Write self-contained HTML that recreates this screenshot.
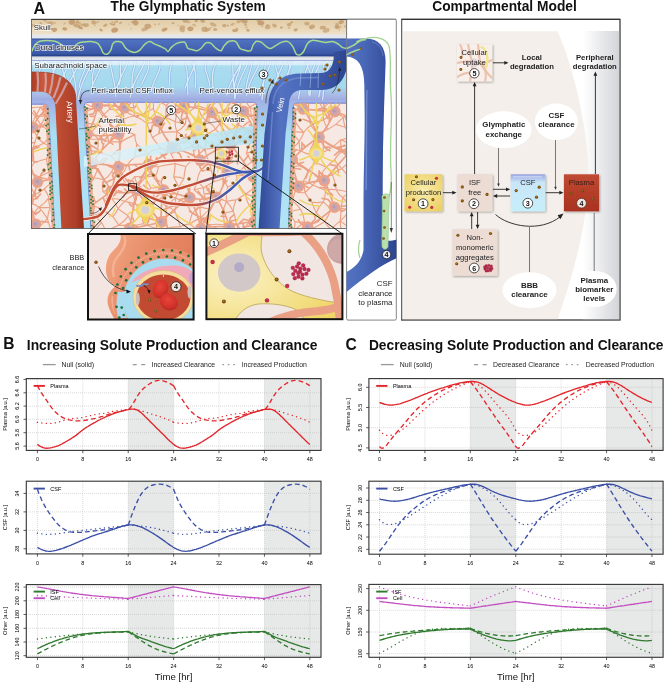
<!DOCTYPE html>
<html><head><meta charset="utf-8"><title>Glymphatic System</title>
<style>html,body{margin:0;padding:0;background:#fff;width:666px;height:685px;overflow:hidden}svg{display:block}text{font-family:"Liberation Sans",Arial,sans-serif}</style>
</head><body>
<svg width="666" height="685" viewBox="0 0 666 685" font-family="Liberation Sans, Arial, sans-serif">
<rect width="666" height="685" fill="#fff"/>
<defs>
<clipPath id="ill"><rect x="31.5" y="19.5" width="315" height="209"/></clipPath>
<linearGradient id="gsk" x1="0" y1="0" x2="0" y2="1"><stop offset="0" stop-color="#e2cda8"/><stop offset="0.6" stop-color="#e8d6b6"/><stop offset="1" stop-color="#efe3cd"/></linearGradient>
<linearGradient id="gdur" x1="0" y1="0" x2="0" y2="1"><stop offset="0" stop-color="#2c4894"/><stop offset="0.1" stop-color="#5070c0"/><stop offset="0.45" stop-color="#4767b6"/><stop offset="0.85" stop-color="#3a58a6"/><stop offset="1" stop-color="#233f88"/></linearGradient>
<linearGradient id="gsas" x1="0" y1="0" x2="0" y2="1"><stop offset="0" stop-color="#d5eef8"/><stop offset="0.15" stop-color="#aadcf0"/><stop offset="0.62" stop-color="#a4d9ee"/><stop offset="0.85" stop-color="#a9b8e6"/><stop offset="1" stop-color="#98a2de"/></linearGradient>
<linearGradient id="gart" x1="0" y1="0" x2="1" y2="0"><stop offset="0" stop-color="#a83c26"/><stop offset="0.2" stop-color="#c8583c"/><stop offset="0.45" stop-color="#c25034"/><stop offset="0.85" stop-color="#ad3e28"/><stop offset="1" stop-color="#8e2e1c"/></linearGradient>
<linearGradient id="gvein" x1="0" y1="0" x2="1" y2="0"><stop offset="0" stop-color="#2f4896"/><stop offset="0.25" stop-color="#5472c2"/><stop offset="0.5" stop-color="#4a68b8"/><stop offset="1" stop-color="#2c4490"/></linearGradient>
<linearGradient id="gpv" x1="0" y1="0" x2="0" y2="1"><stop offset="0" stop-color="#9fb0e6"/><stop offset="0.25" stop-color="#aadcf2"/><stop offset="1" stop-color="#b0e4f5"/></linearGradient>
</defs>
<g clip-path="url(#ill)">
<rect x="31.5" y="19.5" width="315" height="209" fill="#f5e8e2"/>
<rect x="31.5" y="19.5" width="315" height="15.2" fill="url(#gsk)"/>
<ellipse cx="133.7" cy="22.0" rx="2.6" ry="1.3" transform="rotate(2 133.7 22.0)" fill="#c49c70" opacity="0.73"/>
<ellipse cx="50.2" cy="25.6" rx="0.9" ry="0.6" transform="rotate(-26 50.2 25.6)" fill="#c49c70" opacity="0.63"/>
<ellipse cx="165.3" cy="28.8" rx="1.1" ry="0.6" transform="rotate(8 165.3 28.8)" fill="#c49c70" opacity="0.93"/>
<ellipse cx="213.2" cy="24.5" rx="3.5" ry="1.7" transform="rotate(22 213.2 24.5)" fill="#c49c70" opacity="0.70"/>
<ellipse cx="77.3" cy="21.7" rx="1.7" ry="1.3" transform="rotate(-19 77.3 21.7)" fill="#c49c70" opacity="0.80"/>
<ellipse cx="232.6" cy="24.2" rx="2.3" ry="1.1" transform="rotate(-26 232.6 24.2)" fill="#c49c70" opacity="0.67"/>
<ellipse cx="245.6" cy="24.8" rx="1.7" ry="1.1" transform="rotate(-3 245.6 24.8)" fill="#c49c70" opacity="0.70"/>
<ellipse cx="281.4" cy="27.5" rx="1.5" ry="1.0" transform="rotate(2 281.4 27.5)" fill="#c49c70" opacity="0.91"/>
<ellipse cx="261.0" cy="23.4" rx="3.5" ry="1.8" transform="rotate(-5 261.0 23.4)" fill="#c49c70" opacity="0.86"/>
<ellipse cx="79.7" cy="25.4" rx="0.9" ry="0.7" transform="rotate(16 79.7 25.4)" fill="#c49c70" opacity="0.80"/>
<ellipse cx="306.9" cy="23.6" rx="2.7" ry="1.9" transform="rotate(5 306.9 23.6)" fill="#c49c70" opacity="0.76"/>
<ellipse cx="295.7" cy="29.9" rx="2.1" ry="1.5" transform="rotate(-26 295.7 29.9)" fill="#c49c70" opacity="0.85"/>
<ellipse cx="235.2" cy="30.4" rx="3.1" ry="1.7" transform="rotate(-7 235.2 30.4)" fill="#c49c70" opacity="0.83"/>
<ellipse cx="39.1" cy="25.1" rx="1.3" ry="0.6" transform="rotate(-26 39.1 25.1)" fill="#c49c70" opacity="0.87"/>
<ellipse cx="72.6" cy="23.0" rx="1.9" ry="1.5" transform="rotate(-25 72.6 23.0)" fill="#c49c70" opacity="0.76"/>
<ellipse cx="204.5" cy="29.3" rx="3.1" ry="2.5" transform="rotate(-13 204.5 29.3)" fill="#c49c70" opacity="0.75"/>
<ellipse cx="144.7" cy="29.3" rx="3.5" ry="1.8" transform="rotate(-19 144.7 29.3)" fill="#c49c70" opacity="0.68"/>
<ellipse cx="105.3" cy="25.3" rx="2.4" ry="1.4" transform="rotate(-30 105.3 25.3)" fill="#c49c70" opacity="0.75"/>
<ellipse cx="147.9" cy="26.2" rx="3.5" ry="2.5" transform="rotate(1 147.9 26.2)" fill="#c49c70" opacity="0.82"/>
<ellipse cx="244.3" cy="21.0" rx="3.3" ry="2.5" transform="rotate(22 244.3 21.0)" fill="#c49c70" opacity="0.88"/>
<ellipse cx="155.2" cy="24.5" rx="1.1" ry="0.8" transform="rotate(-26 155.2 24.5)" fill="#c49c70" opacity="0.62"/>
<ellipse cx="97.6" cy="22.1" rx="1.8" ry="0.8" transform="rotate(-30 97.6 22.1)" fill="#c49c70" opacity="0.65"/>
<ellipse cx="63.9" cy="24.1" rx="0.9" ry="0.7" transform="rotate(7 63.9 24.1)" fill="#c49c70" opacity="0.65"/>
<ellipse cx="111.2" cy="24.0" rx="1.8" ry="0.9" transform="rotate(21 111.2 24.0)" fill="#c49c70" opacity="0.95"/>
<ellipse cx="178.3" cy="25.3" rx="1.0" ry="0.5" transform="rotate(-9 178.3 25.3)" fill="#c49c70" opacity="0.69"/>
<ellipse cx="292.3" cy="22.1" rx="0.9" ry="0.7" transform="rotate(2 292.3 22.1)" fill="#c49c70" opacity="0.65"/>
<ellipse cx="202.6" cy="20.8" rx="2.3" ry="1.9" transform="rotate(22 202.6 20.8)" fill="#c49c70" opacity="0.84"/>
<ellipse cx="114.0" cy="24.2" rx="1.3" ry="1.0" transform="rotate(2 114.0 24.2)" fill="#c49c70" opacity="0.87"/>
<ellipse cx="135.5" cy="22.7" rx="3.1" ry="2.6" transform="rotate(21 135.5 22.7)" fill="#c49c70" opacity="0.88"/>
<ellipse cx="289.0" cy="27.9" rx="1.4" ry="0.9" transform="rotate(-9 289.0 27.9)" fill="#c49c70" opacity="0.61"/>
<ellipse cx="40.8" cy="23.3" rx="1.5" ry="1.1" transform="rotate(27 40.8 23.3)" fill="#c49c70" opacity="0.76"/>
<ellipse cx="326.2" cy="30.4" rx="3.5" ry="2.1" transform="rotate(-17 326.2 30.4)" fill="#c49c70" opacity="0.68"/>
<ellipse cx="93.8" cy="22.5" rx="2.5" ry="2.1" transform="rotate(20 93.8 22.5)" fill="#c49c70" opacity="0.77"/>
<ellipse cx="237.0" cy="28.5" rx="1.0" ry="0.7" transform="rotate(25 237.0 28.5)" fill="#c49c70" opacity="0.87"/>
<ellipse cx="267.5" cy="25.3" rx="1.3" ry="1.0" transform="rotate(-10 267.5 25.3)" fill="#c49c70" opacity="0.88"/>
<ellipse cx="337.1" cy="24.5" rx="1.9" ry="1.6" transform="rotate(13 337.1 24.5)" fill="#c49c70" opacity="0.66"/>
<ellipse cx="71.9" cy="22.0" rx="3.3" ry="2.6" transform="rotate(-21 71.9 22.0)" fill="#c49c70" opacity="0.89"/>
<ellipse cx="339.8" cy="27.1" rx="1.8" ry="1.2" transform="rotate(-22 339.8 27.1)" fill="#c49c70" opacity="0.60"/>
<ellipse cx="336.9" cy="27.0" rx="2.3" ry="1.9" transform="rotate(-4 336.9 27.0)" fill="#c49c70" opacity="0.91"/>
<ellipse cx="291.4" cy="22.6" rx="1.5" ry="0.9" transform="rotate(-16 291.4 22.6)" fill="#c49c70" opacity="0.81"/>
<ellipse cx="113.4" cy="24.7" rx="1.2" ry="0.9" transform="rotate(-9 113.4 24.7)" fill="#c49c70" opacity="0.76"/>
<ellipse cx="215.2" cy="29.5" rx="2.0" ry="1.6" transform="rotate(0 215.2 29.5)" fill="#c49c70" opacity="0.79"/>
<ellipse cx="196.4" cy="20.7" rx="2.0" ry="1.1" transform="rotate(-30 196.4 20.7)" fill="#c49c70" opacity="0.88"/>
<ellipse cx="86.1" cy="25.2" rx="2.8" ry="1.9" transform="rotate(-10 86.1 25.2)" fill="#c49c70" opacity="0.78"/>
<ellipse cx="206.4" cy="28.3" rx="1.1" ry="0.7" transform="rotate(-15 206.4 28.3)" fill="#c49c70" opacity="0.70"/>
<ellipse cx="274.5" cy="25.6" rx="2.4" ry="1.8" transform="rotate(25 274.5 25.6)" fill="#c49c70" opacity="0.76"/>
<ellipse cx="224.3" cy="25.6" rx="2.2" ry="1.6" transform="rotate(-3 224.3 25.6)" fill="#c49c70" opacity="0.79"/>
<ellipse cx="182.1" cy="29.9" rx="2.8" ry="2.2" transform="rotate(27 182.1 29.9)" fill="#c49c70" opacity="0.69"/>
<ellipse cx="207.7" cy="29.9" rx="3.2" ry="1.6" transform="rotate(-23 207.7 29.9)" fill="#c49c70" opacity="0.75"/>
<ellipse cx="54.8" cy="22.9" rx="1.0" ry="0.7" transform="rotate(17 54.8 22.9)" fill="#c49c70" opacity="0.91"/>
<ellipse cx="80.5" cy="27.7" rx="2.6" ry="1.3" transform="rotate(23 80.5 27.7)" fill="#c49c70" opacity="0.94"/>
<ellipse cx="101.0" cy="30.0" rx="1.9" ry="1.2" transform="rotate(29 101.0 30.0)" fill="#c49c70" opacity="0.89"/>
<ellipse cx="82.7" cy="24.8" rx="2.2" ry="1.3" transform="rotate(-18 82.7 24.8)" fill="#c49c70" opacity="0.71"/>
<ellipse cx="258.8" cy="20.7" rx="2.4" ry="1.5" transform="rotate(-29 258.8 20.7)" fill="#c49c70" opacity="0.72"/>
<ellipse cx="227.9" cy="25.6" rx="1.0" ry="0.8" transform="rotate(17 227.9 25.6)" fill="#c49c70" opacity="0.94"/>
<ellipse cx="64.9" cy="23.2" rx="0.9" ry="0.7" transform="rotate(-14 64.9 23.2)" fill="#c49c70" opacity="0.65"/>
<ellipse cx="164.6" cy="29.6" rx="3.1" ry="1.7" transform="rotate(-21 164.6 29.6)" fill="#c49c70" opacity="0.92"/>
<ellipse cx="211.2" cy="27.5" rx="1.1" ry="0.5" transform="rotate(11 211.2 27.5)" fill="#c49c70" opacity="0.75"/>
<ellipse cx="54.7" cy="29.9" rx="2.6" ry="2.0" transform="rotate(-25 54.7 29.9)" fill="#c49c70" opacity="0.90"/>
<ellipse cx="52.9" cy="29.1" rx="2.1" ry="1.2" transform="rotate(3 52.9 29.1)" fill="#c49c70" opacity="0.92"/>
<ellipse cx="116.1" cy="21.8" rx="2.3" ry="1.2" transform="rotate(-23 116.1 21.8)" fill="#c49c70" opacity="0.66"/>
<ellipse cx="47.8" cy="22.5" rx="1.7" ry="1.0" transform="rotate(16 47.8 22.5)" fill="#c49c70" opacity="0.70"/>
<ellipse cx="189.0" cy="22.3" rx="1.8" ry="0.8" transform="rotate(-15 189.0 22.3)" fill="#c49c70" opacity="0.61"/>
<ellipse cx="262.2" cy="26.0" rx="1.3" ry="0.9" transform="rotate(26 262.2 26.0)" fill="#c49c70" opacity="0.64"/>
<ellipse cx="289.1" cy="24.8" rx="2.2" ry="1.7" transform="rotate(-6 289.1 24.8)" fill="#c49c70" opacity="0.78"/>
<ellipse cx="248.0" cy="30.3" rx="1.8" ry="1.4" transform="rotate(12 248.0 30.3)" fill="#c49c70" opacity="0.82"/>
<ellipse cx="159.1" cy="24.0" rx="1.0" ry="0.5" transform="rotate(-26 159.1 24.0)" fill="#c49c70" opacity="0.86"/>
<ellipse cx="112.3" cy="22.1" rx="1.0" ry="0.8" transform="rotate(22 112.3 22.1)" fill="#c49c70" opacity="0.83"/>
<ellipse cx="120.5" cy="22.9" rx="1.6" ry="1.0" transform="rotate(-21 120.5 22.9)" fill="#c49c70" opacity="0.76"/>
<ellipse cx="114.7" cy="30.1" rx="3.5" ry="2.4" transform="rotate(-15 114.7 30.1)" fill="#c49c70" opacity="0.94"/>
<ellipse cx="129.2" cy="24.1" rx="0.8" ry="0.5" transform="rotate(-2 129.2 24.1)" fill="#c49c70" opacity="0.78"/>
<ellipse cx="95.1" cy="25.5" rx="0.8" ry="0.5" transform="rotate(-25 95.1 25.5)" fill="#c49c70" opacity="0.74"/>
<ellipse cx="45.1" cy="20.7" rx="1.7" ry="0.9" transform="rotate(5 45.1 20.7)" fill="#c49c70" opacity="0.79"/>
<ellipse cx="267.7" cy="27.1" rx="2.8" ry="2.2" transform="rotate(-7 267.7 27.1)" fill="#c49c70" opacity="0.71"/>
<ellipse cx="341.2" cy="22.0" rx="2.8" ry="2.0" transform="rotate(-27 341.2 22.0)" fill="#c49c70" opacity="0.89"/>
<ellipse cx="312.1" cy="26.8" rx="2.9" ry="2.2" transform="rotate(-22 312.1 26.8)" fill="#c49c70" opacity="0.78"/>
<ellipse cx="190.4" cy="28.8" rx="3.1" ry="2.4" transform="rotate(5 190.4 28.8)" fill="#c49c70" opacity="0.91"/>
<ellipse cx="246.4" cy="27.4" rx="1.4" ry="0.7" transform="rotate(-22 246.4 27.4)" fill="#c49c70" opacity="0.73"/>
<ellipse cx="64.9" cy="28.9" rx="2.4" ry="1.7" transform="rotate(8 64.9 28.9)" fill="#c49c70" opacity="0.84"/>
<ellipse cx="185.6" cy="20.5" rx="3.0" ry="2.3" transform="rotate(0 185.6 20.5)" fill="#c49c70" opacity="0.79"/>
<ellipse cx="239.0" cy="21.2" rx="2.9" ry="1.6" transform="rotate(-26 239.0 21.2)" fill="#c49c70" opacity="0.69"/>
<ellipse cx="261.0" cy="22.6" rx="2.9" ry="2.4" transform="rotate(-0 261.0 22.6)" fill="#c49c70" opacity="0.73"/>
<ellipse cx="182.4" cy="27.3" rx="2.9" ry="2.1" transform="rotate(9 182.4 27.3)" fill="#c49c70" opacity="0.63"/>
<ellipse cx="78.3" cy="23.0" rx="2.9" ry="1.6" transform="rotate(4 78.3 23.0)" fill="#c49c70" opacity="0.60"/>
<ellipse cx="51.0" cy="23.2" rx="2.7" ry="1.9" transform="rotate(11 51.0 23.2)" fill="#c49c70" opacity="0.70"/>
<ellipse cx="194.2" cy="25.1" rx="2.1" ry="1.0" transform="rotate(24 194.2 25.1)" fill="#c49c70" opacity="0.67"/>
<ellipse cx="339.1" cy="29.9" rx="0.8" ry="0.5" transform="rotate(19 339.1 29.9)" fill="#c49c70" opacity="0.94"/>
<ellipse cx="173.1" cy="23.2" rx="1.4" ry="1.1" transform="rotate(-17 173.1 23.2)" fill="#c49c70" opacity="0.80"/>
<ellipse cx="76.5" cy="25.7" rx="3.5" ry="1.7" transform="rotate(19 76.5 25.7)" fill="#c49c70" opacity="0.78"/>
<ellipse cx="310.5" cy="27.5" rx="1.4" ry="1.2" transform="rotate(-1 310.5 27.5)" fill="#c49c70" opacity="0.61"/>
<ellipse cx="33.1" cy="25.4" rx="2.1" ry="1.2" transform="rotate(-22 33.1 25.4)" fill="#c49c70" opacity="0.72"/>
<ellipse cx="131.2" cy="28.9" rx="0.8" ry="0.6" transform="rotate(20 131.2 28.9)" fill="#c49c70" opacity="0.64"/>
<ellipse cx="322.9" cy="27.6" rx="3.3" ry="1.9" transform="rotate(-8 322.9 27.6)" fill="#c49c70" opacity="0.74"/>
<ellipse cx="345.6" cy="26.4" rx="1.8" ry="1.1" transform="rotate(-13 345.6 26.4)" fill="#c49c70" opacity="0.62"/>
<ellipse cx="63.9" cy="28.8" rx="1.6" ry="1.3" transform="rotate(-15 63.9 28.8)" fill="#c49c70" opacity="0.69"/>
<rect x="31.5" y="34.6" width="315" height="4" fill="#e4e8ee"/>
<rect x="31.5" y="38.5" width="320" height="17.6" fill="url(#gdur)"/>
<rect x="31.5" y="56" width="298" height="5" rx="2" fill="#e3e6eb"/>
<rect x="31.5" y="56.3" width="315" height="0.8" fill="#2a3f86" opacity="0.6"/>
<path d="M31.5,60.6H346.5" stroke="#8896d6" stroke-width="0.8"/>
<rect x="31.5" y="61" width="315" height="41" fill="url(#gsas)"/>
<path d="M31.70,51.50C32.25,50.40 33.63,46.60 35.00,44.90C36.37,43.20 37.98,42.03 39.90,41.30C41.82,40.57 44.02,40.50 46.50,40.50C48.98,40.50 52.45,40.70 54.80,41.30C57.15,41.90 58.95,42.95 60.60,44.10C62.25,45.25 63.20,47.10 64.70,48.20C66.20,49.30 68.23,50.70 69.60,50.70C70.97,50.70 71.52,49.43 72.90,48.20C74.28,46.97 75.97,44.35 77.90,43.30C79.83,42.25 82.30,42.18 84.50,41.90C86.70,41.62 88.90,41.37 91.10,41.60C93.30,41.83 96.05,42.20 97.70,43.30C99.35,44.40 100.03,46.55 101.00,48.20C101.97,49.85 102.40,52.23 103.50,53.20C104.60,54.17 106.37,54.55 107.60,54.00C108.83,53.45 110.07,51.55 110.90,49.90C111.73,48.25 111.77,45.48 112.60,44.10C113.43,42.72 114.38,41.88 115.90,41.60C117.42,41.32 120.05,41.30 121.70,42.40C123.35,43.50 124.30,46.68 125.80,48.20C127.30,49.72 129.08,50.82 130.70,51.50C132.32,52.18 133.95,52.57 135.50,52.30C137.05,52.03 138.43,51.27 140.00,49.90C141.57,48.53 143.25,45.48 144.90,44.10C146.55,42.72 148.25,41.60 149.90,41.60C151.55,41.60 152.88,43.22 154.80,44.10C156.72,44.98 159.60,46.08 161.40,46.90C163.20,47.72 164.50,48.23 165.60,49.00C166.70,49.77 167.05,51.77 168.00,51.50C168.95,51.23 169.92,48.72 171.30,47.40C172.68,46.08 174.37,44.48 176.30,43.60C178.23,42.72 181.38,42.22 182.90,42.10C184.42,41.98 184.58,41.88 185.40,42.90C186.22,43.92 186.70,47.10 187.80,48.20C188.90,49.30 190.48,49.08 192.00,49.50C193.52,49.92 195.38,50.92 196.90,50.70C198.42,50.48 199.58,49.50 201.10,48.20C202.62,46.90 204.35,43.72 206.00,42.90C207.65,42.08 209.35,42.42 211.00,43.30C212.65,44.18 214.25,46.97 215.90,48.20C217.55,49.43 219.52,51.12 220.90,50.70C222.28,50.28 222.83,47.27 224.20,45.70C225.57,44.13 227.18,41.98 229.10,41.30C231.02,40.62 233.90,40.45 235.70,41.60C237.50,42.75 238.35,46.77 239.90,48.20C241.45,49.63 243.20,49.78 245.00,50.20C246.80,50.62 249.33,51.58 250.70,50.70C252.07,49.82 252.23,46.47 253.20,44.90C254.17,43.33 255.12,41.72 256.50,41.30C257.88,40.88 259.85,41.52 261.50,42.40C263.15,43.28 264.88,45.58 266.40,46.60C267.92,47.62 269.08,48.65 270.60,48.50C272.12,48.35 273.72,46.72 275.50,45.70C277.28,44.68 279.23,43.08 281.30,42.40C283.37,41.72 285.98,40.90 287.90,41.60C289.82,42.30 291.42,44.53 292.80,46.60C294.18,48.67 294.95,52.63 296.20,54.00C297.45,55.37 299.07,55.22 300.30,54.80C301.53,54.38 302.37,53.42 303.60,51.50C304.83,49.58 306.18,45.17 307.70,43.30C309.22,41.43 310.77,40.63 312.70,40.30C314.63,39.97 317.10,40.95 319.30,41.30C321.50,41.65 323.70,42.35 325.90,42.40C328.10,42.45 330.43,41.32 332.50,41.60C334.57,41.88 336.65,43.13 338.30,44.10C339.95,45.07 340.90,46.72 342.40,47.40C343.90,48.08 345.37,48.60 347.30,48.20C349.23,47.80 351.88,46.20 354.00,45.00C356.12,43.80 358.00,41.92 360.00,41.00C362.00,40.08 365.00,39.75 366.00,39.50" stroke="#a6d890" stroke-width="1.5" fill="none" stroke-linejoin="round"/><path d="M322.00,66.00C323.33,65.50 327.33,64.00 330.00,63.00C332.67,62.00 335.67,61.17 338.00,60.00C340.33,58.83 342.00,57.17 344.00,56.00C346.00,54.83 348.00,53.92 350.00,53.00C352.00,52.08 354.00,51.25 356.00,50.50C358.00,49.75 361.00,48.83 362.00,48.50" stroke="#a6d890" stroke-width="1.4" fill="none"/>
<path d="M38.1,61C43.5,70 36.8,76 33.7,90.3M50.8,61C51.4,70 58.3,76 56.6,100.0M58.4,61C56.4,70 47.8,78 44.8,91.2M63.5,61C58.1,70 69.0,76 65.5,88.9M69.9,61C67.9,70 60.5,78 57.5,89.5M72.8,61C69.9,70 77.4,76 76.1,100.6M79.6,61C77.6,70 69.8,78 66.8,90.3M84.0,61C88.9,70 79.2,76 79.3,87.5M92.5,61C90.5,70 81.0,78 78.0,99.9M97.7,61C92.8,70 91.4,76 92.7,87.3M102.9,61C100.9,70 94.7,78 91.7,88.1M110.4,61C109.4,70 115.2,76 115.8,96.7M121.3,61C118.6,70 122.7,76 119.0,85.1M127.8,61C125.8,70 118.3,78 115.3,94.1M136.2,61C133.2,70 131.4,76 132.2,88.6M144.9,61C142.9,70 133.2,78 130.2,97.6M148.2,61C150.8,70 144.7,76 141.5,84.5M158.5,61C163.6,70 154.1,76 151.5,90.7M172.8,61C168.7,70 169.5,76 169.3,85.9M184.6,61C187.8,70 187.4,76 187.8,95.0M191.2,61C196.3,70 196.4,76 195.2,88.0M195.9,61C193.9,70 188.2,78 185.2,88.0M206.8,61C201.7,70 209.8,76 209.6,85.9M217.3,61C211.5,70 211.9,76 213.5,94.2M232.8,61C232.5,70 232.7,76 234.8,99.0M241.6,61C239.6,70 229.8,78 226.8,95.3M240.8,61C242.9,70 233.5,76 234.1,92.5M248.2,61C246.2,70 237.8,78 234.8,98.8M252.4,61C251.4,70 247.3,76 245.8,89.7M260.3,61C258.3,70 249.4,78 246.4,95.8M266.0,61C263.8,70 264.5,76 261.9,100.5M271.1,61C269.1,70 263.0,78 260.0,96.2M276.8,61C273.0,70 280.9,76 283.1,92.4M284.1,61C282.1,70 273.8,78 270.8,99.2M287.9,61C293.6,70 283.5,76 286.4,87.6M292.2,61C290.2,70 284.9,78 281.9,90.3M304.4,61C310.4,70 313.2,76 309.8,96.5M309.3,61C307.3,70 301.4,78 298.4,99.0M315.5,61C314.0,70 307.9,76 308.9,95.3M320.3,61C318.3,70 312.5,78 309.5,84.0M324.7,61C320.2,70 326.3,76 322.6,100.2M330.5,61C328.5,70 321.7,78 318.7,97.1M339.9,61C339.6,70 338.0,76 339.0,84.8" stroke="#7c92da" stroke-width="2.5" fill="none" opacity="0.5"/>
<path d="M38.1,61C43.5,70 36.8,76 33.7,90.3M50.8,61C51.4,70 58.3,76 56.6,100.0M58.4,61C56.4,70 47.8,78 44.8,91.2M63.5,61C58.1,70 69.0,76 65.5,88.9M69.9,61C67.9,70 60.5,78 57.5,89.5M72.8,61C69.9,70 77.4,76 76.1,100.6M79.6,61C77.6,70 69.8,78 66.8,90.3M84.0,61C88.9,70 79.2,76 79.3,87.5M92.5,61C90.5,70 81.0,78 78.0,99.9M97.7,61C92.8,70 91.4,76 92.7,87.3M102.9,61C100.9,70 94.7,78 91.7,88.1M110.4,61C109.4,70 115.2,76 115.8,96.7M121.3,61C118.6,70 122.7,76 119.0,85.1M127.8,61C125.8,70 118.3,78 115.3,94.1M136.2,61C133.2,70 131.4,76 132.2,88.6M144.9,61C142.9,70 133.2,78 130.2,97.6M148.2,61C150.8,70 144.7,76 141.5,84.5M158.5,61C163.6,70 154.1,76 151.5,90.7M172.8,61C168.7,70 169.5,76 169.3,85.9M184.6,61C187.8,70 187.4,76 187.8,95.0M191.2,61C196.3,70 196.4,76 195.2,88.0M195.9,61C193.9,70 188.2,78 185.2,88.0M206.8,61C201.7,70 209.8,76 209.6,85.9M217.3,61C211.5,70 211.9,76 213.5,94.2M232.8,61C232.5,70 232.7,76 234.8,99.0M241.6,61C239.6,70 229.8,78 226.8,95.3M240.8,61C242.9,70 233.5,76 234.1,92.5M248.2,61C246.2,70 237.8,78 234.8,98.8M252.4,61C251.4,70 247.3,76 245.8,89.7M260.3,61C258.3,70 249.4,78 246.4,95.8M266.0,61C263.8,70 264.5,76 261.9,100.5M271.1,61C269.1,70 263.0,78 260.0,96.2M276.8,61C273.0,70 280.9,76 283.1,92.4M284.1,61C282.1,70 273.8,78 270.8,99.2M287.9,61C293.6,70 283.5,76 286.4,87.6M292.2,61C290.2,70 284.9,78 281.9,90.3M304.4,61C310.4,70 313.2,76 309.8,96.5M309.3,61C307.3,70 301.4,78 298.4,99.0M315.5,61C314.0,70 307.9,76 308.9,95.3M320.3,61C318.3,70 312.5,78 309.5,84.0M324.7,61C320.2,70 326.3,76 322.6,100.2M330.5,61C328.5,70 321.7,78 318.7,97.1M339.9,61C339.6,70 338.0,76 339.0,84.8" stroke="#e4f6fc" stroke-width="1.3" fill="none" opacity="0.85"/>
<rect x="31.5" y="61" width="315" height="4" fill="#eaf6fb" opacity="0.6"/>
<rect x="31.5" y="100" width="315" height="130" fill="url(#gpv)"/>
<path d="M20,104.2H44.3Q48.3,104.2 48.4,108.2L55.3,240H20Z" fill="#f6e9e3" stroke="#6a78cc" stroke-width="0.9"/>
<path d="M84,106.3Q84,102.3 88,102.3H253Q257,102.3 257,106.3L255,240H91.5Z" fill="#f6e9e3" stroke="#6a78cc" stroke-width="0.9"/>
<path d="M293,107.2Q293,103.2 297,103.2H360V240H288Z" fill="#f6e9e3" stroke="#6a78cc" stroke-width="0.9"/>
<clipPath id="blk"><path d="M20,104.2H44.3Q48.3,104.2 48.4,108.2L55.3,240H20Z"/><path d="M84,106.3Q84,102.3 88,102.3H253Q257,102.3 257,106.3L255,240H91.5Z"/><path d="M293,107.2Q293,103.2 297,103.2H360V240H288Z"/></clipPath>
<g clip-path="url(#blk)">
<path d="M33.0,148.1Q38.6,146.0 43.8,143.3M33.0,148.1Q35.1,142.3 36.8,135.9M33.0,148.1Q33.2,154.6 34.1,162.7M51.3,104.0Q46.4,106.6 40.6,107.0M51.3,104.0Q48.8,110.5 45.3,116.0M38.7,207.2Q35.5,204.2 29.5,202.8M38.7,207.2Q44.6,208.2 50.0,207.2M38.7,207.2Q35.8,210.4 32.0,216.7M28.9,108.3Q32.1,113.1 35.3,116.1M28.9,108.3Q33.8,107.3 40.6,107.0M28.9,108.3Q31.5,116.5 31.1,125.0M51.9,133.9Q52.2,129.3 52.1,124.1M51.9,133.9Q48.9,138.5 43.8,143.3M51.9,133.9Q47.5,130.0 40.8,124.9M47.4,218.6Q48.4,213.2 50.0,207.2M47.4,218.6Q48.6,223.2 51.0,230.4M47.4,218.6Q43.0,211.5 38.7,207.2M36.8,135.9Q39.7,140.6 43.8,143.3M36.8,135.9Q40.2,129.5 40.8,124.9M36.8,135.9Q33.0,130.0 31.1,125.0M52.9,181.4Q50.6,175.8 48.7,172.3M52.9,181.4Q49.4,184.2 44.1,189.0M52.9,181.4Q46.0,178.5 38.9,176.9M34.8,194.6Q32.6,197.6 29.5,202.8M34.8,194.6Q39.5,192.8 44.1,189.0M34.8,194.6Q31.2,188.5 30.5,184.2M34.1,162.7Q30.2,168.8 28.9,172.9M34.1,162.7Q40.8,160.1 46.5,159.0M52.1,124.1Q49.9,119.1 45.3,116.0M52.1,124.1Q46.4,125.2 40.8,124.9M48.9,197.5Q46.8,191.9 44.1,189.0M48.9,197.5Q48.1,201.4 50.0,207.2M48.9,197.5Q45.1,203.5 38.7,207.2M43.8,143.3Q47.4,144.8 52.2,149.1M28.9,172.9Q34.3,174.0 38.9,176.9M28.9,172.9Q30.9,179.8 30.5,184.2M36.5,229.4Q35.1,223.9 32.0,216.7M36.5,229.4Q44.6,230.9 51.0,230.4M36.5,229.4Q41.6,224.7 47.4,218.6M46.5,159.0Q47.9,154.7 52.2,149.1M46.5,159.0Q47.4,167.1 48.7,172.3M45.3,116.0Q43.9,120.3 40.8,124.9M45.3,116.0Q40.9,116.3 35.3,116.1M45.3,116.0Q43.3,110.0 40.6,107.0M32.0,216.7Q29.9,209.0 29.5,202.8M31.1,125.0Q36.6,126.2 40.8,124.9M31.1,125.0Q33.6,121.3 35.3,116.1M52.2,149.1Q52.5,140.5 51.9,133.9M48.7,172.3Q43.1,174.9 38.9,176.9M40.6,107.0Q38.7,111.3 35.3,116.1M38.9,176.9Q35.3,180.1 30.5,184.2M40.8,124.9Q37.5,119.5 35.3,116.1" stroke="#eca385" stroke-width="1.15" fill="none" stroke-linecap="round"/>
<path d="M155.7,175.7Q157.8,171.9 158.5,166.5M155.7,175.7Q149.1,176.5 145.2,177.4M155.7,175.7Q158.1,181.7 160.5,186.6M101.5,222.6Q97.3,227.5 95.1,229.8M101.5,222.6Q104.2,226.2 105.6,232.0M101.5,222.6Q98.9,219.3 93.3,215.9M83.5,196.0Q86.4,191.8 87.8,186.4M83.5,196.0Q88.9,200.9 94.7,206.0M143.7,223.7Q141.7,219.8 142.4,213.9M143.7,223.7Q139.0,223.8 133.1,226.4M143.7,223.7Q150.4,226.8 156.4,228.6M133.0,101.4Q126.9,106.5 122.7,109.5M133.0,101.4Q126.8,99.9 119.4,99.5M133.0,101.4Q133.9,109.5 134.6,116.0M204.9,148.7Q210.9,149.3 214.8,147.8M204.9,148.7Q198.2,147.7 192.8,146.4M204.9,148.7Q206.4,142.8 205.3,135.4M227.6,187.3Q224.6,181.6 223.5,178.0M227.6,187.3Q234.2,184.1 238.3,183.8M227.6,187.3Q225.9,193.0 226.5,201.5M160.5,186.6Q163.2,189.5 165.2,195.2M160.5,186.6Q155.0,188.5 150.8,187.8M116.7,185.6Q121.0,185.2 126.7,185.2M116.7,185.6Q118.7,180.7 121.7,174.3M116.7,185.6Q112.8,191.8 111.7,198.5M183.3,104.4Q178.1,108.8 175.6,110.4M183.3,104.4Q180.8,102.3 175.8,98.1M183.3,104.4Q184.9,110.5 186.7,114.0M110.8,155.7Q114.5,158.5 116.6,163.3M110.8,155.7Q115.3,154.1 120.2,152.5M110.8,155.7Q103.3,154.0 97.9,151.6M98.0,168.3Q96.7,171.9 93.9,178.0M98.0,168.3Q101.1,174.8 103.6,179.8M98.0,168.3Q92.3,168.9 84.3,167.6M152.4,137.6Q158.3,133.6 162.9,132.0M152.4,137.6Q156.8,143.3 160.3,148.2M152.4,137.6Q149.1,129.6 146.7,123.4M215.6,196.9Q210.2,196.5 205.6,198.5M215.6,196.9Q221.5,199.3 226.5,201.5M215.6,196.9Q214.2,202.3 210.0,209.1M93.9,178.0Q98.2,177.9 103.6,179.8M93.9,178.0Q92.1,182.0 87.8,186.4M258.7,179.3Q254.9,176.5 249.4,176.5M258.7,179.3Q257.4,184.7 253.9,188.2M258.7,179.3Q259.2,172.4 259.7,167.2M257.3,129.2Q252.7,131.1 247.6,130.1M257.3,129.2Q253.4,135.0 251.3,140.7M257.3,129.2Q255.5,123.7 250.9,116.7M121.3,141.8Q119.3,146.0 120.2,152.5M121.3,141.8Q123.1,135.4 125.2,130.2M121.3,141.8Q114.3,141.9 108.7,141.6M123.7,119.4Q123.9,114.8 122.7,109.5M123.7,119.4Q125.4,123.9 125.2,130.2M123.7,119.4Q128.3,116.5 134.6,116.0M127.3,165.1Q124.9,171.1 121.7,174.3M127.3,165.1Q130.1,160.6 134.7,157.1M127.3,165.1Q122.0,163.2 116.6,163.3M226.5,201.5Q232.3,199.9 235.9,199.9M226.5,201.5Q230.5,205.3 233.2,211.3M195.6,133.6Q201.9,134.2 205.3,135.4M195.6,133.6Q190.0,135.6 184.6,138.1M195.6,133.6Q194.4,139.4 192.8,146.4M83.2,213.2Q88.3,214.7 93.3,215.9M83.2,213.2Q83.2,219.5 85.5,226.4M83.2,213.2Q90.0,209.3 94.7,206.0M106.0,132.0Q107.6,135.3 108.7,141.6M106.0,132.0Q111.0,128.4 115.3,127.3M106.0,132.0Q101.7,136.9 98.2,139.2M136.1,204.7Q134.5,199.2 133.1,195.0M136.1,204.7Q140.1,209.1 142.4,213.9M136.1,204.7Q130.1,202.3 124.6,201.4M250.3,220.7Q254.4,222.7 260.0,226.9M250.3,220.7Q255.0,216.5 259.7,212.8M250.3,220.7Q246.1,226.0 241.9,232.0M233.2,211.3Q228.2,212.0 222.6,213.9M233.2,211.3Q233.6,205.7 235.9,199.9M166.1,105.5Q170.3,106.6 175.6,110.4M166.1,105.5Q166.1,111.4 165.7,117.6M166.1,105.5Q170.6,100.8 175.8,98.1M102.6,116.0Q101.5,121.8 98.2,124.8M102.6,116.0Q105.1,113.5 109.7,109.2M102.6,116.0Q99.8,110.8 94.5,107.5M233.5,100.1Q239.2,100.2 242.9,99.1M233.5,100.1Q235.5,107.3 237.6,113.9M233.5,100.1Q228.1,105.4 223.6,111.6M211.4,170.8Q210.6,167.3 208.7,161.6M211.4,170.8Q205.3,169.8 200.4,170.8M211.4,170.8Q213.0,176.7 214.5,181.5M223.6,111.6Q222.1,115.4 222.3,121.8M223.6,111.6Q219.5,104.8 218.1,99.2M223.6,111.6Q231.1,113.2 237.6,113.9M209.0,122.3Q213.5,124.9 215.4,129.4M209.0,122.3Q204.2,119.8 201.5,116.2M209.0,122.3Q209.4,115.3 209.1,109.5M136.8,144.2Q134.5,139.5 135.0,134.6M136.8,144.2Q135.8,150.6 134.7,157.1M136.8,144.2Q141.6,149.0 147.6,153.4M236.5,173.8Q240.4,170.9 243.8,167.1M236.5,173.8Q236.3,178.7 238.3,183.8M236.5,173.8Q243.9,174.1 249.4,176.5M103.0,191.7Q107.9,196.5 111.7,198.5M103.0,191.7Q102.0,184.9 103.6,179.8M103.0,191.7Q110.6,188.7 116.7,185.6M251.7,161.8Q247.9,165.4 243.8,167.1M251.7,161.8Q255.2,164.6 259.7,167.2M251.7,161.8Q250.3,158.9 246.3,153.3M197.7,105.5Q199.2,110.8 201.5,116.2M197.7,105.5Q202.2,107.6 209.1,109.5M197.7,105.5Q192.8,108.6 186.7,114.0M158.5,166.5Q152.2,167.2 144.8,167.2M158.5,166.5Q167.2,164.8 175.2,163.6M91.7,131.8Q93.9,129.2 98.2,124.8M91.7,131.8Q95.8,136.1 98.2,139.2M91.7,131.8Q88.2,134.2 83.6,138.7M111.7,198.5Q116.1,204.2 118.1,208.7M111.7,198.5Q119.6,198.7 124.6,201.4M224.2,225.0Q224.6,219.2 222.6,213.9M224.2,225.0Q228.7,225.0 236.0,223.5M224.2,225.0Q217.4,223.6 209.8,224.9M203.7,187.8Q199.9,184.2 197.2,180.5M203.7,187.8Q200.2,188.2 194.0,189.8M203.7,187.8Q203.2,194.6 205.6,198.5M135.0,134.6Q129.1,133.3 125.2,130.2M135.0,134.6Q126.8,138.2 121.3,141.8M148.5,206.6Q145.8,210.5 142.4,213.9M148.5,206.6Q153.9,202.6 156.5,200.0M148.5,206.6Q146.2,201.3 145.2,195.6M175.1,121.7Q175.0,127.3 176.8,131.6M175.1,121.7Q171.0,119.3 165.7,117.6M175.1,121.7Q179.6,122.3 185.4,124.1M147.6,153.4Q141.1,155.1 134.7,157.1M147.6,153.4Q152.6,149.8 160.3,148.2M147.6,153.4Q147.0,161.6 144.8,167.2M166.3,216.2Q160.5,216.9 156.8,217.9M166.3,216.2Q170.5,213.7 175.0,211.8M166.3,216.2Q166.3,209.7 165.9,206.2M85.5,157.3Q85.4,154.2 82.4,148.1M85.5,157.3Q85.2,162.9 84.3,167.6M85.5,157.3Q91.6,153.6 97.9,151.6M144.8,167.2Q146.1,171.3 145.2,177.4M144.8,167.2Q148.8,172.8 155.7,175.7M152.7,98.7Q153.8,102.3 153.4,108.5M152.7,98.7Q160.2,101.5 166.1,105.5M152.7,98.7Q149.2,105.0 144.5,113.5M237.3,123.7Q235.3,127.3 231.2,131.2M237.3,123.7Q237.6,118.9 237.6,113.9M237.3,123.7Q241.1,126.9 247.6,130.1M108.7,141.6Q103.5,139.2 98.2,139.2M175.9,142.0Q180.6,139.9 184.6,138.1M175.9,142.0Q179.5,145.5 181.3,150.7M175.9,142.0Q176.5,136.3 176.8,131.6M195.0,157.7Q193.1,150.9 192.8,146.4M195.0,157.7Q190.2,161.0 185.8,166.5M195.0,157.7Q199.1,154.0 204.9,148.7M247.6,130.1Q245.0,135.3 240.8,138.1M247.6,130.1Q250.3,135.2 251.3,140.7M233.4,148.1Q231.7,151.7 232.5,157.9M233.4,148.1Q237.6,144.5 240.8,138.1M233.4,148.1Q229.1,151.0 222.8,154.8M125.2,130.2Q121.3,129.6 115.3,127.3M118.1,208.7Q115.8,213.7 112.8,216.6M118.1,208.7Q120.5,205.5 124.6,201.4M251.3,140.7Q254.5,144.9 256.1,148.9M251.3,140.7Q246.9,140.0 240.8,138.1M224.8,138.4Q227.2,135.3 231.2,131.2M224.8,138.4Q220.8,134.3 215.4,129.4M224.8,138.4Q228.4,141.9 233.4,148.1M185.4,124.1Q185.9,119.7 186.7,114.0M185.4,124.1Q181.9,129.1 176.8,131.6M243.8,167.1Q247.6,171.8 249.4,176.5M187.1,204.4Q189.1,209.0 192.3,213.4M187.1,204.4Q182.5,200.5 175.6,197.9M187.1,204.4Q192.7,206.8 200.1,206.9M175.2,163.6Q181.9,165.8 185.8,166.5M175.2,163.6Q174.1,158.9 170.1,152.3M175.2,163.6Q174.8,170.8 173.7,176.9M208.7,161.6Q204.7,167.3 200.4,170.8M208.7,161.6Q206.1,156.0 204.9,148.7M184.6,138.1Q181.3,134.6 176.8,131.6M184.6,138.1Q187.3,140.9 192.8,146.4M85.3,123.1Q84.9,118.9 82.2,113.4M85.3,123.1Q89.5,127.6 91.7,131.8M85.3,123.1Q91.2,123.8 98.2,124.8M185.8,166.5Q184.5,171.9 183.8,178.8M94.7,206.0Q93.5,210.7 93.3,215.9M94.7,206.0Q98.4,207.4 104.1,210.8M257.0,198.0Q256.7,194.2 253.9,188.2M257.0,198.0Q251.8,201.2 249.4,205.9M257.0,198.0Q251.3,195.7 245.6,193.9M194.0,189.8Q196.5,185.1 197.2,180.5M194.0,189.8Q199.2,194.4 205.6,198.5M223.5,178.0Q219.7,180.1 214.5,181.5M223.5,178.0Q222.5,173.4 223.9,165.9M192.3,213.4Q196.4,214.5 201.1,217.6M192.3,213.4Q195.8,209.0 200.1,206.9M138.6,185.4Q135.7,182.3 134.5,176.7M138.6,185.4Q140.9,182.6 145.2,177.4M138.6,185.4Q136.7,189.4 133.1,195.0M87.8,186.4Q86.2,180.3 82.2,176.9M209.8,224.9Q205.2,222.7 201.1,217.6M209.8,224.9Q204.5,229.3 200.3,231.6M122.7,109.5Q121.2,104.9 119.4,99.5M122.7,109.5Q117.5,110.3 109.7,109.2M245.6,193.9Q249.0,191.6 253.9,188.2M245.6,193.9Q240.4,197.3 235.9,199.9M260.0,226.9Q260.7,219.2 259.7,212.8M189.5,223.9Q184.1,224.3 180.2,226.9M189.5,223.9Q189.8,220.1 192.3,213.4M189.5,223.9Q196.3,219.7 201.1,217.6M84.3,167.6Q82.1,171.0 82.2,176.9M126.7,185.2Q131.1,181.7 134.5,176.7M126.7,185.2Q130.0,189.4 133.1,195.0M85.5,226.4Q89.6,227.3 95.1,229.8M85.5,226.4Q89.5,219.8 93.3,215.9M250.9,116.7Q251.4,112.6 249.7,106.9M250.9,116.7Q255.1,115.7 260.0,112.1M250.9,116.7Q245.4,115.5 237.6,113.9M222.3,121.8Q217.5,125.8 215.4,129.4M222.3,121.8Q226.2,127.4 231.2,131.2M165.2,195.2Q161.0,198.5 156.5,200.0M165.2,195.2Q169.6,195.8 175.6,197.9M197.2,180.5Q198.0,175.2 200.4,170.8M118.9,225.1Q116.0,220.8 112.8,216.6M118.9,225.1Q125.1,221.0 128.4,215.9M118.9,225.1Q126.4,225.1 133.1,226.4M240.8,138.1Q236.7,133.3 231.2,131.2M109.7,109.2Q108.7,105.8 107.1,99.6M145.2,195.6Q146.8,192.8 150.8,187.8M145.2,195.6Q150.1,197.3 156.5,200.0M165.7,117.6Q160.5,118.9 155.9,121.0M181.3,150.7Q177.0,151.3 170.1,152.3M181.3,150.7Q186.6,147.3 192.8,146.4M170.1,152.3Q166.5,150.2 160.3,148.2M170.1,152.3Q174.4,146.3 175.9,142.0M128.4,215.9Q130.3,221.3 133.1,226.4M128.4,215.9Q124.4,213.3 118.1,208.7M173.7,176.9Q179.7,176.6 183.8,178.8M173.7,176.9Q176.3,182.1 178.9,187.3M205.6,198.5Q203.5,201.7 200.1,206.9M238.3,183.8Q241.7,189.4 245.6,193.9M111.5,172.1Q112.6,167.6 116.6,163.3M111.5,172.1Q116.5,174.4 121.7,174.3M111.5,172.1Q109.0,176.7 103.6,179.8M146.7,123.4Q151.6,123.3 155.9,121.0M146.7,123.4Q146.2,117.2 144.5,113.5M146.7,123.4Q140.7,118.4 134.6,116.0M178.9,187.3Q180.4,183.8 183.8,178.8M178.9,187.3Q178.6,191.4 175.6,197.9M222.8,154.8Q228.3,157.1 232.5,157.9M222.8,154.8Q220.2,151.8 214.8,147.8M222.8,154.8Q224.0,160.7 223.9,165.9M165.9,206.2Q171.9,207.8 175.0,211.8M165.9,206.2Q165.3,200.3 165.2,195.2M167.4,228.0Q163.4,229.6 156.4,228.6M167.4,228.0Q166.3,221.1 166.3,216.2M167.4,228.0Q174.0,226.7 180.2,226.9M236.0,223.5Q240.4,228.3 241.9,232.0M236.0,223.5Q235.5,216.9 233.2,211.3M218.1,99.2Q213.7,104.6 209.1,109.5M218.1,99.2Q226.5,99.7 233.5,100.1M242.9,99.1Q246.0,102.0 249.7,106.9M242.9,99.1Q239.4,107.3 237.6,113.9M214.8,147.8Q220.3,143.5 224.8,138.4M107.1,99.6Q114.4,98.5 119.4,99.5M107.1,99.6Q101.9,103.1 94.5,107.5M246.3,153.3Q250.8,152.5 256.1,148.9M246.3,153.3Q248.3,146.3 251.3,140.7M209.1,109.5Q206.7,113.6 201.5,116.2M200.3,231.6Q194.8,228.2 189.5,223.9M200.3,231.6Q199.5,224.0 201.1,217.6M97.9,151.6Q98.1,146.2 98.2,139.2M155.9,121.0Q155.9,116.2 153.4,108.5M104.1,210.8Q109.6,214.8 112.8,216.6M104.1,210.8Q99.2,213.7 93.3,215.9M153.4,108.5Q147.8,111.5 144.5,113.5M258.3,102.4Q255.0,104.3 249.7,106.9M258.3,102.4Q258.0,106.4 260.0,112.1M258.3,102.4Q251.8,101.9 242.9,99.1M150.8,187.8Q147.3,181.6 145.2,177.4M82.4,148.1Q83.7,143.1 83.6,138.7M82.4,148.1Q89.5,151.0 97.9,151.6M210.0,209.1Q204.0,208.4 200.1,206.9M210.0,209.1Q209.2,202.6 205.6,198.5M210.0,209.1Q205.8,212.1 201.1,217.6M175.0,211.8Q175.7,203.6 175.6,197.9M156.8,217.9Q156.7,223.5 156.4,228.6M156.8,217.9Q153.4,211.9 148.5,206.6M121.7,174.3Q123.1,180.9 126.7,185.2M134.6,116.0Q140.0,115.3 144.5,113.5M134.6,116.0Q128.7,114.0 122.7,109.5M82.2,113.4Q82.5,106.9 82.5,101.9M82.2,113.4Q88.3,111.1 94.5,107.5M215.4,129.4Q210.2,132.2 205.3,135.4M256.1,148.9Q253.4,154.7 251.7,161.8M134.5,176.7Q139.4,176.6 145.2,177.4M98.2,124.8Q102.7,128.7 106.0,132.0M249.4,205.9Q253.1,208.9 259.7,212.8M249.4,205.9Q246.0,200.5 245.6,193.9M162.9,132.0Q158.7,127.5 155.9,121.0M162.9,132.0Q170.3,132.3 176.8,131.6M180.2,226.9Q178.5,219.6 175.0,211.8M223.9,165.9Q228.9,162.8 232.5,157.9M124.6,201.4Q127.5,198.8 133.1,195.0M186.7,114.0Q182.2,111.5 175.6,110.4M94.5,107.5Q88.2,105.8 82.5,101.9M115.3,127.3Q120.8,122.5 123.7,119.4M105.6,232.0Q100.3,230.9 95.1,229.8M105.6,232.0Q112.5,227.7 118.9,225.1M260.0,112.1Q254.5,110.6 249.7,106.9M201.1,217.6Q199.8,213.3 200.1,206.9M214.5,181.5Q210.5,183.4 203.7,187.8M120.2,152.5Q119.6,157.2 116.6,163.3M222.6,213.9Q223.4,207.6 226.5,201.5M175.6,110.4Q176.9,116.3 175.1,121.7M83.6,138.7Q90.2,139.2 98.2,139.2M156.5,200.0Q161.8,202.1 165.9,206.2M237.6,113.9Q245.0,110.3 249.7,106.9M175.6,197.9Q169.7,202.5 165.9,206.2M119.4,99.5Q114.6,103.7 109.7,109.2M249.4,176.5Q252.8,180.9 253.9,188.2M175.8,98.1Q175.1,104.5 175.6,110.4M259.7,167.2Q253.5,170.4 249.4,176.5M82.2,176.9Q88.8,176.4 93.9,178.0" stroke="#eca385" stroke-width="1.15" fill="none" stroke-linecap="round"/>
<path d="M300.2,150.8Q296.8,149.9 291.1,148.0M300.2,150.8Q299.0,146.4 299.3,141.2M300.2,150.8Q306.0,153.8 309.2,154.4M315.4,162.7Q312.3,159.8 309.2,154.4M315.4,162.7Q311.7,166.5 308.0,171.0M315.4,162.7Q321.2,164.2 326.5,167.4M293.0,201.1Q293.1,196.9 295.1,191.3M293.0,201.1Q297.4,204.8 300.6,209.3M293.0,201.1Q292.0,207.0 288.7,212.2M288.8,183.8Q293.3,186.6 295.1,191.3M288.8,183.8Q295.7,183.1 303.4,181.0M288.8,183.8Q290.6,175.1 289.6,168.2M327.7,129.5Q333.1,126.3 335.8,124.4M327.7,129.5Q324.9,123.8 323.4,119.9M327.7,129.5Q322.0,132.7 317.7,133.1M304.5,221.9Q304.8,226.4 303.1,231.3M304.5,221.9Q299.4,222.6 294.9,221.6M304.5,221.9Q309.8,224.9 312.6,228.5M296.0,122.9Q295.9,128.2 292.8,132.3M296.0,122.9Q295.9,119.1 293.2,112.9M296.0,122.9Q300.0,129.1 303.8,132.5M332.5,174.9Q330.6,169.7 326.5,167.4M332.5,174.9Q336.6,170.3 341.8,168.6M332.5,174.9Q326.9,176.8 320.6,177.3M332.8,111.6Q329.0,110.6 322.6,108.6M332.8,111.6Q330.2,105.3 330.4,100.4M332.8,111.6Q339.2,114.0 343.4,117.4M332.7,146.9Q337.3,148.6 341.5,151.5M332.7,146.9Q335.4,144.7 340.6,139.8M332.7,146.9Q327.6,144.4 323.5,141.1M308.5,111.6Q305.9,107.7 300.9,105.3M308.5,111.6Q308.4,105.4 309.0,99.6M308.5,111.6Q310.1,119.4 310.6,125.5M303.4,181.0Q309.0,182.0 312.9,185.1M303.4,181.0Q306.1,176.6 308.0,171.0M303.4,181.0Q304.2,186.4 304.9,192.5M304.9,192.5Q300.0,193.4 295.1,191.3M304.9,192.5Q309.3,188.6 312.9,185.1M309.0,99.6Q313.5,100.8 318.6,99.5M309.0,99.6Q306.4,101.6 300.9,105.3M290.7,102.9Q290.9,108.3 293.2,112.9M290.7,102.9Q295.6,103.2 300.9,105.3M331.1,209.4Q335.3,210.3 341.1,208.4M331.1,209.4Q328.0,206.2 323.4,201.9M331.1,209.4Q328.3,215.8 324.9,221.4M323.4,201.9Q316.7,203.1 311.7,202.1M323.4,201.9Q325.7,196.1 325.3,190.2M323.4,119.9Q323.7,114.2 322.6,108.6M323.4,119.9Q328.6,116.6 332.8,111.6M341.5,151.5Q336.7,155.9 334.4,159.9M341.5,151.5Q340.8,147.1 340.6,139.8M340.6,139.8Q344.7,139.5 350.6,136.4M325.3,190.2Q330.2,189.0 336.2,189.7M325.3,190.2Q319.5,188.3 312.9,185.1M342.7,197.5Q346.2,194.3 351.3,193.0M342.7,197.5Q338.7,195.0 336.2,189.7M342.7,197.5Q342.1,202.1 341.1,208.4M313.2,144.1Q319.8,143.1 323.5,141.1M313.2,144.1Q310.2,148.1 309.2,154.4M313.2,144.1Q316.1,137.4 317.7,133.1M341.8,168.6Q338.4,165.7 334.4,159.9M341.8,168.6Q347.4,163.6 351.3,160.6M320.6,177.3Q316.2,179.9 312.9,185.1M320.6,177.3Q322.2,171.0 326.5,167.4M310.6,125.5Q306.9,127.7 303.8,132.5M310.6,125.5Q314.1,129.8 317.7,133.1M310.6,125.5Q317.2,121.6 323.4,119.9M316.3,213.0Q313.5,206.9 311.7,202.1M316.3,213.0Q320.4,216.9 324.9,221.4M316.3,213.0Q318.6,206.3 323.4,201.9M294.9,221.6Q295.2,227.5 292.7,231.1M294.9,221.6Q292.3,217.8 288.7,212.2M343.4,117.4Q343.3,121.9 345.2,127.3M343.4,117.4Q338.2,121.9 335.8,124.4M343.4,117.4Q348.6,114.4 351.3,109.1M322.6,108.6Q319.8,103.3 318.6,99.5M351.3,193.0Q350.5,187.6 350.9,180.3M351.3,193.0Q343.6,190.6 336.2,189.7M324.9,221.4Q326.7,225.5 330.9,229.3M336.2,189.7Q335.7,183.7 332.5,174.9M343.1,100.0Q348.5,103.9 351.3,109.1M343.1,100.0Q337.7,100.6 330.4,100.4M343.1,100.0Q337.9,106.7 332.8,111.6M350.9,180.3Q347.6,174.8 341.8,168.6M351.5,228.4Q347.5,229.8 341.5,230.3M351.5,228.4Q346.4,226.0 340.2,220.9M300.6,209.3Q294.3,210.2 288.7,212.2M300.6,209.3Q303.9,215.0 304.5,221.9M334.4,159.9Q330.2,162.7 326.5,167.4M351.3,160.6Q346.1,154.7 341.5,151.5M351.3,160.6Q351.9,154.5 351.8,145.9M292.8,132.3Q295.8,138.1 299.3,141.2M292.8,132.3Q297.7,131.5 303.8,132.5M323.5,141.1Q321.8,137.8 317.7,133.1M289.6,168.2Q293.2,165.7 299.5,165.9M289.6,168.2Q291.4,161.9 292.0,158.0M291.1,148.0Q292.0,151.8 292.0,158.0M291.1,148.0Q296.4,145.9 299.3,141.2M345.2,127.3Q341.8,126.2 335.8,124.4M345.2,127.3Q347.8,132.2 350.6,136.4M340.2,220.9Q340.2,225.5 341.5,230.3M340.2,220.9Q341.0,214.5 341.1,208.4M340.2,220.9Q335.4,224.9 330.9,229.3M341.5,230.3Q335.0,230.2 330.9,229.3M323.1,152.2Q329.4,149.5 332.7,146.9M323.1,152.2Q323.4,145.6 323.5,141.1M323.1,152.2Q319.0,148.7 313.2,144.1M350.7,208.9Q346.8,209.3 341.1,208.4M350.7,208.9Q347.1,202.0 342.7,197.5M350.7,208.9Q345.7,216.3 340.2,220.9M351.8,145.9Q351.7,141.8 350.6,136.4M351.8,145.9Q345.8,148.2 341.5,151.5M351.8,145.9Q347.6,142.5 340.6,139.8M299.5,165.9Q303.3,167.1 308.0,171.0M299.5,165.9Q294.8,162.6 292.0,158.0M292.7,231.1Q296.6,230.6 303.1,231.3M292.7,231.1Q298.6,227.2 304.5,221.9M299.3,141.2Q302.0,137.0 303.8,132.5M311.7,202.1Q307.4,197.1 304.9,192.5M312.6,228.5Q309.1,230.8 303.1,231.3M312.6,228.5Q318.7,225.4 324.9,221.4M293.2,112.9Q298.3,108.0 300.9,105.3M330.4,100.4Q327.7,104.2 322.6,108.6M330.4,100.4Q324.5,98.9 318.6,99.5" stroke="#eca385" stroke-width="1.15" fill="none" stroke-linecap="round"/>
<path d="M35.5,224.2Q33.1,211.5 28.2,200.8M31.7,209.7Q32.0,211.5 36.0,214.5M33.0,213.7Q38.4,213.7 40.2,210.5M28.4,156.2Q29.2,166.9 37.5,182.1M29.7,163.5Q26.7,163.5 22.6,162.1M30.4,165.8Q26.8,168.7 25.6,173.1M28.4,156.2Q29.0,141.4 32.9,127.5M29.4,144.8Q32.6,141.8 34.4,142.7M29.9,141.5Q31.4,138.3 32.1,138.1M37.5,182.1Q35.7,193.8 28.2,200.8M32.5,195.7Q34.6,195.2 37.4,198.4M34.9,191.3Q35.5,194.2 34.8,196.0M32.9,127.5Q37.0,116.5 48.2,107.9M38.8,117.0Q35.7,114.4 33.8,110.9M41.9,113.5Q47.6,116.9 49.8,118.6M35.5,224.2L41.8,221.3M41.8,221.3L47.4,222.3M35.5,224.2L27.5,232.3M27.5,232.3L22.0,232.2M35.5,224.2L32.5,230.3M32.5,230.3L29.0,231.4M28.4,156.2L32.6,148.2M32.6,148.2L36.4,145.9M28.4,156.2L34.3,148.7M34.3,148.7L39.0,146.9M28.4,156.2L34.1,162.1M34.1,162.1L37.6,161.7M37.5,182.1L41.8,173.0M41.8,173.0L44.4,171.4M37.5,182.1L47.5,180.0M47.5,180.0L50.3,175.3M32.9,127.5L22.0,125.6M22.0,125.6L18.4,121.7M32.9,127.5L43.1,126.7M43.1,126.7L44.8,123.6M32.9,127.5L22.1,127.5M22.1,127.5L19.2,124.5M48.2,107.9L56.8,102.6M56.8,102.6L58.8,97.2M48.2,107.9L56.3,112.3M56.3,112.3L57.2,115.3M28.2,200.8L25.0,207.3M25.0,207.3L20.1,208.1M28.2,200.8L31.7,208.7M31.7,208.7L30.2,211.7M28.2,200.8L36.5,198.6M36.5,198.6L40.4,194.2" stroke="#eaa184" stroke-width="1.6" fill="none" stroke-linecap="round"/>
<circle cx="35.5" cy="224.2" r="5.8" fill="#eda285"/>
<circle cx="35.8" cy="224.2" r="3.6" fill="#caa7b0"/>
<circle cx="35.1" cy="223.7" r="1.5" fill="#b096b0" opacity="0.8"/>
<circle cx="28.4" cy="156.2" r="5.8" fill="#eda285"/>
<circle cx="28.7" cy="156.2" r="3.6" fill="#caa7b0"/>
<circle cx="28.0" cy="155.7" r="1.5" fill="#b096b0" opacity="0.8"/>
<circle cx="37.5" cy="182.1" r="5.8" fill="#eda285"/>
<circle cx="37.8" cy="182.1" r="3.6" fill="#caa7b0"/>
<circle cx="37.1" cy="181.6" r="1.5" fill="#b096b0" opacity="0.8"/>
<circle cx="32.9" cy="127.5" r="5.8" fill="#eda285"/>
<circle cx="33.2" cy="127.5" r="3.6" fill="#caa7b0"/>
<circle cx="32.5" cy="127.0" r="1.5" fill="#b096b0" opacity="0.8"/>
<circle cx="48.2" cy="107.9" r="5.8" fill="#eda285"/>
<circle cx="48.5" cy="107.9" r="3.6" fill="#caa7b0"/>
<circle cx="47.8" cy="107.4" r="1.5" fill="#b096b0" opacity="0.8"/>
<circle cx="28.2" cy="200.8" r="5.8" fill="#eda285"/>
<circle cx="28.5" cy="200.8" r="3.6" fill="#caa7b0"/>
<circle cx="27.8" cy="200.3" r="1.5" fill="#b096b0" opacity="0.8"/>
<path d="M111.3,191.4Q114.9,175.6 118.5,167.0M115.6,175.2Q120.1,174.5 121.5,173.5M114.5,178.7Q109.1,180.5 105.7,182.8M111.3,191.4Q123.8,194.6 136.8,190.3M123.0,192.8Q121.8,191.9 118.2,190.6M127.7,192.4Q126.7,190.6 124.5,189.0M111.3,191.4Q99.7,199.6 86.2,209.8M103.1,197.3Q103.8,199.6 106.1,205.2M96.0,202.5Q93.6,199.8 93.7,196.9M111.3,191.4Q101.6,174.0 91.9,163.4M102.6,177.1Q104.7,180.9 106.6,183.4M104.8,180.5Q102.5,182.3 102.6,184.9M196.2,134.3Q197.9,145.4 200.3,160.3M197.8,144.4Q200.2,145.8 205.0,150.7M198.1,146.7Q194.6,150.0 194.9,150.6M196.2,134.3Q204.3,121.4 212.4,112.5M202.1,125.4Q199.9,127.6 198.7,131.4M202.2,125.2Q199.3,124.8 198.1,125.9M196.2,134.3Q187.2,139.6 172.1,147.8M186.7,139.7Q184.8,135.4 186.0,134.3M187.1,139.5Q186.0,142.5 183.6,143.5M196.2,134.3Q187.2,119.8 184.2,106.2M190.6,124.2Q188.8,124.5 187.5,128.1M187.7,117.4Q184.7,118.5 179.5,121.0M157.7,121.3Q162.2,133.5 172.1,147.8M161.5,130.2Q161.0,128.4 164.5,123.2M165.3,137.2Q166.4,138.1 169.2,142.4M157.7,121.3Q174.7,111.9 184.2,106.2M173.1,112.7Q176.4,111.3 177.0,108.9M175.3,111.4Q177.6,113.4 179.4,112.6M157.7,121.3Q138.7,114.2 124.5,107.8M145.9,116.8Q149.0,118.2 151.3,118.2M138.2,113.7Q138.9,117.2 136.2,117.2M160.9,222.2Q141.5,226.7 129.6,228.4M137.6,227.1Q135.7,224.9 132.1,224.9M146.8,225.3Q149.0,219.8 149.9,216.5M160.9,222.2Q160.6,205.9 163.7,190.1M161.7,203.5Q159.7,199.5 155.6,198.5M161.1,210.6Q165.2,209.2 169.5,207.6M160.9,222.2Q173.2,209.3 189.8,197.6M178.3,206.2Q175.1,205.0 169.7,207.1M178.6,206.0Q176.8,205.8 173.3,204.6M160.9,222.2Q148.9,209.3 136.8,190.3M144.9,202.4Q149.4,201.7 153.5,204.3M145.3,203.0Q143.2,203.4 137.7,205.3M97.6,105.6Q110.1,103.9 124.5,107.8M115.9,105.9Q119.5,109.1 122.3,112.5M114.2,105.7Q109.2,105.3 104.6,106.0M97.6,105.6Q95.3,121.0 86.8,134.6M95.4,115.5Q94.0,116.7 90.1,116.3M94.0,119.8Q93.0,123.7 91.5,125.6M97.6,105.6Q107.0,120.1 118.5,134.1M104.2,115.4Q108.0,117.0 110.4,121.0M108.5,121.4Q109.9,126.1 113.3,129.3M200.3,160.3Q212.6,165.6 227.3,171.2M210.1,164.4Q205.7,164.2 203.3,167.9M215.9,166.7Q219.6,166.4 222.3,166.8M200.3,160.3Q189.8,152.1 172.1,147.8M182.2,150.8Q178.9,151.2 177.7,152.8M187.4,152.8Q190.4,154.2 194.3,155.3M200.3,160.3Q215.6,149.0 230.4,144.1M217.3,149.7Q212.8,145.0 211.8,142.3M218.2,149.2Q220.3,155.0 219.6,159.0M253.1,176.7Q236.2,175.2 227.3,171.2M238.2,174.6Q235.0,172.9 230.3,175.3M239.2,174.8Q239.0,174.0 239.3,170.3M253.1,176.7Q243.9,161.5 230.4,144.1M243.4,161.8Q245.4,159.1 248.5,155.2M239.3,155.9Q236.6,159.5 237.5,163.8M118.5,134.1Q118.9,119.0 124.5,107.8M119.3,124.8Q116.9,126.9 114.4,132.2M119.7,122.5Q114.8,120.4 111.2,119.5M118.5,134.1Q100.6,137.1 86.8,134.6M99.9,135.7Q101.6,138.7 105.3,141.4M100.1,135.7Q101.2,138.4 102.4,143.6M118.5,134.1Q121.4,150.4 118.5,167.0M119.8,144.5Q121.2,140.8 119.2,139.9M120.0,149.1Q115.8,151.3 113.4,153.7M172.1,147.8Q161.7,157.7 148.8,164.2M163.2,155.3Q160.9,154.0 160.2,152.4M163.2,155.3Q164.8,159.5 169.4,162.1M200.9,228.5Q212.7,225.6 229.2,227.0M210.9,226.9Q207.7,223.0 203.8,221.5M214.8,226.7Q216.7,229.4 221.3,233.3M200.9,228.5Q198.1,214.0 189.8,197.6M197.7,216.2Q191.7,212.5 189.4,211.1M195.6,210.6Q199.7,205.3 201.9,203.9M200.9,228.5Q207.7,215.4 216.7,197.2M208.8,213.1Q208.8,217.1 208.5,219.4M206.5,217.7Q207.5,219.8 206.5,222.9M118.5,167.0Q105.2,164.0 91.9,163.4M102.7,164.3Q102.8,162.5 106.8,158.6M100.9,164.1Q97.3,161.6 95.5,157.1M118.5,167.0Q124.2,180.1 136.8,190.3M128.2,182.1Q132.0,185.2 137.6,185.2M124.0,176.8Q120.3,178.8 120.0,177.6M118.5,167.0Q134.8,163.4 148.8,164.2M134.8,164.5Q137.1,167.5 139.7,169.4M128.7,165.2Q129.1,168.9 131.2,173.7M216.7,197.2Q199.3,201.2 189.8,197.6M199.8,199.3Q199.2,201.4 202.1,202.9M203.0,199.2Q202.4,196.6 198.2,191.2M216.7,197.2Q224.3,187.4 227.3,171.2M222.7,186.8Q224.0,181.9 222.6,178.7M223.8,184.2Q224.0,183.3 227.0,180.8M216.7,197.2Q226.6,215.1 229.2,227.0M225.8,216.3Q223.6,212.1 223.5,208.3M225.8,216.1Q225.3,216.6 221.0,216.3M230.4,144.1Q241.6,142.5 254.8,134.2M245.2,139.5Q247.9,139.8 252.6,142.1M240.5,141.5Q236.5,137.0 235.4,136.1M230.4,144.1Q228.0,161.4 227.3,171.2M228.4,159.7Q224.7,158.7 223.6,159.5M227.9,164.3Q230.4,162.4 232.7,162.2M230.4,144.1Q236.9,129.2 243.4,111.2M234.9,133.5Q240.6,129.5 243.2,129.2M234.9,133.5Q235.1,135.3 238.8,135.8M253.8,222.0Q239.0,222.5 229.2,227.0M242.5,223.1Q244.3,228.1 247.2,231.6M237.1,224.3Q237.9,227.3 237.9,233.8M91.9,163.4Q92.2,147.4 86.8,134.6M89.6,142.9Q86.1,144.9 83.3,145.0M90.1,144.7Q95.5,147.8 97.2,149.1M91.9,163.4Q102.2,147.6 118.5,134.1M99.9,152.5Q103.5,147.8 103.8,143.5M108.3,143.3Q110.5,141.8 112.8,144.3M243.4,111.2Q252.7,122.6 254.8,134.2M250.1,121.1Q246.7,122.9 243.6,126.0M252.8,127.1Q252.6,125.9 249.4,124.8M243.4,111.2Q231.8,113.1 212.4,112.5M225.4,112.6Q228.8,111.2 228.9,107.9M234.3,112.2Q235.8,112.1 239.6,111.6M148.8,164.2Q141.4,178.5 136.8,190.3M144.4,172.9Q142.7,176.7 140.0,178.0M141.6,179.0Q137.4,183.7 136.6,185.9M148.8,164.2Q152.8,178.7 163.7,190.1M154.1,177.1Q154.6,180.0 159.1,181.0M152.1,173.2Q147.2,175.6 145.3,176.1M184.2,106.2Q201.3,108.1 212.4,112.5M194.2,107.6Q196.3,103.4 194.6,101.8M204.8,110.0Q208.6,108.2 210.2,104.6M163.7,190.1Q149.1,193.4 136.8,190.3M154.4,191.5Q153.4,193.9 154.0,197.1M149.2,191.8Q147.9,187.8 143.6,185.2M163.7,190.1Q174.2,193.5 189.8,197.6M174.8,193.5Q172.6,190.8 169.1,189.8M177.5,194.2Q174.6,194.5 171.9,191.7M129.6,228.4Q132.5,210.1 136.8,190.3M132.3,212.4Q134.4,209.2 133.6,207.3M133.4,206.8Q129.4,205.4 129.3,202.6M212.4,112.5Q222.2,125.7 230.4,144.1M218.2,121.0Q213.7,117.7 211.4,115.2M220.4,124.5Q219.5,119.6 218.9,116.3M111.3,191.4L118.8,185.2M118.8,185.2L123.6,186.3M111.3,191.4L108.5,198.4M108.5,198.4L105.1,201.2M111.3,191.4L106.7,198.7M106.7,198.7L106.7,201.8M196.2,134.3L197.5,145.3M197.5,145.3L195.4,149.5M196.2,134.3L196.2,142.2M196.2,142.2L192.9,145.3M196.2,134.3L203.4,128.4M203.4,128.4L207.2,129.2M157.7,121.3L159.8,129.8M159.8,129.8L158.8,132.7M157.7,121.3L152.2,125.8M152.2,125.8L151.4,130.3M160.9,222.2L167.0,225.7M167.0,225.7L167.6,230.0M160.9,222.2L149.8,218.6M149.8,218.6L146.7,220.0M97.6,105.6L91.6,109.2M91.6,109.2L86.2,107.9M97.6,105.6L93.4,113.9M93.4,113.9L89.2,114.5M200.3,160.3L190.8,159.9M190.8,159.9L188.1,156.4M200.3,160.3L199.9,167.3M199.9,167.3L203.1,171.2M253.1,176.7L254.2,186.9M254.2,186.9L256.6,190.1M253.1,176.7L251.0,169.8M251.0,169.8L247.6,167.1M253.1,176.7L260.1,175.1M260.1,175.1L264.3,177.0M118.5,134.1L109.2,135.0M109.2,135.0L105.5,139.0M118.5,134.1L112.8,136.2M112.8,136.2L110.5,140.2M172.1,147.8L179.9,154.1M179.9,154.1L182.0,159.4M172.1,147.8L165.7,155.0M165.7,155.0L161.4,155.6M200.9,228.5L201.3,219.8M201.3,219.8L203.7,217.9M200.9,228.5L202.0,220.0M202.0,220.0L206.6,217.2M118.5,167.0L112.5,175.0M112.5,175.0L113.6,178.6M118.5,167.0L120.2,173.9M120.2,173.9L119.0,176.8M118.5,167.0L112.2,167.7M112.2,167.7L107.7,165.5M124.5,107.8L118.2,107.0M118.2,107.0L114.1,103.6M124.5,107.8L120.2,115.8M120.2,115.8L116.2,116.5M124.5,107.8L134.6,107.5M134.6,107.5L136.5,105.2M216.7,197.2L209.9,193.5M209.9,193.5L205.4,193.8M216.7,197.2L209.3,192.9M209.3,192.9L208.8,188.3M216.7,197.2L207.3,189.8M207.3,189.8L206.3,186.2M230.4,144.1L237.7,142.6M237.7,142.6L241.1,138.3M230.4,144.1L221.0,142.6M221.0,142.6L219.2,139.2M230.4,144.1L229.2,152.1M229.2,152.1L224.6,155.3M86.2,209.8L81.9,202.3M81.9,202.3L76.9,201.7M86.2,209.8L83.0,201.4M83.0,201.4L85.0,198.0M86.2,209.8L92.2,212.7M92.2,212.7L93.8,216.7M253.8,222.0L248.7,226.3M248.7,226.3L242.9,227.1M253.8,222.0L243.8,219.2M243.8,219.2L239.6,222.8M253.8,222.0L253.0,233.2M253.0,233.2L249.8,236.0M91.9,163.4L100.5,162.3M100.5,162.3L104.3,157.7M91.9,163.4L91.2,174.5M91.2,174.5L93.6,179.3M243.4,111.2L238.0,104.9M238.0,104.9L232.8,103.1M243.4,111.2L250.7,115.7M250.7,115.7L254.9,114.8M243.4,111.2L236.6,106.9M236.6,106.9L231.0,108.1M148.8,164.2L155.1,162.0M155.1,162.0L156.7,157.6M148.8,164.2L150.9,156.9M150.9,156.9L149.1,154.1M148.8,164.2L154.6,166.0M154.6,166.0L157.1,164.1M184.2,106.2L177.1,97.2M177.1,97.2L172.0,96.4M184.2,106.2L181.2,117.2M181.2,117.2L182.7,120.9M184.2,106.2L177.4,106.1M177.4,106.1L175.1,103.9M163.7,190.1L171.0,194.2M171.0,194.2L175.8,193.2M163.7,190.1L155.1,198.2M155.1,198.2L154.6,202.1M163.7,190.1L161.0,181.9M161.0,181.9L163.1,177.1M86.8,134.6L81.9,140.5M81.9,140.5L77.0,140.4M86.8,134.6L84.6,127.4M84.6,127.4L86.4,123.2M129.6,228.4L125.1,234.7M125.1,234.7L124.6,239.2M129.6,228.4L137.6,231.8M137.6,231.8L140.6,230.3M129.6,228.4L133.8,220.9M133.8,220.9L132.4,217.3M212.4,112.5L207.3,115.8M207.3,115.8L206.6,121.2M212.4,112.5L222.1,112.5M222.1,112.5L225.1,109.9M189.8,197.6L188.0,188.7M188.0,188.7L185.5,186.3M189.8,197.6L189.5,186.7M189.5,186.7L191.9,184.5M189.8,197.6L180.3,199.3M180.3,199.3L178.9,202.2M229.2,227.0L237.1,231.4M237.1,231.4L239.9,236.3M229.2,227.0L231.5,221.1M231.5,221.1L236.9,219.7M229.2,227.0L230.1,218.2M230.1,218.2L234.3,214.5M136.8,190.3L136.1,199.7M136.1,199.7L132.6,204.1M136.8,190.3L125.5,193.8M125.5,193.8L122.8,197.4M136.8,190.3L133.2,181.5M133.2,181.5L128.3,179.9M254.8,134.2L246.4,141.7M246.4,141.7L241.8,141.3M254.8,134.2L255.9,126.9M255.9,126.9L258.5,123.7M254.8,134.2L244.9,128.1M244.9,128.1L239.2,128.5M227.3,171.2L224.4,162.8M224.4,162.8L226.2,159.0M227.3,171.2L233.5,172.6M233.5,172.6L236.7,171.2M227.3,171.2L225.5,161.4M225.5,161.4L220.2,158.8" stroke="#eaa184" stroke-width="1.6" fill="none" stroke-linecap="round"/>
<circle cx="111.3" cy="191.4" r="5.8" fill="#eda285"/>
<circle cx="111.6" cy="191.4" r="3.6" fill="#caa7b0"/>
<circle cx="110.9" cy="190.9" r="1.5" fill="#b096b0" opacity="0.8"/>
<circle cx="196.2" cy="134.3" r="5.8" fill="#eda285"/>
<circle cx="196.5" cy="134.3" r="3.6" fill="#caa7b0"/>
<circle cx="195.8" cy="133.8" r="1.5" fill="#b096b0" opacity="0.8"/>
<circle cx="157.7" cy="121.3" r="5.8" fill="#eda285"/>
<circle cx="158.0" cy="121.3" r="3.6" fill="#caa7b0"/>
<circle cx="157.3" cy="120.8" r="1.5" fill="#b096b0" opacity="0.8"/>
<circle cx="160.9" cy="222.2" r="5.8" fill="#eda285"/>
<circle cx="161.2" cy="222.2" r="3.6" fill="#caa7b0"/>
<circle cx="160.5" cy="221.7" r="1.5" fill="#b096b0" opacity="0.8"/>
<circle cx="97.6" cy="105.6" r="5.8" fill="#eda285"/>
<circle cx="97.9" cy="105.6" r="3.6" fill="#caa7b0"/>
<circle cx="97.2" cy="105.1" r="1.5" fill="#b096b0" opacity="0.8"/>
<circle cx="200.3" cy="160.3" r="5.8" fill="#eda285"/>
<circle cx="200.6" cy="160.3" r="3.6" fill="#caa7b0"/>
<circle cx="199.9" cy="159.8" r="1.5" fill="#b096b0" opacity="0.8"/>
<circle cx="253.1" cy="176.7" r="5.8" fill="#eda285"/>
<circle cx="253.4" cy="176.7" r="3.6" fill="#caa7b0"/>
<circle cx="252.7" cy="176.2" r="1.5" fill="#b096b0" opacity="0.8"/>
<circle cx="118.5" cy="134.1" r="5.8" fill="#eda285"/>
<circle cx="118.8" cy="134.1" r="3.6" fill="#caa7b0"/>
<circle cx="118.1" cy="133.6" r="1.5" fill="#b096b0" opacity="0.8"/>
<circle cx="172.1" cy="147.8" r="5.8" fill="#eda285"/>
<circle cx="172.4" cy="147.8" r="3.6" fill="#caa7b0"/>
<circle cx="171.7" cy="147.3" r="1.5" fill="#b096b0" opacity="0.8"/>
<circle cx="200.9" cy="228.5" r="5.8" fill="#eda285"/>
<circle cx="201.2" cy="228.5" r="3.6" fill="#caa7b0"/>
<circle cx="200.5" cy="228.0" r="1.5" fill="#b096b0" opacity="0.8"/>
<circle cx="118.5" cy="167.0" r="5.8" fill="#eda285"/>
<circle cx="118.8" cy="167.0" r="3.6" fill="#caa7b0"/>
<circle cx="118.1" cy="166.5" r="1.5" fill="#b096b0" opacity="0.8"/>
<circle cx="124.5" cy="107.8" r="5.8" fill="#eda285"/>
<circle cx="124.8" cy="107.8" r="3.6" fill="#caa7b0"/>
<circle cx="124.1" cy="107.3" r="1.5" fill="#b096b0" opacity="0.8"/>
<circle cx="216.7" cy="197.2" r="5.8" fill="#eda285"/>
<circle cx="217.0" cy="197.2" r="3.6" fill="#caa7b0"/>
<circle cx="216.3" cy="196.7" r="1.5" fill="#b096b0" opacity="0.8"/>
<circle cx="230.4" cy="144.1" r="5.8" fill="#eda285"/>
<circle cx="230.7" cy="144.1" r="3.6" fill="#caa7b0"/>
<circle cx="230.0" cy="143.6" r="1.5" fill="#b096b0" opacity="0.8"/>
<circle cx="86.2" cy="209.8" r="5.8" fill="#eda285"/>
<circle cx="86.5" cy="209.8" r="3.6" fill="#caa7b0"/>
<circle cx="85.8" cy="209.3" r="1.5" fill="#b096b0" opacity="0.8"/>
<circle cx="253.8" cy="222.0" r="5.8" fill="#eda285"/>
<circle cx="254.1" cy="222.0" r="3.6" fill="#caa7b0"/>
<circle cx="253.4" cy="221.5" r="1.5" fill="#b096b0" opacity="0.8"/>
<circle cx="91.9" cy="163.4" r="5.8" fill="#eda285"/>
<circle cx="92.2" cy="163.4" r="3.6" fill="#caa7b0"/>
<circle cx="91.5" cy="162.9" r="1.5" fill="#b096b0" opacity="0.8"/>
<circle cx="243.4" cy="111.2" r="5.8" fill="#eda285"/>
<circle cx="243.7" cy="111.2" r="3.6" fill="#caa7b0"/>
<circle cx="243.0" cy="110.7" r="1.5" fill="#b096b0" opacity="0.8"/>
<circle cx="148.8" cy="164.2" r="5.8" fill="#eda285"/>
<circle cx="149.1" cy="164.2" r="3.6" fill="#caa7b0"/>
<circle cx="148.4" cy="163.7" r="1.5" fill="#b096b0" opacity="0.8"/>
<circle cx="184.2" cy="106.2" r="5.8" fill="#eda285"/>
<circle cx="184.5" cy="106.2" r="3.6" fill="#caa7b0"/>
<circle cx="183.8" cy="105.7" r="1.5" fill="#b096b0" opacity="0.8"/>
<circle cx="163.7" cy="190.1" r="5.8" fill="#eda285"/>
<circle cx="164.0" cy="190.1" r="3.6" fill="#caa7b0"/>
<circle cx="163.3" cy="189.6" r="1.5" fill="#b096b0" opacity="0.8"/>
<circle cx="86.8" cy="134.6" r="5.8" fill="#eda285"/>
<circle cx="87.1" cy="134.6" r="3.6" fill="#caa7b0"/>
<circle cx="86.4" cy="134.1" r="1.5" fill="#b096b0" opacity="0.8"/>
<circle cx="129.6" cy="228.4" r="5.8" fill="#eda285"/>
<circle cx="129.9" cy="228.4" r="3.6" fill="#caa7b0"/>
<circle cx="129.2" cy="227.9" r="1.5" fill="#b096b0" opacity="0.8"/>
<circle cx="212.4" cy="112.5" r="5.8" fill="#eda285"/>
<circle cx="212.7" cy="112.5" r="3.6" fill="#caa7b0"/>
<circle cx="212.0" cy="112.0" r="1.5" fill="#b096b0" opacity="0.8"/>
<circle cx="189.8" cy="197.6" r="5.8" fill="#eda285"/>
<circle cx="190.1" cy="197.6" r="3.6" fill="#caa7b0"/>
<circle cx="189.4" cy="197.1" r="1.5" fill="#b096b0" opacity="0.8"/>
<circle cx="229.2" cy="227.0" r="5.8" fill="#eda285"/>
<circle cx="229.5" cy="227.0" r="3.6" fill="#caa7b0"/>
<circle cx="228.8" cy="226.5" r="1.5" fill="#b096b0" opacity="0.8"/>
<circle cx="136.8" cy="190.3" r="5.8" fill="#eda285"/>
<circle cx="137.1" cy="190.3" r="3.6" fill="#caa7b0"/>
<circle cx="136.4" cy="189.8" r="1.5" fill="#b096b0" opacity="0.8"/>
<circle cx="254.8" cy="134.2" r="5.8" fill="#eda285"/>
<circle cx="255.1" cy="134.2" r="3.6" fill="#caa7b0"/>
<circle cx="254.4" cy="133.7" r="1.5" fill="#b096b0" opacity="0.8"/>
<circle cx="227.3" cy="171.2" r="5.8" fill="#eda285"/>
<circle cx="227.6" cy="171.2" r="3.6" fill="#caa7b0"/>
<circle cx="226.9" cy="170.7" r="1.5" fill="#b096b0" opacity="0.8"/>
<path d="M292.3,159.5Q292.9,169.2 298.6,186.3M293.7,168.8Q295.3,168.2 300.8,169.2M293.9,170.0Q290.3,171.3 289.5,170.9M292.3,159.5Q306.0,145.0 319.1,137.3M304.4,147.9Q305.0,145.2 301.9,143.3M301.5,150.5Q302.0,147.8 301.9,142.2M292.3,159.5Q309.5,171.0 324.3,180.6M314.3,174.1Q316.6,177.2 317.5,176.9M308.2,170.0Q308.4,172.4 305.8,178.3M307.6,227.0Q323.0,217.9 334.3,207.2M317.3,220.8Q320.8,218.3 322.9,216.8M320.4,218.7Q318.3,222.7 312.3,223.3M319.1,137.3Q329.4,124.5 334.8,111.6M329.0,123.1Q329.8,118.3 329.0,115.5M330.4,120.7Q330.0,116.9 327.7,112.0M319.1,137.3Q311.3,120.6 303.0,108.9M311.7,122.8Q308.5,120.9 303.1,119.3M313.9,126.9Q314.5,129.2 317.4,135.2M319.1,137.3Q333.2,148.2 349.5,152.0M338.4,148.5Q342.4,146.0 345.9,145.7M335.4,147.2Q341.0,147.9 344.5,145.2M298.6,186.3Q312.6,180.9 324.3,180.6M308.9,182.9Q310.0,177.2 311.1,174.4M316.9,181.2Q318.6,178.5 320.1,172.4M334.8,111.6Q322.1,110.9 303.0,108.9M322.9,110.8Q326.1,113.1 327.8,118.4M317.1,110.3Q319.5,107.7 325.7,108.7M334.3,207.2Q329.1,190.1 324.3,180.6M329.5,192.9Q332.1,193.4 332.6,195.7M327.7,188.1Q325.4,187.6 319.8,187.5M324.3,180.6Q339.1,163.4 349.5,152.0M337.2,165.8Q333.4,165.4 330.4,164.7M336.6,166.5Q338.8,170.6 338.4,172.8M292.3,159.5L284.9,155.4M284.9,155.4L279.2,156.9M292.3,159.5L293.2,152.9M293.2,152.9L296.4,149.6M292.3,159.5L298.7,163.7M298.7,163.7L303.5,162.2M307.6,227.0L315.3,219.0M315.3,219.0L314.3,214.0M307.6,227.0L300.9,223.8M300.9,223.8L298.5,219.8M319.1,137.3L324.4,146.9M324.4,146.9L329.8,147.3M319.1,137.3L316.2,131.2M316.2,131.2L317.7,126.4M319.1,137.3L324.9,147.7M324.9,147.7L329.9,150.7M298.6,186.3L294.8,177.9M294.8,177.9L290.2,177.1M298.6,186.3L304.5,185.8M304.5,185.8L308.9,187.9M298.6,186.3L287.6,191.0M287.6,191.0L285.4,194.1M334.8,111.6L325.0,108.8M325.0,108.8L323.7,104.5M334.8,111.6L344.6,115.3M344.6,115.3L346.5,120.1M334.3,207.2L342.2,211.3M342.2,211.3L345.3,209.6M334.3,207.2L346.0,205.8M346.0,205.8L349.4,207.9M334.3,207.2L328.0,199.5M328.0,199.5L322.1,198.4M303.0,108.9L294.6,104.4M294.6,104.4L290.1,105.0M303.0,108.9L306.9,102.6M306.9,102.6L305.6,98.1M324.3,180.6L322.7,173.9M322.7,173.9L318.9,172.3M324.3,180.6L319.1,175.5M319.1,175.5L319.1,170.9M324.3,180.6L325.2,190.7M325.2,190.7L328.1,194.4M349.5,152.0L354.7,144.5M354.7,144.5L354.2,140.7M349.5,152.0L338.9,151.4M338.9,151.4L334.6,155.1" stroke="#eaa184" stroke-width="1.6" fill="none" stroke-linecap="round"/>
<circle cx="292.3" cy="159.5" r="5.8" fill="#eda285"/>
<circle cx="292.6" cy="159.5" r="3.6" fill="#caa7b0"/>
<circle cx="291.9" cy="159.0" r="1.5" fill="#b096b0" opacity="0.8"/>
<circle cx="307.6" cy="227.0" r="5.8" fill="#eda285"/>
<circle cx="307.9" cy="227.0" r="3.6" fill="#caa7b0"/>
<circle cx="307.2" cy="226.5" r="1.5" fill="#b096b0" opacity="0.8"/>
<circle cx="319.1" cy="137.3" r="5.8" fill="#eda285"/>
<circle cx="319.4" cy="137.3" r="3.6" fill="#caa7b0"/>
<circle cx="318.7" cy="136.8" r="1.5" fill="#b096b0" opacity="0.8"/>
<circle cx="298.6" cy="186.3" r="5.8" fill="#eda285"/>
<circle cx="298.9" cy="186.3" r="3.6" fill="#caa7b0"/>
<circle cx="298.2" cy="185.8" r="1.5" fill="#b096b0" opacity="0.8"/>
<circle cx="334.8" cy="111.6" r="5.8" fill="#eda285"/>
<circle cx="335.1" cy="111.6" r="3.6" fill="#caa7b0"/>
<circle cx="334.4" cy="111.1" r="1.5" fill="#b096b0" opacity="0.8"/>
<circle cx="334.3" cy="207.2" r="5.8" fill="#eda285"/>
<circle cx="334.6" cy="207.2" r="3.6" fill="#caa7b0"/>
<circle cx="333.9" cy="206.7" r="1.5" fill="#b096b0" opacity="0.8"/>
<circle cx="303.0" cy="108.9" r="5.8" fill="#eda285"/>
<circle cx="303.3" cy="108.9" r="3.6" fill="#caa7b0"/>
<circle cx="302.6" cy="108.4" r="1.5" fill="#b096b0" opacity="0.8"/>
<circle cx="324.3" cy="180.6" r="5.8" fill="#eda285"/>
<circle cx="324.6" cy="180.6" r="3.6" fill="#caa7b0"/>
<circle cx="323.9" cy="180.1" r="1.5" fill="#b096b0" opacity="0.8"/>
<circle cx="349.5" cy="152.0" r="5.8" fill="#eda285"/>
<circle cx="349.8" cy="152.0" r="3.6" fill="#caa7b0"/>
<circle cx="349.1" cy="151.5" r="1.5" fill="#b096b0" opacity="0.8"/>
</g>
<path d="M146.5,102.5C146,130 147,170 145.5,210M198.5,102.5C198.8,110 198.5,118 198.2,126M222,102.5C222.5,120 221.5,140 222,170M316.5,103.5C316.3,120 316.8,138 316.3,152M126,104C130,110 136,113 146,118M160,104C158,110 154,115 147,122M175,103C182,108 190,112 196,120M208,104C206,110 203,116 199,123M186,130C192,128 195,128 198,127M200,128C206,132 212,135 218,136M185,142C190,136 194,132 197,130M200,130C204,138 206,142 212,146M232,106C236,112 240,116 246,118M228,104C226,112 224,118 222,126M305,112C310,114 314,118 316,124M330,106C326,112 322,118 318,124M300,160C306,158 312,156 316,152M316,152C322,158 328,160 336,162M316,152C314,160 312,170 310,178M318,152C322,165 330,172 340,176M110,104C114,110 118,114 124,118M136,103C138,110 142,114 146,116M150,104C150,110 148,116 147,120M186,104C188,110 192,116 196,122M212,103C214,110 218,116 221,120M240,104C236,110 230,114 223,118M156,112C162,114 166,118 170,124M118,124C124,126 130,126 136,124M232,124C236,128 240,130 246,130M300,104C304,110 310,116 316,118M336,104C330,110 324,114 317,116M308,130C312,134 314,138 316,142M128,214C134,210 140,208 145,208M145,208C152,206 158,208 166,212M145,210C140,216 136,220 130,226M147,210C152,216 156,222 160,228M100,118C98,124 94,128 88,130M236,180C240,190 244,196 250,200M102,150C96,152 92,156 88,158M250,205C244,210 240,214 236,222M34,152C38,150 42,148 48,148M300,200C306,204 312,206 320,206M325,190C330,196 334,200 344,202M300,215C308,212 316,214 324,220M176,214C180,218 186,222 192,224M210,214C214,218 220,222 228,222" stroke="#efd35c" stroke-width="1.5" fill="none" stroke-linecap="round"/>
<path d="M208.0,223.1Q211.0,220.0 211.1,215.1M152.4,185.0Q155.5,187.2 159.8,186.6M251.7,146.2Q250.8,148.7 252.0,151.6M109.5,216.7Q113.5,214.1 114.9,208.8M220.2,165.4Q217.7,168.1 217.6,172.2M251.0,207.2Q249.4,211.9 251.8,217.1M329.0,170.1Q332.6,171.9 337.1,170.5M199.5,132.2Q199.2,128.6 196.2,125.7M238.7,169.0Q237.2,173.7 239.5,178.7M182.7,184.5Q184.7,187.4 188.7,188.2M107.9,196.7Q109.2,193.8 108.1,190.2M315.8,120.4Q312.6,121.3 310.6,124.6M226.1,125.7Q228.8,129.0 233.6,129.7M214.3,189.4Q212.7,187.0 209.6,186.2" stroke="#efd35c" stroke-width="1.3" fill="none" stroke-linecap="round" opacity="0.9"/>
<defs><radialGradient id="gast"><stop offset="0" stop-color="#fbf0c0"/><stop offset="0.6" stop-color="#f5e08a"/><stop offset="1" stop-color="#efd35c"/></radialGradient></defs>
<path d="M191.8,127.0L204.8,127.0L198.3,113.7ZM192.5,129.0L204.2,129.0L198.3,140.3Z" fill="#efd35c"/>
<ellipse cx="198.3" cy="128.0" rx="8.0" ry="6.5" fill="url(#gast)"/>
<circle cx="198.3" cy="128.0" r="3.2" fill="#d6d0d8"/>
<path d="M309.9,152.5L322.9,152.5L316.4,139.2ZM310.5,154.5L322.2,154.5L316.4,165.8Z" fill="#efd35c"/>
<ellipse cx="316.4" cy="153.5" rx="8.0" ry="6.5" fill="url(#gast)"/>
<circle cx="316.4" cy="153.5" r="3.2" fill="#d6d0d8"/>
<path d="M137.3,209.0L153.3,209.0L145.3,192.4ZM138.1,211.0L152.5,211.0L145.3,225.2Z" fill="#efd35c"/>
<ellipse cx="145.3" cy="210.0" rx="9.5" ry="8.0" fill="url(#gast)"/>
<circle cx="145.3" cy="210.0" r="4.0" fill="#d6d0d8"/>
<defs>
<linearGradient id="gcap" gradientUnits="userSpaceOnUse" x1="195" y1="0" x2="228" y2="0"><stop offset="0" stop-color="#c24c34"/><stop offset="1" stop-color="#3f5cb0"/></linearGradient>
</defs>
<defs><linearGradient id="gband" x1="0" y1="0" x2="1" y2="0"><stop offset="0" stop-color="#e2f5fb" stop-opacity="0.85"/><stop offset="0.5" stop-color="#c8eef9" stop-opacity="0.9"/><stop offset="1" stop-color="#aee2f4" stop-opacity="0.95"/></linearGradient></defs>
<path d="M84,156.5C120,150 175,140.5 256,125L256,143.5C200,148 130,158 84,167Z" fill="url(#gband)" opacity="0.92"/>
<path d="M46.5,109.0L53.4,229.0" stroke="#eca486" stroke-width="3.2" opacity="0.9"/>
<path d="M85.9,107.0L93.4,229.0" stroke="#eca486" stroke-width="3.2" opacity="0.9"/>
<path d="M255.1,107.0L253.1,229.0" stroke="#eca486" stroke-width="3.2" opacity="0.9"/>
<path d="M294.9,108.0L289.9,229.0" stroke="#eca486" stroke-width="3.2" opacity="0.9"/>
<circle cx="47.8" cy="109.0" r="0.95" fill="#2f7a3c"/>
<circle cx="47.9" cy="113.2" r="0.95" fill="#2f7a3c"/>
<circle cx="47.6" cy="118.8" r="0.95" fill="#2f7a3c"/>
<circle cx="45.6" cy="120.3" r="0.95" fill="#2f7a3c"/>
<circle cx="48.1" cy="124.2" r="0.95" fill="#2f7a3c"/>
<circle cx="46.1" cy="125.7" r="0.95" fill="#2f7a3c"/>
<circle cx="48.9" cy="129.8" r="0.95" fill="#2f7a3c"/>
<circle cx="46.9" cy="131.3" r="0.95" fill="#2f7a3c"/>
<circle cx="48.6" cy="133.8" r="0.95" fill="#2f7a3c"/>
<circle cx="49.4" cy="139.3" r="0.95" fill="#2f7a3c"/>
<circle cx="49.5" cy="143.6" r="0.95" fill="#2f7a3c"/>
<circle cx="49.6" cy="148.8" r="0.95" fill="#2f7a3c"/>
<circle cx="47.6" cy="150.3" r="0.95" fill="#2f7a3c"/>
<circle cx="49.6" cy="153.5" r="0.95" fill="#2f7a3c"/>
<circle cx="47.6" cy="155.0" r="0.95" fill="#2f7a3c"/>
<circle cx="49.8" cy="157.5" r="0.95" fill="#2f7a3c"/>
<circle cx="50.2" cy="162.9" r="0.95" fill="#2f7a3c"/>
<circle cx="48.2" cy="164.4" r="0.95" fill="#2f7a3c"/>
<circle cx="50.7" cy="168.0" r="0.95" fill="#2f7a3c"/>
<circle cx="48.7" cy="169.5" r="0.95" fill="#2f7a3c"/>
<circle cx="51.7" cy="173.6" r="0.95" fill="#2f7a3c"/>
<circle cx="49.7" cy="175.1" r="0.95" fill="#2f7a3c"/>
<circle cx="51.5" cy="176.3" r="0.95" fill="#2f7a3c"/>
<circle cx="52.0" cy="181.8" r="0.95" fill="#2f7a3c"/>
<circle cx="50.0" cy="183.3" r="0.95" fill="#2f7a3c"/>
<circle cx="52.5" cy="185.9" r="0.95" fill="#2f7a3c"/>
<circle cx="50.5" cy="187.4" r="0.95" fill="#2f7a3c"/>
<circle cx="52.2" cy="189.2" r="0.95" fill="#2f7a3c"/>
<circle cx="50.2" cy="190.7" r="0.95" fill="#2f7a3c"/>
<circle cx="52.0" cy="192.7" r="0.95" fill="#2f7a3c"/>
<circle cx="50.0" cy="194.2" r="0.95" fill="#2f7a3c"/>
<circle cx="52.4" cy="197.8" r="0.95" fill="#2f7a3c"/>
<circle cx="50.4" cy="199.3" r="0.95" fill="#2f7a3c"/>
<circle cx="52.4" cy="203.6" r="0.95" fill="#2f7a3c"/>
<circle cx="52.9" cy="209.2" r="0.95" fill="#2f7a3c"/>
<circle cx="53.3" cy="212.6" r="0.95" fill="#2f7a3c"/>
<circle cx="53.2" cy="215.2" r="0.95" fill="#2f7a3c"/>
<circle cx="53.9" cy="219.6" r="0.95" fill="#2f7a3c"/>
<circle cx="51.9" cy="221.1" r="0.95" fill="#2f7a3c"/>
<circle cx="54.4" cy="224.9" r="0.95" fill="#2f7a3c"/>
<circle cx="54.0" cy="227.6" r="0.95" fill="#2f7a3c"/>
<circle cx="52.0" cy="229.1" r="0.95" fill="#2f7a3c"/>
<circle cx="85.0" cy="107.0" r="0.95" fill="#2f7a3c"/>
<circle cx="87.0" cy="108.5" r="0.95" fill="#2f7a3c"/>
<circle cx="85.2" cy="109.9" r="0.95" fill="#2f7a3c"/>
<circle cx="85.1" cy="114.7" r="0.95" fill="#2f7a3c"/>
<circle cx="87.1" cy="116.2" r="0.95" fill="#2f7a3c"/>
<circle cx="85.2" cy="118.8" r="0.95" fill="#2f7a3c"/>
<circle cx="86.4" cy="122.4" r="0.95" fill="#2f7a3c"/>
<circle cx="86.3" cy="128.2" r="0.95" fill="#2f7a3c"/>
<circle cx="88.3" cy="129.7" r="0.95" fill="#2f7a3c"/>
<circle cx="86.3" cy="133.7" r="0.95" fill="#2f7a3c"/>
<circle cx="86.9" cy="136.2" r="0.95" fill="#2f7a3c"/>
<circle cx="88.9" cy="137.7" r="0.95" fill="#2f7a3c"/>
<circle cx="86.5" cy="139.8" r="0.95" fill="#2f7a3c"/>
<circle cx="87.0" cy="145.2" r="0.95" fill="#2f7a3c"/>
<circle cx="89.0" cy="146.7" r="0.95" fill="#2f7a3c"/>
<circle cx="87.5" cy="148.6" r="0.95" fill="#2f7a3c"/>
<circle cx="87.9" cy="152.0" r="0.95" fill="#2f7a3c"/>
<circle cx="87.7" cy="155.5" r="0.95" fill="#2f7a3c"/>
<circle cx="88.0" cy="158.7" r="0.95" fill="#2f7a3c"/>
<circle cx="88.7" cy="163.1" r="0.95" fill="#2f7a3c"/>
<circle cx="88.2" cy="167.8" r="0.95" fill="#2f7a3c"/>
<circle cx="90.2" cy="169.3" r="0.95" fill="#2f7a3c"/>
<circle cx="88.3" cy="171.1" r="0.95" fill="#2f7a3c"/>
<circle cx="90.3" cy="172.6" r="0.95" fill="#2f7a3c"/>
<circle cx="88.9" cy="173.6" r="0.95" fill="#2f7a3c"/>
<circle cx="88.6" cy="177.4" r="0.95" fill="#2f7a3c"/>
<circle cx="90.6" cy="178.9" r="0.95" fill="#2f7a3c"/>
<circle cx="89.7" cy="181.1" r="0.95" fill="#2f7a3c"/>
<circle cx="89.7" cy="183.9" r="0.95" fill="#2f7a3c"/>
<circle cx="91.7" cy="185.4" r="0.95" fill="#2f7a3c"/>
<circle cx="89.8" cy="186.9" r="0.95" fill="#2f7a3c"/>
<circle cx="91.8" cy="188.4" r="0.95" fill="#2f7a3c"/>
<circle cx="89.6" cy="191.0" r="0.95" fill="#2f7a3c"/>
<circle cx="90.2" cy="195.4" r="0.95" fill="#2f7a3c"/>
<circle cx="92.2" cy="196.9" r="0.95" fill="#2f7a3c"/>
<circle cx="91.1" cy="199.5" r="0.95" fill="#2f7a3c"/>
<circle cx="93.1" cy="201.0" r="0.95" fill="#2f7a3c"/>
<circle cx="91.0" cy="202.7" r="0.95" fill="#2f7a3c"/>
<circle cx="93.0" cy="204.2" r="0.95" fill="#2f7a3c"/>
<circle cx="90.8" cy="208.1" r="0.95" fill="#2f7a3c"/>
<circle cx="90.8" cy="210.6" r="0.95" fill="#2f7a3c"/>
<circle cx="91.4" cy="216.3" r="0.95" fill="#2f7a3c"/>
<circle cx="92.4" cy="220.6" r="0.95" fill="#2f7a3c"/>
<circle cx="94.4" cy="222.1" r="0.95" fill="#2f7a3c"/>
<circle cx="91.7" cy="225.6" r="0.95" fill="#2f7a3c"/>
<circle cx="93.7" cy="227.1" r="0.95" fill="#2f7a3c"/>
<circle cx="92.3" cy="228.8" r="0.95" fill="#2f7a3c"/>
<circle cx="256.7" cy="107.0" r="0.95" fill="#2f7a3c"/>
<circle cx="254.7" cy="108.5" r="0.95" fill="#2f7a3c"/>
<circle cx="256.0" cy="111.5" r="0.95" fill="#2f7a3c"/>
<circle cx="255.7" cy="115.1" r="0.95" fill="#2f7a3c"/>
<circle cx="255.9" cy="119.7" r="0.95" fill="#2f7a3c"/>
<circle cx="255.5" cy="123.7" r="0.95" fill="#2f7a3c"/>
<circle cx="256.1" cy="129.4" r="0.95" fill="#2f7a3c"/>
<circle cx="255.9" cy="132.8" r="0.95" fill="#2f7a3c"/>
<circle cx="253.9" cy="134.3" r="0.95" fill="#2f7a3c"/>
<circle cx="256.1" cy="137.5" r="0.95" fill="#2f7a3c"/>
<circle cx="255.5" cy="140.6" r="0.95" fill="#2f7a3c"/>
<circle cx="253.5" cy="142.1" r="0.95" fill="#2f7a3c"/>
<circle cx="255.2" cy="144.8" r="0.95" fill="#2f7a3c"/>
<circle cx="253.2" cy="146.3" r="0.95" fill="#2f7a3c"/>
<circle cx="254.8" cy="150.2" r="0.95" fill="#2f7a3c"/>
<circle cx="255.9" cy="153.0" r="0.95" fill="#2f7a3c"/>
<circle cx="253.9" cy="154.5" r="0.95" fill="#2f7a3c"/>
<circle cx="255.9" cy="156.6" r="0.95" fill="#2f7a3c"/>
<circle cx="253.9" cy="158.1" r="0.95" fill="#2f7a3c"/>
<circle cx="255.3" cy="159.3" r="0.95" fill="#2f7a3c"/>
<circle cx="253.3" cy="160.8" r="0.95" fill="#2f7a3c"/>
<circle cx="255.7" cy="163.1" r="0.95" fill="#2f7a3c"/>
<circle cx="254.8" cy="167.8" r="0.95" fill="#2f7a3c"/>
<circle cx="252.8" cy="169.3" r="0.95" fill="#2f7a3c"/>
<circle cx="254.4" cy="172.2" r="0.95" fill="#2f7a3c"/>
<circle cx="252.4" cy="173.7" r="0.95" fill="#2f7a3c"/>
<circle cx="254.9" cy="176.7" r="0.95" fill="#2f7a3c"/>
<circle cx="252.9" cy="178.2" r="0.95" fill="#2f7a3c"/>
<circle cx="255.1" cy="179.9" r="0.95" fill="#2f7a3c"/>
<circle cx="254.9" cy="182.7" r="0.95" fill="#2f7a3c"/>
<circle cx="252.9" cy="184.2" r="0.95" fill="#2f7a3c"/>
<circle cx="254.7" cy="187.9" r="0.95" fill="#2f7a3c"/>
<circle cx="255.1" cy="190.9" r="0.95" fill="#2f7a3c"/>
<circle cx="253.1" cy="192.4" r="0.95" fill="#2f7a3c"/>
<circle cx="254.7" cy="195.7" r="0.95" fill="#2f7a3c"/>
<circle cx="252.7" cy="197.2" r="0.95" fill="#2f7a3c"/>
<circle cx="254.1" cy="199.8" r="0.95" fill="#2f7a3c"/>
<circle cx="252.1" cy="201.3" r="0.95" fill="#2f7a3c"/>
<circle cx="254.7" cy="204.1" r="0.95" fill="#2f7a3c"/>
<circle cx="252.7" cy="205.6" r="0.95" fill="#2f7a3c"/>
<circle cx="254.3" cy="207.5" r="0.95" fill="#2f7a3c"/>
<circle cx="252.3" cy="209.0" r="0.95" fill="#2f7a3c"/>
<circle cx="254.8" cy="211.9" r="0.95" fill="#2f7a3c"/>
<circle cx="254.2" cy="215.2" r="0.95" fill="#2f7a3c"/>
<circle cx="253.8" cy="220.4" r="0.95" fill="#2f7a3c"/>
<circle cx="251.8" cy="221.9" r="0.95" fill="#2f7a3c"/>
<circle cx="254.5" cy="224.8" r="0.95" fill="#2f7a3c"/>
<circle cx="252.5" cy="226.3" r="0.95" fill="#2f7a3c"/>
<circle cx="293.6" cy="108.0" r="0.95" fill="#2f7a3c"/>
<circle cx="293.4" cy="112.3" r="0.95" fill="#2f7a3c"/>
<circle cx="295.4" cy="113.8" r="0.95" fill="#2f7a3c"/>
<circle cx="293.4" cy="116.5" r="0.95" fill="#2f7a3c"/>
<circle cx="295.4" cy="118.0" r="0.95" fill="#2f7a3c"/>
<circle cx="293.4" cy="119.1" r="0.95" fill="#2f7a3c"/>
<circle cx="293.8" cy="123.5" r="0.95" fill="#2f7a3c"/>
<circle cx="293.3" cy="126.5" r="0.95" fill="#2f7a3c"/>
<circle cx="292.5" cy="132.0" r="0.95" fill="#2f7a3c"/>
<circle cx="292.3" cy="135.4" r="0.95" fill="#2f7a3c"/>
<circle cx="294.3" cy="136.9" r="0.95" fill="#2f7a3c"/>
<circle cx="292.1" cy="140.9" r="0.95" fill="#2f7a3c"/>
<circle cx="294.1" cy="142.4" r="0.95" fill="#2f7a3c"/>
<circle cx="292.0" cy="145.8" r="0.95" fill="#2f7a3c"/>
<circle cx="291.8" cy="149.4" r="0.95" fill="#2f7a3c"/>
<circle cx="291.9" cy="153.1" r="0.95" fill="#2f7a3c"/>
<circle cx="293.9" cy="154.6" r="0.95" fill="#2f7a3c"/>
<circle cx="291.4" cy="156.2" r="0.95" fill="#2f7a3c"/>
<circle cx="291.7" cy="162.1" r="0.95" fill="#2f7a3c"/>
<circle cx="293.7" cy="163.6" r="0.95" fill="#2f7a3c"/>
<circle cx="291.6" cy="166.0" r="0.95" fill="#2f7a3c"/>
<circle cx="293.6" cy="167.5" r="0.95" fill="#2f7a3c"/>
<circle cx="291.1" cy="171.7" r="0.95" fill="#2f7a3c"/>
<circle cx="293.1" cy="173.2" r="0.95" fill="#2f7a3c"/>
<circle cx="290.7" cy="177.6" r="0.95" fill="#2f7a3c"/>
<circle cx="292.7" cy="179.1" r="0.95" fill="#2f7a3c"/>
<circle cx="291.4" cy="181.7" r="0.95" fill="#2f7a3c"/>
<circle cx="293.4" cy="183.2" r="0.95" fill="#2f7a3c"/>
<circle cx="291.2" cy="186.5" r="0.95" fill="#2f7a3c"/>
<circle cx="293.2" cy="188.0" r="0.95" fill="#2f7a3c"/>
<circle cx="291.0" cy="190.4" r="0.95" fill="#2f7a3c"/>
<circle cx="290.8" cy="193.4" r="0.95" fill="#2f7a3c"/>
<circle cx="290.1" cy="199.3" r="0.95" fill="#2f7a3c"/>
<circle cx="290.0" cy="203.3" r="0.95" fill="#2f7a3c"/>
<circle cx="292.0" cy="204.8" r="0.95" fill="#2f7a3c"/>
<circle cx="289.1" cy="208.8" r="0.95" fill="#2f7a3c"/>
<circle cx="289.5" cy="212.0" r="0.95" fill="#2f7a3c"/>
<circle cx="291.5" cy="213.5" r="0.95" fill="#2f7a3c"/>
<circle cx="289.6" cy="214.7" r="0.95" fill="#2f7a3c"/>
<circle cx="291.6" cy="216.2" r="0.95" fill="#2f7a3c"/>
<circle cx="289.1" cy="218.8" r="0.95" fill="#2f7a3c"/>
<circle cx="291.1" cy="220.3" r="0.95" fill="#2f7a3c"/>
<circle cx="288.9" cy="223.3" r="0.95" fill="#2f7a3c"/>
<circle cx="290.9" cy="224.8" r="0.95" fill="#2f7a3c"/>
<circle cx="289.6" cy="225.8" r="0.95" fill="#2f7a3c"/>
<circle cx="291.6" cy="227.3" r="0.95" fill="#2f7a3c"/>
<path d="M78.00,219.50C79.33,219.40 82.67,219.43 86.00,218.90C89.33,218.37 95.00,217.70 98.00,216.30C101.00,214.90 102.20,213.08 104.00,210.50C105.80,207.92 107.40,203.82 108.80,200.80C110.20,197.78 111.00,194.90 112.40,192.40C113.80,189.90 115.60,187.10 117.20,185.80C118.80,184.50 120.20,184.70 122.00,184.60C123.80,184.50 125.58,184.72 128.00,185.20C130.42,185.68 135.08,187.12 136.50,187.50" stroke="#fbeee9" stroke-width="4.0" fill="none" stroke-linecap="round"/>
<path d="M106.00,205.00C106.58,203.67 108.03,200.10 109.50,197.00C110.97,193.90 112.72,189.57 114.80,186.40C116.88,183.23 119.20,180.40 122.00,178.00C124.80,175.60 127.98,174.00 131.60,172.00C135.22,170.00 139.30,167.70 143.70,166.00C148.10,164.30 152.95,162.72 158.00,161.80C163.05,160.88 168.00,160.77 174.00,160.50C180.00,160.23 188.33,160.05 194.00,160.20C199.67,160.35 203.22,160.57 208.00,161.40C212.78,162.23 218.37,163.85 222.70,165.20C227.03,166.55 230.20,168.32 234.00,169.50C237.80,170.68 241.67,172.02 245.50,172.30C249.33,172.58 253.25,172.42 257.00,171.20C260.75,169.98 266.17,166.03 268.00,165.00" stroke="#fbeee9" stroke-width="4.0" fill="none" stroke-linecap="round"/>
<path d="M128.00,185.20C129.42,185.58 133.50,186.48 136.50,187.50C139.50,188.52 142.42,190.45 146.00,191.30C149.58,192.15 153.33,192.82 158.00,192.60C162.67,192.38 168.00,191.40 174.00,190.00C180.00,188.60 187.83,186.12 194.00,184.20C200.17,182.28 205.33,180.15 211.00,178.50C216.67,176.85 222.33,175.38 228.00,174.30C233.67,173.22 240.00,172.55 245.00,172.00C250.00,171.45 255.83,171.17 258.00,171.00" stroke="#fbeee9" stroke-width="4.0" fill="none" stroke-linecap="round"/>
<path d="M132.00,187.00C133.33,187.75 137.00,189.83 140.00,191.50C143.00,193.17 145.73,195.17 150.00,197.00C154.27,198.83 159.20,201.17 165.60,202.50C172.00,203.83 182.22,204.75 188.40,205.00C194.58,205.25 197.93,205.00 202.70,204.00C207.47,203.00 212.28,201.50 217.00,199.00C221.72,196.50 226.73,192.42 231.00,189.00C235.27,185.58 239.10,181.17 242.60,178.50C246.10,175.83 250.43,173.92 252.00,173.00" stroke="#fbeee9" stroke-width="4.0" fill="none" stroke-linecap="round"/>
<path d="M78.00,219.50C79.33,219.40 82.67,219.43 86.00,218.90C89.33,218.37 95.00,217.70 98.00,216.30C101.00,214.90 102.20,213.08 104.00,210.50C105.80,207.92 107.40,203.82 108.80,200.80C110.20,197.78 111.00,194.90 112.40,192.40C113.80,189.90 115.60,187.10 117.20,185.80C118.80,184.50 120.20,184.70 122.00,184.60C123.80,184.50 125.58,184.72 128.00,185.20C130.42,185.68 135.08,187.12 136.50,187.50" stroke="url(#gcap)" stroke-width="2.4" fill="none" stroke-linecap="round"/>
<path d="M106.00,205.00C106.58,203.67 108.03,200.10 109.50,197.00C110.97,193.90 112.72,189.57 114.80,186.40C116.88,183.23 119.20,180.40 122.00,178.00C124.80,175.60 127.98,174.00 131.60,172.00C135.22,170.00 139.30,167.70 143.70,166.00C148.10,164.30 152.95,162.72 158.00,161.80C163.05,160.88 168.00,160.77 174.00,160.50C180.00,160.23 188.33,160.05 194.00,160.20C199.67,160.35 203.22,160.57 208.00,161.40C212.78,162.23 218.37,163.85 222.70,165.20C227.03,166.55 230.20,168.32 234.00,169.50C237.80,170.68 241.67,172.02 245.50,172.30C249.33,172.58 253.25,172.42 257.00,171.20C260.75,169.98 266.17,166.03 268.00,165.00" stroke="url(#gcap)" stroke-width="2.4" fill="none" stroke-linecap="round"/>
<path d="M128.00,185.20C129.42,185.58 133.50,186.48 136.50,187.50C139.50,188.52 142.42,190.45 146.00,191.30C149.58,192.15 153.33,192.82 158.00,192.60C162.67,192.38 168.00,191.40 174.00,190.00C180.00,188.60 187.83,186.12 194.00,184.20C200.17,182.28 205.33,180.15 211.00,178.50C216.67,176.85 222.33,175.38 228.00,174.30C233.67,173.22 240.00,172.55 245.00,172.00C250.00,171.45 255.83,171.17 258.00,171.00" stroke="url(#gcap)" stroke-width="2.4" fill="none" stroke-linecap="round"/>
<path d="M132.00,187.00C133.33,187.75 137.00,189.83 140.00,191.50C143.00,193.17 145.73,195.17 150.00,197.00C154.27,198.83 159.20,201.17 165.60,202.50C172.00,203.83 182.22,204.75 188.40,205.00C194.58,205.25 197.93,205.00 202.70,204.00C207.47,203.00 212.28,201.50 217.00,199.00C221.72,196.50 226.73,192.42 231.00,189.00C235.27,185.58 239.10,181.17 242.60,178.50C246.10,175.83 250.43,173.92 252.00,173.00" stroke="url(#gcap)" stroke-width="2.4" fill="none" stroke-linecap="round"/>
<path d="M31.5,72 L44,72.4 C62,73.5 75.5,82 76,100 L84,229 L61.4,229 L55.5,108 C55.2,99 50,92.5 42,91.8 L31.5,91.6 Z" fill="url(#gart)"/>
<path d="M31.5,72 L44,72.4 C62,73.5 75.5,82 76,100" stroke="#9a3620" stroke-width="0.8" fill="none"/>
<path d="M37.5,72.2Q38.7,82.0 37.5,91.7M45.5,72.5Q46.5,82.2 45.0,92.0M53.0,74.0Q52.5,84.0 49.5,94.0M60.5,77.0Q58.2,87.5 53.5,98.0M67.0,82.5Q62.5,93.2 55.5,104.0" stroke="#efd8da" stroke-width="2.2" fill="none" opacity="0.5"/>
<path d="M37.5,72.2Q38.7,82.0 37.5,91.7M45.5,72.5Q46.5,82.2 45.0,92.0M53.0,74.0Q52.5,84.0 49.5,94.0M60.5,77.0Q58.2,87.5 53.5,98.0M67.0,82.5Q62.5,93.2 55.5,104.0" stroke="#b4acd6" stroke-width="0.6" fill="none" opacity="0.85"/>
<text transform="translate(66.5,101.3) rotate(86)" font-size="8.2" fill="#fff">Artery</text>
<path d="M258.5,229 L264.5,134 L268.5,104 C269.5,86 280,73.8 299,73.5 L321,73 C328,72.8 332,68 333.5,60 L334,52 L348,50 L348,58 C347,78 339,89.8 322,89.9 L302,90 C294,90.3 289.5,95 289,104 L285.5,134 L279.5,229 Z" fill="url(#gvein)"/>
<path d="M273,104C274,90 282,80 298,78L318,77.5M272.5,112L268,180" stroke="#7891d8" stroke-width="1.4" fill="none" opacity="0.7"/>
<text transform="translate(281.5,113) rotate(-78)" font-size="7.8" fill="#fff">Vein</text>
<path d="M300,62C301,70 301,78 300,86M310,62C311,70 311,78 310,88M318,63C319,71 318,80 318,88" stroke="#c8e4f6" stroke-width="0.7" fill="none" opacity="0.6"/>
</g>
<rect x="31.5" y="19.5" width="315" height="209" fill="none" stroke="#555" stroke-width="0.8"/>
<path d="M31.5,19.3H396.3" stroke="#333" stroke-width="1"/>
<rect x="346.6" y="19.3" width="49.7" height="300.8" rx="1.5" fill="#fff" stroke="#777" stroke-width="0.9"/>
<clipPath id="wb"><rect x="346.6" y="19.3" width="49.7" height="300.8"/></clipPath>
<g clip-path="url(#wb)">
<path d="M330,38.5 L366,38.5 C379,38.5 385.8,47 385.6,62 L384,110 C383,140 382.5,170 382.8,200 L382.8,236 C383,241 388,242 397,239.4 L397,258 C382,264 362,279 340,297.5 L340,275 C352,270 361,264 363.5,250 L363.5,200 C363.5,170 365,140 364.6,110 L364.3,84 C364,66 358,57 346,56.6 L330,56.4 Z" fill="url(#gvein)"/>
<path d="M367,90C366,120 367,150 366,190" stroke="#7d96da" stroke-width="1.4" fill="none" opacity="0.7"/>
<path d="M372,42C378,43 382,48 383,56" stroke="#6f88d0" stroke-width="1.2" fill="none" opacity="0.6"/>
<path d="M31.70,51.50C32.25,50.40 33.63,46.60 35.00,44.90C36.37,43.20 37.98,42.03 39.90,41.30C41.82,40.57 44.02,40.50 46.50,40.50C48.98,40.50 52.45,40.70 54.80,41.30C57.15,41.90 58.95,42.95 60.60,44.10C62.25,45.25 63.20,47.10 64.70,48.20C66.20,49.30 68.23,50.70 69.60,50.70C70.97,50.70 71.52,49.43 72.90,48.20C74.28,46.97 75.97,44.35 77.90,43.30C79.83,42.25 82.30,42.18 84.50,41.90C86.70,41.62 88.90,41.37 91.10,41.60C93.30,41.83 96.05,42.20 97.70,43.30C99.35,44.40 100.03,46.55 101.00,48.20C101.97,49.85 102.40,52.23 103.50,53.20C104.60,54.17 106.37,54.55 107.60,54.00C108.83,53.45 110.07,51.55 110.90,49.90C111.73,48.25 111.77,45.48 112.60,44.10C113.43,42.72 114.38,41.88 115.90,41.60C117.42,41.32 120.05,41.30 121.70,42.40C123.35,43.50 124.30,46.68 125.80,48.20C127.30,49.72 129.08,50.82 130.70,51.50C132.32,52.18 133.95,52.57 135.50,52.30C137.05,52.03 138.43,51.27 140.00,49.90C141.57,48.53 143.25,45.48 144.90,44.10C146.55,42.72 148.25,41.60 149.90,41.60C151.55,41.60 152.88,43.22 154.80,44.10C156.72,44.98 159.60,46.08 161.40,46.90C163.20,47.72 164.50,48.23 165.60,49.00C166.70,49.77 167.05,51.77 168.00,51.50C168.95,51.23 169.92,48.72 171.30,47.40C172.68,46.08 174.37,44.48 176.30,43.60C178.23,42.72 181.38,42.22 182.90,42.10C184.42,41.98 184.58,41.88 185.40,42.90C186.22,43.92 186.70,47.10 187.80,48.20C188.90,49.30 190.48,49.08 192.00,49.50C193.52,49.92 195.38,50.92 196.90,50.70C198.42,50.48 199.58,49.50 201.10,48.20C202.62,46.90 204.35,43.72 206.00,42.90C207.65,42.08 209.35,42.42 211.00,43.30C212.65,44.18 214.25,46.97 215.90,48.20C217.55,49.43 219.52,51.12 220.90,50.70C222.28,50.28 222.83,47.27 224.20,45.70C225.57,44.13 227.18,41.98 229.10,41.30C231.02,40.62 233.90,40.45 235.70,41.60C237.50,42.75 238.35,46.77 239.90,48.20C241.45,49.63 243.20,49.78 245.00,50.20C246.80,50.62 249.33,51.58 250.70,50.70C252.07,49.82 252.23,46.47 253.20,44.90C254.17,43.33 255.12,41.72 256.50,41.30C257.88,40.88 259.85,41.52 261.50,42.40C263.15,43.28 264.88,45.58 266.40,46.60C267.92,47.62 269.08,48.65 270.60,48.50C272.12,48.35 273.72,46.72 275.50,45.70C277.28,44.68 279.23,43.08 281.30,42.40C283.37,41.72 285.98,40.90 287.90,41.60C289.82,42.30 291.42,44.53 292.80,46.60C294.18,48.67 294.95,52.63 296.20,54.00C297.45,55.37 299.07,55.22 300.30,54.80C301.53,54.38 302.37,53.42 303.60,51.50C304.83,49.58 306.18,45.17 307.70,43.30C309.22,41.43 310.77,40.63 312.70,40.30C314.63,39.97 317.10,40.95 319.30,41.30C321.50,41.65 323.70,42.35 325.90,42.40C328.10,42.45 330.43,41.32 332.50,41.60C334.57,41.88 336.65,43.13 338.30,44.10C339.95,45.07 340.90,46.72 342.40,47.40C343.90,48.08 345.37,48.60 347.30,48.20C349.23,47.80 351.88,46.20 354.00,45.00C356.12,43.80 358.00,41.92 360.00,41.00C362.00,40.08 365.00,39.75 366.00,39.50" stroke="#a6d890" stroke-width="1.5" fill="none" stroke-linejoin="round"/><path d="M322.00,66.00C323.33,65.50 327.33,64.00 330.00,63.00C332.67,62.00 335.67,61.17 338.00,60.00C340.33,58.83 342.00,57.17 344.00,56.00C346.00,54.83 348.00,53.92 350.00,53.00C352.00,52.08 354.00,51.25 356.00,50.50C358.00,49.75 361.00,48.83 362.00,48.50" stroke="#a6d890" stroke-width="1.4" fill="none"/>
<path d="M362,40C352,44 358,40 366,38.5C376,36 386,38 389,46C392,58 389,75 391,95C393,120 389,145 391,170C392,185 390,195 388,200" stroke="#a3d493" stroke-width="1.3" fill="none"/>
<path d="M382,196C383,210 381.5,230 382,247C383.5,250 386.5,250 388,247C388.5,230 388.5,212 389.5,195C387,193 384,193.5 382,196Z" fill="#b9dfac" stroke="#94c886" stroke-width="0.6"/>
<path d="M391.3,182V229" stroke="#333" stroke-width="0.6"/><path d="M391.3,233L389.7,228L392.9,228Z" fill="#333"/>
<circle cx="352.50" cy="54.50" r="1.35" fill="#7a4a10"/><circle cx="352.30" cy="54.30" r="0.61" fill="#b08020"/>
<circle cx="361.00" cy="48.50" r="1.35" fill="#7a4a10"/><circle cx="360.80" cy="48.30" r="0.61" fill="#b08020"/>
<circle cx="384.50" cy="197.50" r="1.35" fill="#7a4a10"/><circle cx="384.30" cy="197.30" r="0.61" fill="#b08020"/>
<circle cx="384.00" cy="211.00" r="1.35" fill="#7a4a10"/><circle cx="383.80" cy="210.80" r="0.61" fill="#b08020"/>
<circle cx="384.50" cy="227.50" r="1.35" fill="#7a4a10"/><circle cx="384.30" cy="227.30" r="0.61" fill="#b08020"/>
<circle cx="383.50" cy="238.50" r="1.35" fill="#7a4a10"/><circle cx="383.30" cy="238.30" r="0.61" fill="#b08020"/>
<path d="M360,240C358,246 358,252 360,258" stroke="#a3d493" stroke-width="1.3" fill="none"/>
</g>
<circle cx="386.60" cy="254.60" r="4.20" fill="#e8ecf6" stroke="#222" stroke-width="0.8"/><text x="386.60" y="257.20" font-size="7.2" font-weight="bold" text-anchor="middle" fill="#111">4</text>
<text x="392.5" y="286.2" font-size="7.9" text-anchor="end" fill="#1a1a1a">CSF</text>
<text x="392.5" y="295.5" font-size="7.9" text-anchor="end" fill="#1a1a1a">clearance</text>
<text x="392.5" y="304.8" font-size="7.9" text-anchor="end" fill="#1a1a1a">to plasma</text>
<text x="33.8" y="29.6" font-size="7.8" fill="#222" stroke="#fff" stroke-width="1.6" stroke-opacity="0.75" paint-order="stroke" >Skull</text>
<text x="35.0" y="49.5" font-size="8.0" fill="#222" stroke="#fff" stroke-width="1.6" stroke-opacity="0.75" paint-order="stroke" >Dural sinuses</text>
<text x="34.2" y="67.9" font-size="8.0" fill="#222" stroke="#fff" stroke-width="1.6" stroke-opacity="0.75" paint-order="stroke" >Subarachnoid space</text>
<text x="91.3" y="93.4" font-size="8.1" fill="#222" stroke="#fff" stroke-width="1.6" stroke-opacity="0.75" paint-order="stroke" >Peri-arterial CSF influx</text>
<text x="199.5" y="93.4" font-size="8.1" fill="#222" stroke="#fff" stroke-width="1.6" stroke-opacity="0.75" paint-order="stroke" >Peri-venous efflux</text>
<text x="98.6" y="122.9" font-size="8.0" fill="#222" stroke="#fff" stroke-width="1.6" stroke-opacity="0.75" paint-order="stroke" >Arterial</text>
<text x="98.6" y="132.3" font-size="8.0" fill="#222" stroke="#fff" stroke-width="1.6" stroke-opacity="0.75" paint-order="stroke" >pulsatility</text>
<text x="222.6" y="121.6" font-size="8.0" fill="#222" stroke="#fff" stroke-width="1.6" stroke-opacity="0.75" paint-order="stroke" >Waste</text>
<path d="M89.6,90.6C84,90.5 80.6,94 80.5,101" stroke="#222" stroke-width="0.7" fill="none"/><path d="M80.5,104.5L78.9,100L82.1,100Z" fill="#222"/>
<path d="M79,129L86,128L96,126" stroke="#333" stroke-width="0.5" fill="none"/>
<path d="M265.8,103.3C266,95 268,88 272,82" stroke="#222" stroke-width="0.6" fill="none"/><path d="M273.6,79L270.5,82.5L273.5,84Z" fill="#222"/>
<path d="M332.2,93.2C337,88 339,80 339.5,70" stroke="#222" stroke-width="0.6" fill="none"/><path d="M339.8,66.5L338,71L341.2,71Z" fill="#222"/>
<path d="M90,213C94,214 98,212 100.5,209" stroke="#222" stroke-width="0.6" fill="none"/><path d="M102,207.3L98.5,208.5L100.6,211Z" fill="#222"/>
<path d="M205,123.5L221,121" stroke="#333" stroke-width="0.5"/>
<path d="M168,114L161,124M175,114L182,122" stroke="#333" stroke-width="0.5"/>
<circle cx="160.90" cy="124.00" r="1.60" fill="#7a4a10"/><circle cx="160.70" cy="123.80" r="0.72" fill="#b08020"/>
<circle cx="182.00" cy="122.50" r="1.60" fill="#7a4a10"/><circle cx="181.80" cy="122.30" r="0.72" fill="#b08020"/>
<circle cx="189.00" cy="138.00" r="1.60" fill="#7a4a10"/><circle cx="188.80" cy="137.80" r="0.72" fill="#b08020"/>
<circle cx="196.60" cy="141.90" r="1.60" fill="#7a4a10"/><circle cx="196.40" cy="141.70" r="0.72" fill="#b08020"/>
<circle cx="181.30" cy="135.50" r="1.60" fill="#7a4a10"/><circle cx="181.10" cy="135.30" r="0.72" fill="#b08020"/>
<circle cx="177.50" cy="139.30" r="1.60" fill="#7a4a10"/><circle cx="177.30" cy="139.10" r="0.72" fill="#b08020"/>
<circle cx="204.30" cy="138.00" r="1.60" fill="#7a4a10"/><circle cx="204.10" cy="137.80" r="0.72" fill="#b08020"/>
<circle cx="206.90" cy="135.50" r="1.60" fill="#7a4a10"/><circle cx="206.70" cy="135.30" r="0.72" fill="#b08020"/>
<circle cx="205.60" cy="130.40" r="1.60" fill="#7a4a10"/><circle cx="205.40" cy="130.20" r="0.72" fill="#b08020"/>
<circle cx="204.30" cy="124.00" r="1.60" fill="#7a4a10"/><circle cx="204.10" cy="123.80" r="0.72" fill="#b08020"/>
<circle cx="222.00" cy="141.90" r="1.60" fill="#7a4a10"/><circle cx="221.80" cy="141.70" r="0.72" fill="#b08020"/>
<circle cx="227.30" cy="139.30" r="1.60" fill="#7a4a10"/><circle cx="227.10" cy="139.10" r="0.72" fill="#b08020"/>
<circle cx="233.70" cy="138.00" r="1.60" fill="#7a4a10"/><circle cx="233.50" cy="137.80" r="0.72" fill="#b08020"/>
<circle cx="240.00" cy="136.80" r="1.60" fill="#7a4a10"/><circle cx="239.80" cy="136.60" r="0.72" fill="#b08020"/>
<circle cx="245.20" cy="141.90" r="1.60" fill="#7a4a10"/><circle cx="245.00" cy="141.70" r="0.72" fill="#b08020"/>
<circle cx="250.30" cy="136.80" r="1.60" fill="#7a4a10"/><circle cx="250.10" cy="136.60" r="0.72" fill="#b08020"/>
<circle cx="153.20" cy="175.00" r="1.60" fill="#7a4a10"/><circle cx="153.00" cy="174.80" r="0.72" fill="#b08020"/>
<circle cx="164.70" cy="177.60" r="1.60" fill="#7a4a10"/><circle cx="164.50" cy="177.40" r="0.72" fill="#b08020"/>
<circle cx="189.00" cy="178.90" r="1.60" fill="#7a4a10"/><circle cx="188.80" cy="178.70" r="0.72" fill="#b08020"/>
<circle cx="208.00" cy="168.70" r="1.60" fill="#7a4a10"/><circle cx="207.80" cy="168.50" r="0.72" fill="#b08020"/>
<circle cx="214.50" cy="175.00" r="1.60" fill="#7a4a10"/><circle cx="214.30" cy="174.80" r="0.72" fill="#b08020"/>
<circle cx="175.00" cy="185.30" r="1.60" fill="#7a4a10"/><circle cx="174.80" cy="185.10" r="0.72" fill="#b08020"/>
<circle cx="164.70" cy="198.00" r="1.60" fill="#7a4a10"/><circle cx="164.50" cy="197.80" r="0.72" fill="#b08020"/>
<circle cx="171.00" cy="196.80" r="1.60" fill="#7a4a10"/><circle cx="170.80" cy="196.60" r="0.72" fill="#b08020"/>
<circle cx="146.80" cy="202.70" r="1.60" fill="#7a4a10"/><circle cx="146.60" cy="202.50" r="0.72" fill="#b08020"/>
<circle cx="213.30" cy="191.70" r="1.60" fill="#7a4a10"/><circle cx="213.10" cy="191.50" r="0.72" fill="#b08020"/>
<circle cx="262.50" cy="114.00" r="1.60" fill="#7a4a10"/><circle cx="262.30" cy="113.80" r="0.72" fill="#b08020"/>
<circle cx="262.50" cy="125.00" r="1.60" fill="#7a4a10"/><circle cx="262.30" cy="124.80" r="0.72" fill="#b08020"/>
<circle cx="262.40" cy="146.00" r="1.60" fill="#7a4a10"/><circle cx="262.20" cy="145.80" r="0.72" fill="#b08020"/>
<circle cx="261.50" cy="160.00" r="1.60" fill="#7a4a10"/><circle cx="261.30" cy="159.80" r="0.72" fill="#b08020"/>
<circle cx="270.00" cy="80.00" r="1.60" fill="#7a4a10"/><circle cx="269.80" cy="79.80" r="0.72" fill="#b08020"/>
<circle cx="280.00" cy="78.00" r="1.60" fill="#7a4a10"/><circle cx="279.80" cy="77.80" r="0.72" fill="#b08020"/>
<circle cx="327.00" cy="65.00" r="1.60" fill="#7a4a10"/><circle cx="326.80" cy="64.80" r="0.72" fill="#b08020"/>
<circle cx="330.00" cy="76.00" r="1.60" fill="#7a4a10"/><circle cx="329.80" cy="75.80" r="0.72" fill="#b08020"/>
<circle cx="262.00" cy="88.00" r="1.60" fill="#7a4a10"/><circle cx="261.80" cy="87.80" r="0.72" fill="#b08020"/>
<circle cx="38.00" cy="131.00" r="1.60" fill="#7a4a10"/><circle cx="37.80" cy="130.80" r="0.72" fill="#b08020"/>
<circle cx="39.00" cy="138.00" r="1.60" fill="#7a4a10"/><circle cx="38.80" cy="137.80" r="0.72" fill="#b08020"/>
<circle cx="226.00" cy="152.00" r="1.60" fill="#7a4a10"/><circle cx="225.80" cy="151.80" r="0.72" fill="#b08020"/>
<circle cx="229.00" cy="158.00" r="1.60" fill="#7a4a10"/><circle cx="228.80" cy="157.80" r="0.72" fill="#b08020"/>
<circle cx="217.00" cy="158.00" r="1.60" fill="#7a4a10"/><circle cx="216.80" cy="157.80" r="0.72" fill="#b08020"/>
<circle cx="236.00" cy="156.00" r="1.60" fill="#7a4a10"/><circle cx="235.80" cy="155.80" r="0.72" fill="#b08020"/>
<circle cx="150.00" cy="131.00" r="1.60" fill="#7a4a10"/><circle cx="149.80" cy="130.80" r="0.72" fill="#b08020"/>
<circle cx="170.00" cy="128.00" r="1.60" fill="#7a4a10"/><circle cx="169.80" cy="127.80" r="0.72" fill="#b08020"/>
<circle cx="190.00" cy="126.00" r="1.60" fill="#7a4a10"/><circle cx="189.80" cy="125.80" r="0.72" fill="#b08020"/>
<circle cx="212.00" cy="146.00" r="1.60" fill="#7a4a10"/><circle cx="211.80" cy="145.80" r="0.72" fill="#b08020"/>
<circle cx="248.00" cy="147.00" r="1.60" fill="#7a4a10"/><circle cx="247.80" cy="146.80" r="0.72" fill="#b08020"/>
<circle cx="252.00" cy="152.00" r="1.60" fill="#7a4a10"/><circle cx="251.80" cy="151.80" r="0.72" fill="#b08020"/>
<circle cx="256.00" cy="160.00" r="1.60" fill="#7a4a10"/><circle cx="255.80" cy="159.80" r="0.72" fill="#b08020"/>
<circle cx="276.00" cy="84.00" r="1.60" fill="#7a4a10"/><circle cx="275.80" cy="83.80" r="0.72" fill="#b08020"/>
<circle cx="286.00" cy="80.00" r="1.60" fill="#7a4a10"/><circle cx="285.80" cy="79.80" r="0.72" fill="#b08020"/>
<circle cx="325.00" cy="69.00" r="1.60" fill="#7a4a10"/><circle cx="324.80" cy="68.80" r="0.72" fill="#b08020"/>
<circle cx="339.50" cy="62.00" r="1.60" fill="#7a4a10"/><circle cx="339.30" cy="61.80" r="0.72" fill="#b08020"/>
<circle cx="335.00" cy="75.00" r="1.60" fill="#7a4a10"/><circle cx="334.80" cy="74.80" r="0.72" fill="#b08020"/>
<circle cx="339.00" cy="90.00" r="1.60" fill="#7a4a10"/><circle cx="338.80" cy="89.80" r="0.72" fill="#b08020"/>
<circle cx="323.00" cy="84.00" r="1.60" fill="#7a4a10"/><circle cx="322.80" cy="83.80" r="0.72" fill="#b08020"/>
<circle cx="233.00" cy="183.00" r="1.60" fill="#7a4a10"/><circle cx="232.80" cy="182.80" r="0.72" fill="#b08020"/>
<circle cx="186.00" cy="196.00" r="1.60" fill="#7a4a10"/><circle cx="185.80" cy="195.80" r="0.72" fill="#b08020"/>
<circle cx="118.00" cy="176.00" r="1.60" fill="#7a4a10"/><circle cx="117.80" cy="175.80" r="0.72" fill="#b08020"/>
<circle cx="104.00" cy="186.00" r="1.60" fill="#7a4a10"/><circle cx="103.80" cy="185.80" r="0.72" fill="#b08020"/>
<circle cx="240.00" cy="200.00" r="1.60" fill="#7a4a10"/><circle cx="239.80" cy="199.80" r="0.72" fill="#b08020"/>
<circle cx="223.00" cy="212.00" r="1.60" fill="#7a4a10"/><circle cx="222.80" cy="211.80" r="0.72" fill="#b08020"/>
<circle cx="300.00" cy="120.00" r="1.60" fill="#7a4a10"/><circle cx="299.80" cy="119.80" r="0.72" fill="#b08020"/>
<circle cx="335.00" cy="185.00" r="1.60" fill="#7a4a10"/><circle cx="334.80" cy="184.80" r="0.72" fill="#b08020"/>
<circle cx="310.00" cy="200.00" r="1.60" fill="#7a4a10"/><circle cx="309.80" cy="199.80" r="0.72" fill="#b08020"/>
<circle cx="44.00" cy="170.00" r="1.60" fill="#7a4a10"/><circle cx="43.80" cy="169.80" r="0.72" fill="#b08020"/>
<circle cx="40.00" cy="190.00" r="1.60" fill="#7a4a10"/><circle cx="39.80" cy="189.80" r="0.72" fill="#b08020"/>
<circle cx="96.00" cy="143.00" r="1.60" fill="#7a4a10"/><circle cx="95.80" cy="142.80" r="0.72" fill="#b08020"/>
<circle cx="140.00" cy="150.00" r="1.60" fill="#7a4a10"/><circle cx="139.80" cy="149.80" r="0.72" fill="#b08020"/>
<ellipse cx="221.5" cy="153.5" rx="5" ry="4.5" fill="#f3de86"/><circle cx="221.5" cy="153.5" r="2.6" fill="#d4ccd0"/>
<circle cx="229.5" cy="152.5" r="1.2" fill="#c0304a"/>
<circle cx="231.8" cy="151.5" r="1.2" fill="#c0304a"/>
<circle cx="232.3" cy="154.0" r="1.2" fill="#c0304a"/>
<circle cx="230.0" cy="155.0" r="1.2" fill="#c0304a"/>
<circle cx="227.5" cy="158.5" r="1.2" fill="#c0304a"/>
<circle cx="171.20" cy="110.20" r="4.40" fill="#fff" stroke="#222" stroke-width="0.8"/><text x="171.20" y="112.80" font-size="7.2" font-weight="bold" text-anchor="middle" fill="#111">5</text>
<circle cx="236.30" cy="109.30" r="4.40" fill="#fff" stroke="#222" stroke-width="0.8"/><text x="236.30" y="111.90" font-size="7.2" font-weight="bold" text-anchor="middle" fill="#111">2</text>
<circle cx="263.50" cy="74.50" r="4.40" fill="#fff" stroke="#222" stroke-width="0.8"/><text x="263.50" y="77.10" font-size="7.2" font-weight="bold" text-anchor="middle" fill="#111">3</text>
<rect x="128.6" y="183.7" width="8" height="6.9" fill="none" stroke="#111" stroke-width="0.8"/>
<rect x="215.3" y="147.2" width="23.2" height="14" fill="none" stroke="#111" stroke-width="0.8"/>
<path d="M128.6,190.6L88,234M136.6,190.6L196,234M215.3,161.2L205.8,234M238.5,161.2L342.5,234" stroke="#111" stroke-width="0.9"/>
<clipPath id="inl"><rect x="88" y="234" width="105.6" height="85.5"/></clipPath>
<defs><linearGradient id="gsal" x1="0" y1="0" x2="1" y2="0.4"><stop offset="0" stop-color="#f2a784"/><stop offset="0.5" stop-color="#e88c68"/><stop offset="1" stop-color="#e07b58"/></linearGradient><radialGradient id="grbc" cx="0.4" cy="0.4" r="0.7"><stop offset="0" stop-color="#e8453a"/><stop offset="0.7" stop-color="#d0302a"/><stop offset="1" stop-color="#a82220"/></radialGradient></defs>
<g clip-path="url(#inl)">
<rect x="88" y="234" width="106" height="86" fill="#f3e6e2"/>
<path d="M119.6,232 C122,238 121,244 112,252 C106,258 104,270 108,279 C110,283 114,285 116,286 C110,290 106,297 108,305 C110,312 113,316 116,322 L196,322 L196,232 Z" fill="url(#gsal)"/>
<path d="M124,236 C127,242 125,248 118,256 C113,262 112,270 114,277" stroke="#f6b698" stroke-width="2.5" fill="none" opacity="0.8"/>
<path d="M113,296 C112,302 113,308 116,314" stroke="#f6b698" stroke-width="2.5" fill="none" opacity="0.8"/>
<ellipse cx="165" cy="300" rx="52" ry="52" fill="#ea9272"/>
<circle cx="165" cy="300" r="47" fill="none" stroke="#fbe4d8" stroke-width="0.6" stroke-dasharray="1.5,1"/>
<circle cx="165" cy="300" r="41.5" fill="#aadcef"/>
<path d="M126,292 C124,300 124,310 127,318 L118,318 C116,310 116,300 118,292Z" fill="#aadcef"/>
<path d="M131,283C140,270 160,264 180,266C188,268 194,272 196,276L196,292C188,282 175,275 160,275C148,276 139,279 131,283Z" fill="#f1a9ba"/>
<ellipse cx="193" cy="278" rx="4" ry="6" fill="#c6a2d2"/>
<ellipse cx="163.4" cy="297" rx="30.5" ry="26.5" fill="#f4dd9e" stroke="#d8b870" stroke-width="0.5"/>
<ellipse cx="163.4" cy="297.5" rx="27" ry="23" fill="#c24a32"/>
<path d="M163.4,274.5V277" stroke="#f4dd9e" stroke-width="1"/>
<ellipse cx="137.8" cy="299" rx="2" ry="6.5" fill="#cdbcb8"/><ellipse cx="189.5" cy="292" rx="2" ry="6.5" fill="#cdbcb8"/>
<ellipse cx="160.5" cy="289" rx="7.5" ry="9.5" transform="rotate(25 160.5 289)" fill="url(#grbc)"/>
<ellipse cx="168.8" cy="302" rx="9.5" ry="8" transform="rotate(30 168.8 302)" fill="url(#grbc)"/>
<circle cx="115.5" cy="293.0" r="1.35" fill="#1f6e38"/>
<circle cx="117.4" cy="284.5" r="1.35" fill="#1f6e38"/>
<circle cx="120.9" cy="276.5" r="1.35" fill="#1f6e38"/>
<circle cx="125.6" cy="269.2" r="1.35" fill="#1f6e38"/>
<circle cx="131.5" cy="262.8" r="1.35" fill="#1f6e38"/>
<circle cx="138.5" cy="257.6" r="1.35" fill="#1f6e38"/>
<circle cx="146.3" cy="253.6" r="1.35" fill="#1f6e38"/>
<circle cx="154.6" cy="251.1" r="1.35" fill="#1f6e38"/>
<circle cx="163.3" cy="250.0" r="1.35" fill="#1f6e38"/>
<circle cx="172.0" cy="250.5" r="1.35" fill="#1f6e38"/>
<circle cx="180.5" cy="252.4" r="1.35" fill="#1f6e38"/>
<circle cx="188.5" cy="255.9" r="1.35" fill="#1f6e38"/>
<circle cx="195.8" cy="260.6" r="1.35" fill="#1f6e38"/>
<circle cx="202.2" cy="266.5" r="1.35" fill="#1f6e38"/>
<circle cx="207.4" cy="273.5" r="1.35" fill="#1f6e38"/>
<circle cx="211.4" cy="281.3" r="1.35" fill="#1f6e38"/>
<circle cx="123.2" cy="288.0" r="1.35" fill="#1f6e38"/>
<circle cx="126.2" cy="280.3" r="1.35" fill="#1f6e38"/>
<circle cx="130.6" cy="273.3" r="1.35" fill="#1f6e38"/>
<circle cx="136.3" cy="267.3" r="1.35" fill="#1f6e38"/>
<circle cx="143.0" cy="262.4" r="1.35" fill="#1f6e38"/>
<circle cx="150.6" cy="259.0" r="1.35" fill="#1f6e38"/>
<circle cx="158.6" cy="257.0" r="1.35" fill="#1f6e38"/>
<circle cx="166.9" cy="256.5" r="1.35" fill="#1f6e38"/>
<circle cx="175.1" cy="257.7" r="1.35" fill="#1f6e38"/>
<circle cx="182.9" cy="260.4" r="1.35" fill="#1f6e38"/>
<circle cx="190.1" cy="264.5" r="1.35" fill="#1f6e38"/>
<circle cx="196.4" cy="269.9" r="1.35" fill="#1f6e38"/>
<circle cx="201.5" cy="276.4" r="1.35" fill="#1f6e38"/>
<circle cx="205.3" cy="283.7" r="1.35" fill="#1f6e38"/>
<circle cx="124.4" cy="327.4" r="1.35" fill="#1f6e38"/>
<circle cx="119.3" cy="317.6" r="1.35" fill="#1f6e38"/>
<circle cx="116.5" cy="306.8" r="1.35" fill="#1f6e38"/>
<circle cx="126.9" cy="322.0" r="1.35" fill="#1f6e38"/>
<circle cx="123.7" cy="315.0" r="1.35" fill="#1f6e38"/>
<circle cx="121.7" cy="307.6" r="1.35" fill="#1f6e38"/>
<path d="M98.6,266.5C104,280 115,289 128,291" stroke="#111" stroke-width="0.7" fill="none"/><path d="M131,291.7L126.5,289.5L126.5,293.5Z" fill="#111"/>
<path d="M136.5,286.5C138.5,284 140.5,287.5 142.5,285C144.5,282.5 146.5,286 148.5,283.5" stroke="#5a70b8" stroke-width="1.8" fill="none"/>
<path d="M136.5,286.5C138.5,284 140.5,287.5 142.5,285C144.5,282.5 146.5,286 148.5,283.5" stroke="#b8c8ec" stroke-width="0.6" fill="none"/>
<path d="M144,285.8C147,287 148.5,289.5 149,292" stroke="#111" stroke-width="0.7" fill="none"/><path d="M149.3,294L147.4,290.3L150.6,290.3Z" fill="#111"/>
<circle cx="96.00" cy="262.30" r="1.70" fill="#7a4a10"/><circle cx="95.80" cy="262.10" r="0.77" fill="#b08020"/>
<circle cx="149.60" cy="300.00" r="1.60" fill="#6b5a1a"/><circle cx="149.40" cy="299.80" r="0.72" fill="#a09030"/>
<circle cx="155.80" cy="311.00" r="1.60" fill="#6b5a1a"/><circle cx="155.60" cy="310.80" r="0.72" fill="#a09030"/>
</g>
<circle cx="176.00" cy="286.70" r="5.00" fill="#f0e8e0" stroke="#222" stroke-width="0.8"/><text x="176.00" y="289.30" font-size="7.2" font-weight="bold" text-anchor="middle" fill="#111">4</text>
<rect x="88" y="234" width="105.6" height="85.5" fill="none" stroke="#111" stroke-width="2"/>
<clipPath id="inr"><rect x="206.4" y="233.8" width="136" height="85.4"/></clipPath>
<g clip-path="url(#inr)">
<defs><radialGradient id="gyc" cx="0.2" cy="0.5" r="0.8"><stop offset="0" stop-color="#fbf2c6"/><stop offset="1" stop-color="#f0d668"/></radialGradient></defs>
<rect x="206" y="233" width="137" height="87" fill="#f2e6e2"/>
<path d="M206,233 L262,233 C262,240 260,246 262,254 C265,265 272,278 288,289 C300,296 320,300 343,304 L343,320 L206,320 Z" fill="url(#gyc)" stroke="#b8a454" stroke-width="0.8"/>
<path d="M235,320C240,312 246,306 258,304C272,303 290,305 300,312L304,320Z" fill="#f2e6e2" stroke="#b8a454" stroke-width="0.8"/>
<path d="M204,253C216,248 232,240 252,230" stroke="#e9a085" stroke-width="8.5" fill="none"/>
<path d="M240,233.5C260,234.5 285,234.5 310,233" stroke="#e9a085" stroke-width="4" fill="none"/>
<path d="M302,231C316,243 328,260 334,282C337,295 339,308 340,322" stroke="#e9a085" stroke-width="8" fill="none"/>
<path d="M266,324C282,316 300,312 318,311C330,310 338,307 345,305" stroke="#e9a085" stroke-width="8" fill="none"/>
<circle cx="342" cy="249" r="15" fill="#c9a0a0"/>
<circle cx="339" cy="250" r="11" fill="#cfa8a8"/>
<ellipse cx="239.2" cy="272.6" rx="21.3" ry="19.2" fill="#d2c8c8"/>
<circle cx="239.2" cy="267.3" r="5" fill="#b2aac6"/>
<circle cx="300.0" cy="271.6" r="1.9" fill="#c02a50" stroke="#901838" stroke-width="0.3"/>
<circle cx="298.2" cy="273.1" r="1.9" fill="#c02a50" stroke="#901838" stroke-width="0.3"/>
<circle cx="300.3" cy="268.6" r="1.9" fill="#c02a50" stroke="#901838" stroke-width="0.3"/>
<circle cx="302.5" cy="274.6" r="1.9" fill="#c02a50" stroke="#901838" stroke-width="0.3"/>
<circle cx="295.3" cy="270.8" r="1.9" fill="#c02a50" stroke="#901838" stroke-width="0.3"/>
<circle cx="304.5" cy="269.0" r="1.9" fill="#c02a50" stroke="#901838" stroke-width="0.3"/>
<circle cx="298.5" cy="276.7" r="1.9" fill="#c02a50" stroke="#901838" stroke-width="0.3"/>
<circle cx="297.1" cy="266.5" r="1.9" fill="#c02a50" stroke="#901838" stroke-width="0.3"/>
<circle cx="306.4" cy="273.7" r="1.9" fill="#c02a50" stroke="#901838" stroke-width="0.3"/>
<circle cx="293.3" cy="274.1" r="1.9" fill="#c02a50" stroke="#901838" stroke-width="0.3"/>
<circle cx="303.2" cy="265.4" r="1.9" fill="#c02a50" stroke="#901838" stroke-width="0.3"/>
<circle cx="302.4" cy="278.4" r="1.9" fill="#c02a50" stroke="#901838" stroke-width="0.3"/>
<circle cx="292.8" cy="267.8" r="1.9" fill="#c02a50" stroke="#901838" stroke-width="0.3"/>
<circle cx="308.5" cy="269.9" r="1.9" fill="#c02a50" stroke="#901838" stroke-width="0.3"/>
<circle cx="294.8" cy="278.2" r="1.9" fill="#c02a50" stroke="#901838" stroke-width="0.3"/>
<circle cx="298.8" cy="263.3" r="1.9" fill="#c02a50" stroke="#901838" stroke-width="0.3"/>
<circle cx="212.6" cy="262.0" r="2.2" fill="#c0304a"/>
<circle cx="267.0" cy="300.4" r="2.2" fill="#c0304a"/>
<circle cx="287.2" cy="285.9" r="2.2" fill="#c0304a"/>
<circle cx="289.40" cy="251.30" r="2.00" fill="#7a4a10"/><circle cx="289.20" cy="251.10" r="0.90" fill="#b08020"/>
<circle cx="276.60" cy="279.50" r="2.00" fill="#7a4a10"/><circle cx="276.40" cy="279.30" r="0.90" fill="#b08020"/>
<circle cx="223.90" cy="301.40" r="2.00" fill="#7a4a10"/><circle cx="223.70" cy="301.20" r="0.90" fill="#b08020"/>
</g>
<circle cx="214.10" cy="243.20" r="4.30" fill="#fff" stroke="#222" stroke-width="0.8"/><text x="214.10" y="245.80" font-size="7.2" font-weight="bold" text-anchor="middle" fill="#111">1</text>
<rect x="206.4" y="233.8" width="136" height="85.4" fill="none" stroke="#111" stroke-width="2"/>
<text x="84.3" y="260" font-size="7.4" text-anchor="end" fill="#222">BBB</text>
<text x="84.3" y="269.8" font-size="7.4" text-anchor="end" fill="#222">clearance</text>
<defs>
<linearGradient id="mgray" x1="0" y1="0" x2="1" y2="0"><stop offset="0" stop-color="#fff"/><stop offset="1" stop-color="#d3d4d8"/></linearGradient>
<radialGradient id="gyel" cx="0.5" cy="0.45" r="0.65"><stop offset="0" stop-color="#faeeb0"/><stop offset="1" stop-color="#ecd063"/></radialGradient>
<linearGradient id="gcsf" x1="0" y1="0" x2="0" y2="1"><stop offset="0" stop-color="#9aa4e2"/><stop offset="0.22" stop-color="#c9e6f8"/><stop offset="1" stop-color="#c6eefb"/></linearGradient>
<linearGradient id="gpl" x1="0" y1="0" x2="0" y2="1"><stop offset="0" stop-color="#c04a32"/><stop offset="1" stop-color="#a8321f"/></linearGradient>
<filter id="shd" x="-20%" y="-20%" width="140%" height="140%"><feGaussianBlur in="SourceAlpha" stdDeviation="0.8"/><feOffset dx="0.8" dy="0.8"/><feComponentTransfer><feFuncA type="linear" slope="0.35"/></feComponentTransfer><feMerge><feMergeNode/><feMergeNode in="SourceGraphic"/></feMerge></filter>
</defs>
<rect x="401.6" y="19.4" width="218.4" height="300.6" fill="#fff" stroke="#555" stroke-width="1.1"/>
<rect x="583" y="31" width="36.4" height="288.4" fill="url(#mgray)"/>
<path d="M403.2,31.2H557.6C571,62 584,110 588,160C591,205 578,262 557.5,319.4H403.2Z" fill="#f4efea"/>
<rect x="401.6" y="19.4" width="218.4" height="300.6" fill="none" stroke="#666" stroke-width="1.1"/>
<path d="M401.6,19.4H620" stroke="#333" stroke-width="1.1"/>
<ellipse cx="503.8" cy="129.7" rx="27.9" ry="18.4" fill="#fff"/>
<ellipse cx="556.4" cy="121.8" rx="21.6" ry="18.3" fill="#fff"/>
<ellipse cx="529.5" cy="290.2" rx="27.0" ry="18.0" fill="#fff"/>
<ellipse cx="594.5" cy="289.0" rx="22.2" ry="18.0" fill="#fff"/>
<path d="M498.5,148V184.5M555.5,140V187.5M529.5,227V272M594.2,271V213" stroke="#444" stroke-width="0.7" fill="none"/>
<path d="M498.5,186.8L497.2,183.6L499.8,183.6ZM555.5,190L554.2,186.8L556.8,186.8Z" fill="#333"/>
<path d="M495.5,214.5C508,226 540,233 560.5,216.5" stroke="#222" stroke-width="0.9" fill="none"/>
<path d="M563.5,213.5L557.6,215.3L560.4,219.2z" fill="#222"/>
<path d="M474.60,174.00V85.00" stroke="#222" stroke-width="0.90"/><path d="M474.60,82.00L472.70,86.20L476.50,86.20z" fill="#222"/>
<path d="M595.40,174.00V74.50" stroke="#222" stroke-width="0.90"/><path d="M595.40,71.50L593.50,75.70L597.30,75.70z" fill="#222"/>
<path d="M492.80,62.80H505.50" stroke="#222" stroke-width="0.90"/><path d="M508.50,62.80L504.30,60.90L504.30,64.70z" fill="#222"/>
<path d="M443.00,192.70H453.50" stroke="#222" stroke-width="0.90"/><path d="M456.50,192.70L452.30,190.80L452.30,194.60z" fill="#222"/>
<path d="M493.00,189.30H507.20" stroke="#222" stroke-width="0.90"/><path d="M510.20,189.30L506.00,187.40L506.00,191.20z" fill="#222"/>
<path d="M510.20,196.00H496.00" stroke="#222" stroke-width="0.90"/><path d="M493.00,196.00L497.20,194.10L497.20,197.90z" fill="#222"/>
<path d="M545.60,192.70H560.50" stroke="#222" stroke-width="0.90"/><path d="M563.50,192.70L559.30,190.80L559.30,194.60z" fill="#222"/>
<path d="M471.70,229.00V215.00" stroke="#222" stroke-width="0.90"/><path d="M471.70,212.00L469.80,216.20L473.60,216.20z" fill="#222"/>
<path d="M477.60,212.00V226.00" stroke="#222" stroke-width="0.90"/><path d="M477.60,229.00L475.70,224.80L479.50,224.80z" fill="#222"/>
<g filter="url(#shd)">
<rect x="457" y="44.2" width="35.2" height="37.2" fill="#f8eeea"/>
<rect x="404.5" y="174.3" width="37.8" height="37" fill="url(#gyel)"/>
<rect x="457.3" y="174.3" width="35" height="37" fill="#ecdcd4"/>
<rect x="510.7" y="174.3" width="34.4" height="37" fill="url(#gcsf)"/>
<rect x="563.9" y="174.3" width="35.1" height="37" fill="url(#gpl)"/>
<rect x="452.3" y="229.4" width="45" height="46.4" fill="#ecdcd4"/>
</g>
<path d="M513,176.8H542" stroke="#fff" stroke-width="0.8" opacity="0.6"/>
<clipPath id="upc"><rect x="457" y="44.2" width="35.2" height="37.2"/></clipPath>
<g clip-path="url(#upc)" stroke="#ebc3ae" stroke-width="2.2" fill="none" stroke-linecap="round"><path d="M457,63C463,62 467,60 472,62C478,65 484,64 492,60"/><path d="M468,44C469,50 470,55 472,62C473,68 471,74 470,82"/><path d="M478,44C479,50 478,56 481,64C484,70 488,74 492,78"/><path d="M457,77C462,74 466,72 471,73"/><path d="M484,66C487,72 486,77 485,82"/><path d="M460,44C462,48 463,52 462,56"/></g>
<circle cx="474" cy="63" r="4.5" fill="#dccbd0" opacity="0.7"/>
<path d="M481.5,47C485,49 487,53 487.3,57C487.5,61 487,65 486,67" stroke="#f1e58e" stroke-width="2.4" fill="none" stroke-linecap="round"/>
<text x="474.30" y="54.70" font-size="7.60" text-anchor="middle" fill="#222">Cellular</text>
<text x="474.30" y="64.70" font-size="7.60" text-anchor="middle" fill="#222">uptake</text>
<text x="531.90" y="60.30" font-size="7.70" font-weight="bold" text-anchor="middle" fill="#222">Local</text>
<text x="531.90" y="69.30" font-size="7.70" font-weight="bold" text-anchor="middle" fill="#222">degradation</text>
<text x="594.80" y="60.00" font-size="7.70" font-weight="bold" text-anchor="middle" fill="#222">Peripheral</text>
<text x="594.80" y="68.80" font-size="7.70" font-weight="bold" text-anchor="middle" fill="#222">degradation</text>
<text x="503.80" y="126.90" font-size="7.90" font-weight="bold" text-anchor="middle" fill="#222">Glymphatic</text>
<text x="503.80" y="136.50" font-size="7.90" font-weight="bold" text-anchor="middle" fill="#222">exchange</text>
<text x="556.40" y="118.00" font-size="7.90" font-weight="bold" text-anchor="middle" fill="#222">CSF</text>
<text x="556.40" y="127.00" font-size="7.90" font-weight="bold" text-anchor="middle" fill="#222">clearance</text>
<text x="529.50" y="287.50" font-size="7.90" font-weight="bold" text-anchor="middle" fill="#222">BBB</text>
<text x="529.50" y="296.80" font-size="7.90" font-weight="bold" text-anchor="middle" fill="#222">clearance</text>
<text x="594.30" y="282.70" font-size="7.90" font-weight="bold" text-anchor="middle" fill="#222">Plasma</text>
<text x="594.30" y="291.70" font-size="7.90" font-weight="bold" text-anchor="middle" fill="#222">biomarker</text>
<text x="594.30" y="300.60" font-size="7.90" font-weight="bold" text-anchor="middle" fill="#222">levels</text>
<text x="423.40" y="185.10" font-size="7.60" text-anchor="middle" fill="#222">Cellular</text>
<text x="423.40" y="194.70" font-size="7.60" text-anchor="middle" fill="#222">production</text>
<text x="474.80" y="185.10" font-size="7.60" text-anchor="middle" fill="#222">ISF</text>
<text x="474.80" y="194.70" font-size="7.60" text-anchor="middle" fill="#222">free</text>
<text x="527.90" y="185.10" font-size="7.60" text-anchor="middle" fill="#222">CSF</text>
<text x="581.50" y="185.10" font-size="7.60" text-anchor="middle" fill="#3a1a14">Plasma</text>
<text x="474.80" y="240.30" font-size="7.60" text-anchor="middle" fill="#222">Non-</text>
<text x="474.80" y="250.00" font-size="7.60" text-anchor="middle" fill="#222">monomeric</text>
<text x="474.80" y="259.50" font-size="7.60" text-anchor="middle" fill="#222">aggregates</text>
<circle cx="474.40" cy="73.30" r="4.70" fill="#fff" stroke="#222" stroke-width="0.8"/><text x="474.40" y="75.90" font-size="7.2" font-weight="bold" text-anchor="middle" fill="#111">5</text>
<circle cx="423.10" cy="203.70" r="4.90" fill="#fff" stroke="#222" stroke-width="0.8"/><text x="423.10" y="206.30" font-size="7.2" font-weight="bold" text-anchor="middle" fill="#111">1</text>
<circle cx="473.90" cy="203.70" r="4.90" fill="#fff" stroke="#222" stroke-width="0.8"/><text x="473.90" y="206.30" font-size="7.2" font-weight="bold" text-anchor="middle" fill="#111">2</text>
<circle cx="527.80" cy="203.20" r="4.90" fill="#fff" stroke="#222" stroke-width="0.8"/><text x="527.80" y="205.80" font-size="7.2" font-weight="bold" text-anchor="middle" fill="#111">3</text>
<circle cx="581.50" cy="203.20" r="4.90" fill="#f0e6e0" stroke="#5a2a20" stroke-width="0.8"/><text x="581.50" y="205.80" font-size="7.2" font-weight="bold" text-anchor="middle" fill="#111">4</text>
<circle cx="474.20" cy="268.00" r="4.90" fill="#fff" stroke="#222" stroke-width="0.8"/><text x="474.20" y="270.60" font-size="7.2" font-weight="bold" text-anchor="middle" fill="#111">6</text>
<circle cx="461.00" cy="57.50" r="1.45" fill="#7a4a10"/><circle cx="460.80" cy="57.30" r="0.65" fill="#b08020"/>
<circle cx="460.80" cy="69.50" r="1.45" fill="#7a4a10"/><circle cx="460.60" cy="69.30" r="0.65" fill="#b08020"/>
<circle cx="416.40" cy="176.80" r="1.55" fill="#7a4a10"/><circle cx="416.20" cy="176.60" r="0.70" fill="#b08020"/>
<circle cx="413.60" cy="199.80" r="1.55" fill="#7a4a10"/><circle cx="413.40" cy="199.60" r="0.70" fill="#b08020"/>
<circle cx="432.90" cy="199.60" r="1.55" fill="#7a4a10"/><circle cx="432.70" cy="199.40" r="0.70" fill="#b08020"/>
<circle cx="436.50" cy="178.30" r="1.55" fill="#c0304a"/>
<circle cx="409.70" cy="207.30" r="1.55" fill="#c0304a"/>
<circle cx="431.80" cy="207.40" r="1.55" fill="#c0304a"/>
<circle cx="462.30" cy="186.90" r="1.60" fill="#7a4a10"/><circle cx="462.10" cy="186.70" r="0.72" fill="#b08020"/>
<circle cx="462.30" cy="200.80" r="1.60" fill="#7a4a10"/><circle cx="462.10" cy="200.60" r="0.72" fill="#b08020"/>
<circle cx="487.00" cy="194.40" r="1.60" fill="#7a4a10"/><circle cx="486.80" cy="194.20" r="0.72" fill="#b08020"/>
<circle cx="516.20" cy="190.60" r="1.60" fill="#7a4a10"/><circle cx="516.00" cy="190.40" r="0.72" fill="#b08020"/>
<circle cx="539.20" cy="187.20" r="1.60" fill="#7a4a10"/><circle cx="539.00" cy="187.00" r="0.72" fill="#b08020"/>
<circle cx="536.50" cy="197.20" r="1.60" fill="#7a4a10"/><circle cx="536.30" cy="197.00" r="0.72" fill="#b08020"/>
<circle cx="571.00" cy="193.30" r="1.55" fill="#6b4a14"/><circle cx="570.80" cy="193.10" r="0.70" fill="#a08030"/>
<circle cx="582.50" cy="190.80" r="1.55" fill="#6b4a14"/><circle cx="582.30" cy="190.60" r="0.70" fill="#a08030"/>
<circle cx="592.50" cy="199.00" r="1.55" fill="#6b4a14"/><circle cx="592.30" cy="198.80" r="0.70" fill="#a08030"/>
<circle cx="457.90" cy="235.30" r="1.55" fill="#7a4a10"/><circle cx="457.70" cy="235.10" r="0.70" fill="#b08020"/>
<circle cx="490.50" cy="233.50" r="1.55" fill="#7a4a10"/><circle cx="490.30" cy="233.30" r="0.70" fill="#b08020"/>
<circle cx="456.70" cy="263.70" r="1.55" fill="#7a4a10"/><circle cx="456.50" cy="263.50" r="0.70" fill="#b08020"/>
<circle cx="487.50" cy="268.00" r="1.3" fill="#b8284a" stroke="#8a1838" stroke-width="0.3"/>
<circle cx="490.00" cy="268.62" r="1.3" fill="#b8284a" stroke="#8a1838" stroke-width="0.3"/>
<circle cx="485.00" cy="269.00" r="1.3" fill="#b8284a" stroke="#8a1838" stroke-width="0.3"/>
<circle cx="488.75" cy="265.50" r="1.3" fill="#b8284a" stroke="#8a1838" stroke-width="0.3"/>
<circle cx="486.25" cy="265.75" r="1.3" fill="#b8284a" stroke="#8a1838" stroke-width="0.3"/>
<circle cx="491.25" cy="266.12" r="1.3" fill="#b8284a" stroke="#8a1838" stroke-width="0.3"/>
<circle cx="488.12" cy="270.75" r="1.3" fill="#b8284a" stroke="#8a1838" stroke-width="0.3"/>
<circle cx="484.75" cy="267.00" r="1.3" fill="#b8284a" stroke="#8a1838" stroke-width="0.3"/>
<circle cx="490.62" cy="270.50" r="1.3" fill="#b8284a" stroke="#8a1838" stroke-width="0.3"/>
<circle cx="486.25" cy="270.88" r="1.3" fill="#b8284a" stroke="#8a1838" stroke-width="0.3"/>
<circle cx="491.88" cy="268.62" r="1.3" fill="#b8284a" stroke="#8a1838" stroke-width="0.3"/>
<text x="33.4" y="14.0" font-size="16" font-weight="bold" fill="#111">A</text>
<text x="110.6" y="10.7" font-size="13.8" font-weight="bold" fill="#111" textLength="155.2" lengthAdjust="spacingAndGlyphs">The Glymphatic System</text>
<text x="432.2" y="10.9" font-size="13.8" font-weight="bold" fill="#111" textLength="144.6" lengthAdjust="spacingAndGlyphs">Compartmental Model</text>
<rect x="128.22" y="378.60" width="45.41" height="71.80" fill="#e7e8e8"/>
<rect x="264.44" y="378.60" width="56.56" height="71.80" fill="#e7e8e8"/>
<path d="M37.40,378.60V450.40M82.81,378.60V450.40M128.22,378.60V450.40M173.62,378.60V450.40M219.03,378.60V450.40M264.44,378.60V450.40M309.85,378.60V450.40M26.30,379.40H321.00M26.30,392.80H321.00M26.30,406.10H321.00M26.30,419.30H321.00M26.30,432.70H321.00M26.30,446.10H321.00" stroke="#b4b4b4" stroke-width="0.7" stroke-dasharray="0.7,1.3" fill="none"/>
<clipPath id="c26_378"><rect x="26.30" y="378.60" width="294.70" height="71.80"/></clipPath>
<g clip-path="url(#c26_378)">
<path d="M37.4,444.4L38.8,445.4L40.3,446.3L41.7,447.0L43.2,447.6L44.6,448.0L46.0,448.2L47.5,448.2L48.9,448.1L50.4,447.8L51.8,447.6L53.3,447.2L54.7,446.9L56.1,446.4L57.6,446.0L59.0,445.4L60.5,444.7L61.9,444.0L63.3,443.2L64.8,442.4L66.2,441.5L67.7,440.7L69.1,439.8L70.6,438.9L72.0,438.0L73.4,437.1L74.9,436.1L76.3,435.1L77.8,433.9L79.2,432.8L80.6,431.6L82.1,430.5L83.5,429.4L85.0,428.3L86.4,427.4L87.9,426.5L89.3,425.6L90.7,424.7L92.2,423.9L93.6,423.1L95.1,422.3L96.5,421.5L97.9,420.7L99.4,420.0L100.8,419.2L102.3,418.5L103.7,417.8L105.2,417.2L106.6,416.5L108.0,415.9L109.5,415.3L110.9,414.7L112.4,414.2L113.8,413.6L115.2,413.1L116.7,412.7L118.1,412.2L119.6,411.7L121.0,411.3L122.4,410.9L123.9,410.5L125.3,410.2L126.8,409.8L128.2,409.6L129.7,409.3L131.1,409.2L132.5,409.1L134.0,409.2L135.4,409.5L136.9,409.9L138.3,410.6L139.7,411.6L141.2,412.8L142.6,414.1L144.1,415.5L145.5,416.9L147.0,418.3L148.4,419.8L149.8,421.2L151.3,422.7L152.7,424.1L154.2,425.5L155.6,427.0L157.0,428.4L158.5,429.8L159.9,431.2L161.4,432.7L162.8,434.1L164.3,435.5L165.7,437.0L167.1,438.4L168.6,439.9L170.0,441.3L171.5,442.6L172.9,443.8L174.3,444.9L175.8,445.9L177.2,446.7L178.7,447.3L180.1,447.8L181.6,448.1L183.0,448.2L184.4,448.2L185.9,448.0L187.3,447.7L188.8,447.4L190.2,447.0L191.6,446.7L193.1,446.2L194.5,445.7L196.0,445.1L197.4,444.4L198.9,443.6L200.3,442.8L201.7,442.0L203.2,441.1L204.6,440.2L206.1,439.3L207.5,438.4L208.9,437.5L210.4,436.6L211.8,435.6L213.3,434.5L214.7,433.4L216.1,432.2L217.6,431.0L219.0,429.9L220.5,428.8L221.9,427.9L223.4,426.9L224.8,426.0L226.2,425.2L227.7,424.3L229.1,423.5L230.6,422.7L232.0,421.9L233.4,421.1L234.9,420.3L236.3,419.6L237.8,418.9L239.2,418.2L240.7,417.5L242.1,416.9L243.5,416.2L245.0,415.6L246.4,415.0L247.9,414.4L249.3,413.9L250.7,413.4L252.2,412.9L253.6,412.4L255.1,412.0L256.5,411.5L258.0,411.1L259.4,410.7L260.8,410.3L262.3,410.0L263.7,409.7L265.2,409.4L266.6,409.3L268.0,409.2L269.5,409.2L270.9,409.3L272.4,409.7L273.8,410.3L275.3,411.1L276.7,412.2L278.1,413.4L279.6,414.8L281.0,416.2L282.5,417.6L283.9,419.0L285.3,420.5L286.8,421.9L288.2,423.4L289.7,424.8L291.1,426.2L292.5,427.7L294.0,429.1L295.4,430.5L296.9,431.9L298.3,433.4L299.8,434.8L301.2,436.3L302.6,437.7L304.1,439.1L305.5,440.6L307.0,441.9L308.4,443.2L309.8,444.4" fill="none" stroke="#e3262b" stroke-width="1.35" stroke-linejoin="round"/>
<path d="M37.4,385.6L38.9,388.5L40.3,391.1L41.8,393.4L43.2,395.5L44.7,397.6L46.1,399.7L47.6,401.9L49.0,404.1L50.5,406.2L51.9,408.1L53.4,409.8L54.8,411.4L56.3,412.8L57.7,414.1L59.2,415.3L60.6,416.3L62.1,417.2L63.5,417.9L65.0,418.6L66.4,419.1L67.9,419.5L69.3,419.9L70.8,420.2L72.2,420.4L73.7,420.6L75.1,420.7L76.6,420.8L78.0,420.8L79.5,420.8L80.9,420.8L82.4,420.6L83.8,420.5L85.3,420.3L86.7,420.0L88.2,419.8L89.6,419.5L91.1,419.2L92.5,418.9L94.0,418.6L95.4,418.3L96.9,417.9L98.3,417.6L99.8,417.2L101.2,416.7L102.7,416.3L104.1,415.8L105.6,415.3L107.0,414.8L108.5,414.3L109.9,413.9L111.4,413.5L112.8,413.1L114.3,412.7L115.7,412.4L117.2,412.1L118.6,411.7L120.1,411.4L121.5,411.1L123.0,410.8L124.4,410.4L125.9,410.0L127.3,409.6L128.8,409.2M128.8,409.2L130.3,407.8L131.8,405.7L133.3,403.3L134.8,400.7L136.3,398.0L137.8,395.5L139.2,393.3L140.7,391.4L142.2,389.8L143.7,388.3L145.2,387.0L146.7,385.8L148.2,384.7L149.7,383.7L151.2,382.8L152.7,382.0L154.2,381.4L155.7,380.9L157.2,380.6L158.7,380.4L160.2,380.5L161.7,380.6L163.2,380.9L164.7,381.3L166.2,381.9L167.6,382.5L169.1,383.2L170.6,383.9L172.1,384.8L173.6,385.6M173.6,385.6L175.1,388.5L176.5,391.1L178.0,393.4L179.4,395.5L180.9,397.6L182.3,399.7L183.8,401.9L185.2,404.1L186.7,406.2L188.1,408.1L189.6,409.8L191.0,411.4L192.5,412.8L193.9,414.1L195.4,415.3L196.8,416.3L198.3,417.2L199.7,417.9L201.2,418.6L202.6,419.1L204.1,419.5L205.5,419.9L207.0,420.2L208.4,420.4L209.9,420.6L211.3,420.7L212.8,420.8L214.2,420.8L215.7,420.8L217.1,420.8L218.6,420.6L220.0,420.5L221.5,420.3L222.9,420.0L224.4,419.8L225.8,419.5L227.3,419.2L228.7,418.9L230.2,418.6L231.6,418.3L233.1,417.9L234.5,417.6L236.0,417.2L237.4,416.7L238.9,416.3L240.3,415.8L241.8,415.3L243.2,414.8L244.7,414.3L246.2,413.9L247.6,413.5L249.1,413.1L250.5,412.7L252.0,412.4L253.4,412.1L254.9,411.7L256.3,411.4L257.8,411.1L259.2,410.8L260.7,410.4L262.1,410.0L263.6,409.6L265.0,409.2M265.0,409.2L266.5,407.8L268.0,405.7L269.5,403.3L271.0,400.7L272.5,398.0L274.0,395.5L275.5,393.3L277.0,391.4L278.5,389.8L280.0,388.3L281.4,387.0L282.9,385.8L284.4,384.7L285.9,383.7L287.4,382.8L288.9,382.0L290.4,381.4L291.9,380.9L293.4,380.6L294.9,380.4L296.4,380.5L297.9,380.6L299.4,380.9L300.9,381.3L302.4,381.9L303.9,382.5L305.4,383.2L306.9,383.9L308.4,384.8L309.8,385.6" fill="none" stroke="#e3262b" stroke-width="1.35" stroke-dasharray="4.8,3"/>
<path d="M37.4,422.3L38.8,422.6L40.3,422.8L41.7,423.0L43.2,423.2L44.6,423.3L46.1,423.4L47.5,423.5L49.0,423.5L50.4,423.5L51.9,423.3L53.3,423.2L54.7,422.9L56.2,422.6L57.6,422.3L59.1,421.9L60.5,421.5L62.0,421.0L63.4,420.6L64.9,420.2L66.3,419.8L67.8,419.4L69.2,419.1L70.6,418.8L72.1,418.6L73.5,418.4L75.0,418.3L76.4,418.2L77.9,418.1L79.3,417.9L80.8,417.7L82.2,417.5L83.7,417.2L85.1,416.9L86.6,416.5L88.0,416.2L89.4,415.8L90.9,415.5L92.3,415.1L93.8,414.8L95.2,414.6L96.7,414.4L98.1,414.1L99.6,413.9L101.0,413.7L102.5,413.5L103.9,413.3L105.3,413.0L106.8,412.7L108.2,412.4L109.7,412.1L111.1,411.8L112.6,411.5L114.0,411.2L115.5,410.9L116.9,410.7L118.4,410.5L119.8,410.3L121.2,410.1L122.7,409.9L124.1,409.7L125.6,409.6L127.0,409.5L128.5,409.3L129.9,409.2M129.9,409.2L131.4,409.1L132.9,409.2L134.4,409.3L135.9,409.5L137.5,409.8L139.0,410.2L140.5,410.5L142.0,411.0L143.5,411.4L145.0,411.9L146.5,412.4L148.0,412.9L149.5,413.4L151.0,413.9L152.5,414.3L154.0,414.8L155.5,415.3L157.0,415.8L158.6,416.2L160.1,416.7L161.6,417.2L163.1,417.7L164.6,418.3L166.1,418.9L167.6,419.5L169.1,420.1L170.6,420.8L172.1,421.5L173.6,422.3M173.6,422.3L175.1,422.6L176.5,422.8L178.0,423.0L179.4,423.2L180.9,423.3L182.3,423.4L183.7,423.5L185.2,423.5L186.6,423.5L188.1,423.3L189.5,423.2L191.0,422.9L192.4,422.6L193.9,422.3L195.3,421.9L196.8,421.5L198.2,421.0L199.6,420.6L201.1,420.2L202.5,419.8L204.0,419.4L205.4,419.1L206.9,418.8L208.3,418.6L209.8,418.4L211.2,418.3L212.7,418.2L214.1,418.1L215.5,417.9L217.0,417.7L218.4,417.5L219.9,417.2L221.3,416.9L222.8,416.5L224.2,416.2L225.7,415.8L227.1,415.5L228.6,415.1L230.0,414.8L231.4,414.6L232.9,414.4L234.3,414.1L235.8,413.9L237.2,413.7L238.7,413.5L240.1,413.3L241.6,413.0L243.0,412.7L244.5,412.4L245.9,412.1L247.3,411.8L248.8,411.5L250.2,411.2L251.7,410.9L253.1,410.7L254.6,410.5L256.0,410.3L257.5,410.1L258.9,409.9L260.4,409.7L261.8,409.6L263.3,409.5L264.7,409.3L266.1,409.2M266.1,409.2L267.6,409.1L269.2,409.2L270.7,409.3L272.2,409.5L273.7,409.8L275.2,410.2L276.7,410.5L278.2,411.0L279.7,411.4L281.2,411.9L282.7,412.4L284.2,412.9L285.7,413.4L287.2,413.9L288.7,414.3L290.3,414.8L291.8,415.3L293.3,415.8L294.8,416.2L296.3,416.7L297.8,417.2L299.3,417.7L300.8,418.3L302.3,418.9L303.8,419.5L305.3,420.1L306.8,420.8L308.3,421.5L309.8,422.3" fill="none" stroke="#e3262b" stroke-width="1.35" stroke-dasharray="0.1,4.4" stroke-linecap="round"/>
</g>
<path d="M33.60,385.90H44.90" stroke="#e3262b" stroke-width="1.9"/>
<text x="50.30" y="387.80" font-size="5.5" fill="#000">Plasma</text>
<rect x="26.30" y="378.60" width="294.70" height="71.80" fill="none" stroke="#333" stroke-width="1.1"/>
<path d="M37.40,450.40v2.8M82.81,450.40v2.8M128.22,450.40v2.8M173.62,450.40v2.8M219.03,450.40v2.8M264.44,450.40v2.8M309.85,450.40v2.8M26.30,379.40h-2.8M26.30,392.80h-2.8M26.30,406.10h-2.8M26.30,419.30h-2.8M26.30,432.70h-2.8M26.30,446.10h-2.8" stroke="#333" stroke-width="0.8" fill="none"/>
<text x="37.40" y="461.00" font-size="5.4" text-anchor="middle" fill="#000">0</text>
<text x="82.81" y="461.00" font-size="5.4" text-anchor="middle" fill="#000">8</text>
<text x="128.22" y="461.00" font-size="5.4" text-anchor="middle" fill="#000">16</text>
<text x="173.62" y="461.00" font-size="5.4" text-anchor="middle" fill="#000">24</text>
<text x="219.03" y="461.00" font-size="5.4" text-anchor="middle" fill="#000">32</text>
<text x="264.44" y="461.00" font-size="5.4" text-anchor="middle" fill="#000">40</text>
<text x="309.85" y="461.00" font-size="5.4" text-anchor="middle" fill="#000">48</text>
<text transform="translate(19.20,379.40) rotate(-90)" font-size="5.4" text-anchor="middle" fill="#000">6.6</text>
<text transform="translate(19.20,392.80) rotate(-90)" font-size="5.4" text-anchor="middle" fill="#000">6.4</text>
<text transform="translate(19.20,406.10) rotate(-90)" font-size="5.4" text-anchor="middle" fill="#000">6.2</text>
<text transform="translate(19.20,419.30) rotate(-90)" font-size="5.4" text-anchor="middle" fill="#000">6.0</text>
<text transform="translate(19.20,432.70) rotate(-90)" font-size="5.4" text-anchor="middle" fill="#000">5.8</text>
<text transform="translate(19.20,446.10) rotate(-90)" font-size="5.4" text-anchor="middle" fill="#000">5.6</text>
<text transform="translate(7.30,414.50) rotate(-90)" font-size="5.6" text-anchor="middle" fill="#000">Plasma [a.u.]</text>
<rect x="128.22" y="481.20" width="45.41" height="72.70" fill="#e7e8e8"/>
<rect x="264.44" y="481.20" width="56.56" height="72.70" fill="#e7e8e8"/>
<path d="M37.40,481.20V553.90M82.81,481.20V553.90M128.22,481.20V553.90M173.62,481.20V553.90M219.03,481.20V553.90M264.44,481.20V553.90M309.85,481.20V553.90M26.30,493.40H321.00M26.30,511.90H321.00M26.30,530.40H321.00M26.30,548.80H321.00" stroke="#b4b4b4" stroke-width="0.7" stroke-dasharray="0.7,1.3" fill="none"/>
<clipPath id="c26_481"><rect x="26.30" y="481.20" width="294.70" height="72.70"/></clipPath>
<g clip-path="url(#c26_481)">
<path d="M37.4,547.4L38.8,548.2L40.3,549.0L41.7,549.6L43.2,550.2L44.6,550.6L46.0,551.0L47.5,551.2L48.9,551.3L50.4,551.3L51.8,551.1L53.3,550.9L54.7,550.6L56.1,550.3L57.6,549.9L59.0,549.5L60.5,549.0L61.9,548.6L63.3,548.1L64.8,547.5L66.2,547.0L67.7,546.4L69.1,545.9L70.6,545.3L72.0,544.7L73.4,544.1L74.9,543.4L76.3,542.8L77.8,542.2L79.2,541.6L80.6,540.9L82.1,540.3L83.5,539.7L85.0,539.1L86.4,538.5L87.9,537.9L89.3,537.3L90.7,536.7L92.2,536.2L93.6,535.7L95.1,535.2L96.5,534.7L97.9,534.2L99.4,533.7L100.8,533.3L102.3,532.8L103.7,532.4L105.2,531.9L106.6,531.5L108.0,531.0L109.5,530.6L110.9,530.1L112.4,529.6L113.8,529.2L115.2,528.7L116.7,528.2L118.1,527.7L119.6,527.2L121.0,526.7L122.4,526.2L123.9,525.8L125.3,525.5L126.8,525.2L128.2,525.0L129.7,524.8L131.1,524.8L132.5,524.9L134.0,525.0L135.4,525.3L136.9,525.6L138.3,526.1L139.7,526.6L141.2,527.1L142.6,527.7L144.1,528.4L145.5,529.1L147.0,529.9L148.4,530.6L149.8,531.5L151.3,532.3L152.7,533.2L154.2,534.1L155.6,535.0L157.0,535.9L158.5,536.9L159.9,537.9L161.4,538.9L162.8,539.9L164.3,540.9L165.7,542.0L167.1,543.0L168.6,544.1L170.0,545.1L171.5,546.0L172.9,547.0L174.3,547.8L175.8,548.6L177.2,549.3L178.7,549.9L180.1,550.4L181.6,550.8L183.0,551.1L184.4,551.2L185.9,551.3L187.3,551.2L188.8,551.0L190.2,550.8L191.6,550.5L193.1,550.1L194.5,549.7L196.0,549.3L197.4,548.8L198.9,548.3L200.3,547.8L201.7,547.3L203.2,546.7L204.6,546.2L206.1,545.6L207.5,545.0L208.9,544.4L210.4,543.7L211.8,543.1L213.3,542.5L214.7,541.9L216.1,541.2L217.6,540.6L219.0,540.0L220.5,539.4L221.9,538.8L223.4,538.2L224.8,537.6L226.2,537.0L227.7,536.5L229.1,535.9L230.6,535.4L232.0,534.9L233.4,534.4L234.9,534.0L236.3,533.5L237.8,533.0L239.2,532.6L240.7,532.1L242.1,531.7L243.5,531.2L245.0,530.8L246.4,530.3L247.9,529.9L249.3,529.4L250.7,528.9L252.2,528.4L253.6,527.9L255.1,527.4L256.5,526.9L258.0,526.5L259.4,526.0L260.8,525.6L262.3,525.3L263.7,525.1L265.2,524.9L266.6,524.8L268.0,524.8L269.5,524.9L270.9,525.2L272.4,525.5L273.8,525.9L275.3,526.3L276.7,526.8L278.1,527.4L279.6,528.1L281.0,528.7L282.5,529.5L283.9,530.3L285.3,531.1L286.8,531.9L288.2,532.7L289.7,533.6L291.1,534.5L292.5,535.4L294.0,536.4L295.4,537.4L296.9,538.4L298.3,539.4L299.8,540.4L301.2,541.5L302.6,542.5L304.1,543.6L305.5,544.6L307.0,545.6L308.4,546.5L309.8,547.4" fill="none" stroke="#3b4fa6" stroke-width="1.35" stroke-linejoin="round"/>
<path d="M37.4,489.3L38.8,493.2L40.3,496.8L41.7,500.0L43.2,503.0L44.6,505.7L46.0,508.1L47.5,510.4L48.9,512.6L50.4,514.7L51.8,516.7L53.3,518.7L54.7,520.5L56.1,522.3L57.6,523.9L59.0,525.4L60.5,526.6L61.9,527.8L63.3,528.8L64.8,529.6L66.2,530.3L67.7,530.9L69.1,531.4L70.6,531.8L72.0,532.1L73.4,532.3L74.9,532.4L76.3,532.4L77.8,532.4L79.2,532.4L80.6,532.3L82.1,532.2L83.5,532.0L85.0,531.9L86.4,531.8L87.9,531.6L89.3,531.5L90.7,531.3L92.2,531.2L93.6,531.0L95.1,530.9L96.5,530.7L97.9,530.6L99.4,530.4L100.8,530.2L102.3,530.0L103.7,529.8L105.2,529.6L106.6,529.4L108.0,529.2L109.5,529.0L110.9,528.7L112.4,528.5L113.8,528.2L115.2,527.9L116.7,527.7L118.1,527.4L119.6,527.1L121.0,526.8L122.4,526.4L123.9,526.1L125.3,525.7L126.8,525.4L128.2,525.0M128.2,525.0L129.7,520.9L131.1,516.8L132.6,512.8L134.1,509.0L135.5,505.4L137.0,502.1L138.5,499.0L139.9,496.2L141.4,493.8L142.9,491.8L144.3,490.1L145.8,488.7L147.3,487.5L148.7,486.6L150.2,485.9L151.7,485.4L153.1,485.0L154.6,484.6L156.0,484.4L157.5,484.2L159.0,484.1L160.4,484.1L161.9,484.3L163.4,484.5L164.8,484.8L166.3,485.2L167.8,485.8L169.2,486.5L170.7,487.3L172.2,488.2L173.6,489.3M173.6,489.3L175.1,493.2L176.5,496.8L177.9,500.0L179.4,503.0L180.8,505.7L182.3,508.1L183.7,510.4L185.2,512.6L186.6,514.7L188.0,516.7L189.5,518.7L190.9,520.5L192.4,522.3L193.8,523.9L195.2,525.4L196.7,526.6L198.1,527.8L199.6,528.8L201.0,529.6L202.5,530.3L203.9,530.9L205.3,531.4L206.8,531.8L208.2,532.1L209.7,532.3L211.1,532.4L212.5,532.4L214.0,532.4L215.4,532.4L216.9,532.3L218.3,532.2L219.8,532.0L221.2,531.9L222.6,531.8L224.1,531.6L225.5,531.5L227.0,531.3L228.4,531.2L229.8,531.0L231.3,530.9L232.7,530.7L234.2,530.6L235.6,530.4L237.1,530.2L238.5,530.0L239.9,529.8L241.4,529.6L242.8,529.4L244.3,529.2L245.7,529.0L247.1,528.7L248.6,528.5L250.0,528.2L251.5,527.9L252.9,527.7L254.3,527.4L255.8,527.1L257.2,526.8L258.7,526.4L260.1,526.1L261.6,525.7L263.0,525.4L264.4,525.0M264.4,525.0L265.9,520.9L267.4,516.8L268.8,512.8L270.3,509.0L271.8,505.4L273.2,502.1L274.7,499.0L276.2,496.2L277.6,493.8L279.1,491.8L280.6,490.1L282.0,488.7L283.5,487.5L284.9,486.6L286.4,485.9L287.9,485.4L289.3,485.0L290.8,484.6L292.3,484.4L293.7,484.2L295.2,484.1L296.7,484.1L298.1,484.3L299.6,484.5L301.1,484.8L302.5,485.2L304.0,485.8L305.5,486.5L306.9,487.3L308.4,488.2L309.8,489.3" fill="none" stroke="#3b4fa6" stroke-width="1.35" stroke-dasharray="4.8,3"/>
<path d="M37.4,533.2L38.8,533.5L40.3,533.7L41.7,533.9L43.2,534.1L44.6,534.2L46.0,534.3L47.5,534.3L48.9,534.3L50.4,534.3L51.8,534.2L53.3,534.1L54.7,534.0L56.1,533.9L57.6,533.7L59.0,533.5L60.5,533.3L61.9,533.2L63.3,532.9L64.8,532.7L66.2,532.5L67.7,532.3L69.1,532.1L70.6,531.9L72.0,531.7L73.4,531.5L74.9,531.3L76.3,531.1L77.8,530.9L79.2,530.7L80.6,530.6L82.1,530.4L83.5,530.2L85.0,530.0L86.4,529.9L87.9,529.7L89.3,529.6L90.7,529.4L92.2,529.2L93.6,529.1L95.1,528.9L96.5,528.8L97.9,528.6L99.4,528.5L100.8,528.3L102.3,528.2L103.7,528.0L105.2,527.9L106.6,527.7L108.0,527.5L109.5,527.4L110.9,527.2L112.4,527.1L113.8,526.9L115.2,526.7L116.7,526.5L118.1,526.4L119.6,526.2L121.0,526.0L122.4,525.8L123.9,525.6L125.3,525.4L126.8,525.2L128.2,525.0M128.2,525.0L129.7,525.1L131.1,525.2L132.6,525.3L134.1,525.5L135.5,525.6L137.0,525.7L138.5,525.8L139.9,526.0L141.4,526.1L142.9,526.3L144.3,526.5L145.8,526.7L147.3,526.9L148.7,527.1L150.2,527.4L151.7,527.6L153.1,527.9L154.6,528.2L156.0,528.5L157.5,528.9L159.0,529.2L160.4,529.6L161.9,530.0L163.4,530.3L164.8,530.7L166.3,531.1L167.8,531.5L169.2,531.9L170.7,532.4L172.2,532.8L173.6,533.2M173.6,533.2L175.1,533.5L176.5,533.7L177.9,533.9L179.4,534.1L180.8,534.2L182.3,534.3L183.7,534.3L185.2,534.3L186.6,534.3L188.0,534.2L189.5,534.1L190.9,534.0L192.4,533.9L193.8,533.7L195.2,533.5L196.7,533.3L198.1,533.2L199.6,532.9L201.0,532.7L202.5,532.5L203.9,532.3L205.3,532.1L206.8,531.9L208.2,531.7L209.7,531.5L211.1,531.3L212.5,531.1L214.0,530.9L215.4,530.7L216.9,530.6L218.3,530.4L219.8,530.2L221.2,530.0L222.6,529.9L224.1,529.7L225.5,529.6L227.0,529.4L228.4,529.2L229.8,529.1L231.3,528.9L232.7,528.8L234.2,528.6L235.6,528.5L237.1,528.3L238.5,528.2L239.9,528.0L241.4,527.9L242.8,527.7L244.3,527.5L245.7,527.4L247.1,527.2L248.6,527.1L250.0,526.9L251.5,526.7L252.9,526.5L254.3,526.4L255.8,526.2L257.2,526.0L258.7,525.8L260.1,525.6L261.6,525.4L263.0,525.2L264.4,525.0M264.4,525.0L265.9,525.1L267.4,525.2L268.8,525.3L270.3,525.5L271.8,525.6L273.2,525.7L274.7,525.8L276.2,526.0L277.6,526.1L279.1,526.3L280.6,526.5L282.0,526.7L283.5,526.9L284.9,527.1L286.4,527.4L287.9,527.6L289.3,527.9L290.8,528.2L292.3,528.5L293.7,528.9L295.2,529.2L296.7,529.6L298.1,530.0L299.6,530.3L301.1,530.7L302.5,531.1L304.0,531.5L305.5,531.9L306.9,532.4L308.4,532.8L309.8,533.2" fill="none" stroke="#3b4fa6" stroke-width="1.35" stroke-dasharray="0.1,4.4" stroke-linecap="round"/>
</g>
<path d="M33.60,488.60H44.90" stroke="#3b4fa6" stroke-width="1.9"/>
<text x="50.30" y="490.50" font-size="5.5" fill="#000">CSF</text>
<rect x="26.30" y="481.20" width="294.70" height="72.70" fill="none" stroke="#333" stroke-width="1.1"/>
<path d="M37.40,553.90v2.8M82.81,553.90v2.8M128.22,553.90v2.8M173.62,553.90v2.8M219.03,553.90v2.8M264.44,553.90v2.8M309.85,553.90v2.8M26.30,493.40h-2.8M26.30,511.90h-2.8M26.30,530.40h-2.8M26.30,548.80h-2.8" stroke="#333" stroke-width="0.8" fill="none"/>
<text x="37.40" y="564.50" font-size="5.4" text-anchor="middle" fill="#000">0</text>
<text x="82.81" y="564.50" font-size="5.4" text-anchor="middle" fill="#000">8</text>
<text x="128.22" y="564.50" font-size="5.4" text-anchor="middle" fill="#000">16</text>
<text x="173.62" y="564.50" font-size="5.4" text-anchor="middle" fill="#000">24</text>
<text x="219.03" y="564.50" font-size="5.4" text-anchor="middle" fill="#000">32</text>
<text x="264.44" y="564.50" font-size="5.4" text-anchor="middle" fill="#000">40</text>
<text x="309.85" y="564.50" font-size="5.4" text-anchor="middle" fill="#000">48</text>
<text transform="translate(19.20,493.40) rotate(-90)" font-size="5.4" text-anchor="middle" fill="#000">34</text>
<text transform="translate(19.20,511.90) rotate(-90)" font-size="5.4" text-anchor="middle" fill="#000">32</text>
<text transform="translate(19.20,530.40) rotate(-90)" font-size="5.4" text-anchor="middle" fill="#000">30</text>
<text transform="translate(19.20,548.80) rotate(-90)" font-size="5.4" text-anchor="middle" fill="#000">28</text>
<text transform="translate(7.30,517.55) rotate(-90)" font-size="5.6" text-anchor="middle" fill="#000">CSF [a.u.]</text>
<rect x="128.22" y="584.60" width="45.41" height="72.70" fill="#e7e8e8"/>
<rect x="264.44" y="584.60" width="56.56" height="72.70" fill="#e7e8e8"/>
<path d="M37.40,584.60V657.30M82.81,584.60V657.30M128.22,584.60V657.30M173.62,584.60V657.30M219.03,584.60V657.30M264.44,584.60V657.30M309.85,584.60V657.30M26.30,587.10H321.00M26.30,600.80H321.00M26.30,614.50H321.00M26.30,628.30H321.00M26.30,642.00H321.00M26.30,655.70H321.00" stroke="#b4b4b4" stroke-width="0.7" stroke-dasharray="0.7,1.3" fill="none"/>
<clipPath id="c26_584"><rect x="26.30" y="584.60" width="294.70" height="72.70"/></clipPath>
<g clip-path="url(#c26_584)">
<path d="M37.4,586.8L38.8,587.1L40.3,587.3L41.7,587.6L43.2,587.9L44.6,588.1L46.0,588.4L47.5,588.7L48.9,588.9L50.4,589.2L51.8,589.5L53.3,589.7L54.7,590.0L56.1,590.3L57.6,590.5L59.0,590.8L60.5,591.1L61.9,591.3L63.3,591.6L64.8,591.8L66.2,592.1L67.7,592.3L69.1,592.6L70.6,592.8L72.0,593.0L73.4,593.3L74.9,593.5L76.3,593.7L77.8,593.9L79.2,594.1L80.6,594.3L82.1,594.5L83.5,594.7L85.0,594.9L86.4,595.0L87.9,595.2L89.3,595.4L90.7,595.5L92.2,595.7L93.6,595.8L95.1,595.9L96.5,596.1L97.9,596.2L99.4,596.3L100.8,596.4L102.3,596.5L103.7,596.7L105.2,596.8L106.6,596.9L108.0,597.0L109.5,597.1L110.9,597.2L112.4,597.3L113.8,597.4L115.2,597.5L116.7,597.6L118.1,597.7L119.6,597.8L121.0,597.9L122.4,598.0L123.9,598.2L125.3,598.3L126.8,598.4L128.2,598.5M128.2,598.5L129.7,598.1L131.1,597.7L132.6,597.4L134.1,597.0L135.5,596.6L137.0,596.2L138.5,595.9L139.9,595.5L141.4,595.1L142.9,594.7L144.3,594.3L145.8,594.0L147.3,593.6L148.7,593.2L150.2,592.8L151.7,592.5L153.1,592.1L154.6,591.7L156.0,591.3L157.5,591.0L159.0,590.6L160.4,590.2L161.9,589.8L163.4,589.4L164.8,589.1L166.3,588.7L167.8,588.3L169.2,587.9L170.7,587.6L172.2,587.2L173.6,586.8M173.6,586.8L175.1,587.1L176.5,587.3L177.9,587.6L179.4,587.9L180.8,588.1L182.3,588.4L183.7,588.7L185.2,588.9L186.6,589.2L188.0,589.5L189.5,589.7L190.9,590.0L192.4,590.3L193.8,590.5L195.2,590.8L196.7,591.1L198.1,591.3L199.6,591.6L201.0,591.8L202.5,592.1L203.9,592.3L205.3,592.6L206.8,592.8L208.2,593.0L209.7,593.3L211.1,593.5L212.5,593.7L214.0,593.9L215.4,594.1L216.9,594.3L218.3,594.5L219.8,594.7L221.2,594.9L222.6,595.0L224.1,595.2L225.5,595.4L227.0,595.5L228.4,595.7L229.8,595.8L231.3,595.9L232.7,596.1L234.2,596.2L235.6,596.3L237.1,596.4L238.5,596.5L239.9,596.7L241.4,596.8L242.8,596.9L244.3,597.0L245.7,597.1L247.1,597.2L248.6,597.3L250.0,597.4L251.5,597.5L252.9,597.6L254.3,597.7L255.8,597.8L257.2,597.9L258.7,598.0L260.1,598.2L261.6,598.3L263.0,598.4L264.4,598.5M264.4,598.5L265.9,598.1L267.4,597.7L268.8,597.4L270.3,597.0L271.8,596.6L273.2,596.2L274.7,595.9L276.2,595.5L277.6,595.1L279.1,594.7L280.6,594.3L282.0,594.0L283.5,593.6L284.9,593.2L286.4,592.8L287.9,592.5L289.3,592.1L290.8,591.7L292.3,591.3L293.7,591.0L295.2,590.6L296.7,590.2L298.1,589.8L299.6,589.4L301.1,589.1L302.5,588.7L304.0,588.3L305.5,587.9L306.9,587.6L308.4,587.2L309.8,586.8" fill="none" stroke="#c14fc1" stroke-width="1.35" stroke-linejoin="round"/>
<path d="M37.4,595.5L38.8,595.6L40.3,595.7L41.7,595.7L43.2,595.8L44.6,595.9L46.0,596.0L47.5,596.1L48.9,596.1L50.4,596.2L51.8,596.3L53.3,596.4L54.7,596.4L56.1,596.5L57.6,596.6L59.0,596.7L60.5,596.8L61.9,596.8L63.3,596.9L64.8,597.0L66.2,597.0L67.7,597.1L69.1,597.2L70.6,597.3L72.0,597.3L73.4,597.4L74.9,597.5L76.3,597.5L77.8,597.6L79.2,597.6L80.6,597.7L82.1,597.8L83.5,597.8L85.0,597.9L86.4,597.9L87.9,598.0L89.3,598.1L90.7,598.1L92.2,598.2L93.6,598.2L95.1,598.3L96.5,598.3L97.9,598.4L99.4,598.4L100.8,598.4L102.3,598.5L103.7,598.5L105.2,598.6L106.6,598.6L108.0,598.7L109.5,598.7L110.9,598.7L112.4,598.8L113.8,598.8L115.2,598.9L116.7,598.9L118.1,598.9L119.6,599.0L121.0,599.0L122.4,599.1L123.9,599.1L125.3,599.1L126.8,599.2L128.2,599.2M128.2,599.2L129.7,599.1L131.1,599.0L132.6,598.8L134.1,598.7L135.5,598.6L137.0,598.5L138.5,598.4L139.9,598.2L141.4,598.1L142.9,598.0L144.3,597.9L145.8,597.8L147.3,597.6L148.7,597.5L150.2,597.4L151.7,597.3L153.1,597.2L154.6,597.1L156.0,596.9L157.5,596.8L159.0,596.7L160.4,596.6L161.9,596.5L163.4,596.3L164.8,596.2L166.3,596.1L167.8,596.0L169.2,595.9L170.7,595.7L172.2,595.6L173.6,595.5M173.6,595.5L175.1,595.6L176.5,595.7L177.9,595.7L179.4,595.8L180.8,595.9L182.3,596.0L183.7,596.1L185.2,596.1L186.6,596.2L188.0,596.3L189.5,596.4L190.9,596.4L192.4,596.5L193.8,596.6L195.2,596.7L196.7,596.8L198.1,596.8L199.6,596.9L201.0,597.0L202.5,597.0L203.9,597.1L205.3,597.2L206.8,597.3L208.2,597.3L209.7,597.4L211.1,597.5L212.5,597.5L214.0,597.6L215.4,597.6L216.9,597.7L218.3,597.8L219.8,597.8L221.2,597.9L222.6,597.9L224.1,598.0L225.5,598.1L227.0,598.1L228.4,598.2L229.8,598.2L231.3,598.3L232.7,598.3L234.2,598.4L235.6,598.4L237.1,598.4L238.5,598.5L239.9,598.5L241.4,598.6L242.8,598.6L244.3,598.7L245.7,598.7L247.1,598.7L248.6,598.8L250.0,598.8L251.5,598.9L252.9,598.9L254.3,598.9L255.8,599.0L257.2,599.0L258.7,599.1L260.1,599.1L261.6,599.1L263.0,599.2L264.4,599.2M264.4,599.2L265.9,599.1L267.4,599.0L268.8,598.8L270.3,598.7L271.8,598.6L273.2,598.5L274.7,598.4L276.2,598.2L277.6,598.1L279.1,598.0L280.6,597.9L282.0,597.8L283.5,597.6L284.9,597.5L286.4,597.4L287.9,597.3L289.3,597.2L290.8,597.1L292.3,596.9L293.7,596.8L295.2,596.7L296.7,596.6L298.1,596.5L299.6,596.3L301.1,596.2L302.5,596.1L304.0,596.0L305.5,595.9L306.9,595.7L308.4,595.6L309.8,595.5" fill="none" stroke="#c14fc1" stroke-width="1.35" stroke-dasharray="0.1,4.4" stroke-linecap="round"/>
<path d="M37.4,648.7L38.8,648.0L40.3,647.3L41.7,646.6L43.2,645.9L44.6,645.3L46.0,644.6L47.5,644.0L48.9,643.4L50.4,642.8L51.8,642.3L53.3,641.7L54.7,641.2L56.1,640.7L57.6,640.2L59.0,639.7L60.5,639.2L61.9,638.8L63.3,638.3L64.8,637.9L66.2,637.5L67.7,637.1L69.1,636.8L70.6,636.4L72.0,636.1L73.4,635.8L74.9,635.5L76.3,635.2L77.8,634.9L79.2,634.7L80.6,634.4L82.1,634.2L83.5,634.0L85.0,633.8L86.4,633.6L87.9,633.5L89.3,633.3L90.7,633.2L92.2,633.1L93.6,632.9L95.1,632.8L96.5,632.7L97.9,632.7L99.4,632.6L100.8,632.5L102.3,632.4L103.7,632.4L105.2,632.3L106.6,632.3L108.0,632.2L109.5,632.2L110.9,632.1L112.4,632.1L113.8,632.0L115.2,632.0L116.7,631.9L118.1,631.9L119.6,631.8L121.0,631.8L122.4,631.7L123.9,631.6L125.3,631.6L126.8,631.5L128.2,631.4M128.2,631.4L129.7,632.2L131.1,633.0L132.6,633.8L134.1,634.6L135.5,635.4L137.0,636.1L138.5,636.8L139.9,637.5L141.4,638.1L142.9,638.7L144.3,639.2L145.8,639.7L147.3,640.2L148.7,640.7L150.2,641.2L151.7,641.8L153.1,642.3L154.6,642.8L156.0,643.3L157.5,643.8L159.0,644.4L160.4,644.9L161.9,645.4L163.4,645.9L164.8,646.3L166.3,646.8L167.8,647.2L169.2,647.6L170.7,648.0L172.2,648.4L173.6,648.7M173.6,648.7L175.1,648.0L176.5,647.3L177.9,646.6L179.4,645.9L180.8,645.3L182.3,644.6L183.7,644.0L185.2,643.4L186.6,642.8L188.0,642.3L189.5,641.7L190.9,641.2L192.4,640.7L193.8,640.2L195.2,639.7L196.7,639.2L198.1,638.8L199.6,638.3L201.0,637.9L202.5,637.5L203.9,637.1L205.3,636.8L206.8,636.4L208.2,636.1L209.7,635.8L211.1,635.5L212.5,635.2L214.0,634.9L215.4,634.7L216.9,634.4L218.3,634.2L219.8,634.0L221.2,633.8L222.6,633.6L224.1,633.5L225.5,633.3L227.0,633.2L228.4,633.1L229.8,632.9L231.3,632.8L232.7,632.7L234.2,632.7L235.6,632.6L237.1,632.5L238.5,632.4L239.9,632.4L241.4,632.3L242.8,632.3L244.3,632.2L245.7,632.2L247.1,632.1L248.6,632.1L250.0,632.0L251.5,632.0L252.9,631.9L254.3,631.9L255.8,631.8L257.2,631.8L258.7,631.7L260.1,631.6L261.6,631.6L263.0,631.5L264.4,631.4M264.4,631.4L265.9,632.2L267.4,633.0L268.8,633.8L270.3,634.6L271.8,635.4L273.2,636.1L274.7,636.8L276.2,637.5L277.6,638.1L279.1,638.7L280.6,639.2L282.0,639.7L283.5,640.2L284.9,640.7L286.4,641.2L287.9,641.8L289.3,642.3L290.8,642.8L292.3,643.3L293.7,643.8L295.2,644.4L296.7,644.9L298.1,645.4L299.6,645.9L301.1,646.3L302.5,646.8L304.0,647.2L305.5,647.6L306.9,648.0L308.4,648.4L309.8,648.7" fill="none" stroke="#2f7a2f" stroke-width="1.35" stroke-linejoin="round"/>
<path d="M37.4,653.9L38.8,653.1L40.3,652.3L41.7,651.5L43.2,650.8L44.6,650.0L46.0,649.3L47.5,648.5L48.9,647.8L50.4,647.1L51.8,646.4L53.3,645.7L54.7,645.0L56.1,644.4L57.6,643.7L59.0,643.1L60.5,642.5L61.9,641.9L63.3,641.3L64.8,640.7L66.2,640.2L67.7,639.6L69.1,639.1L70.6,638.6L72.0,638.1L73.4,637.7L74.9,637.2L76.3,636.8L77.8,636.4L79.2,636.0L80.6,635.7L82.1,635.4L83.5,635.0L85.0,634.8L86.4,634.5L87.9,634.2L89.3,634.0L90.7,633.8L92.2,633.6L93.6,633.4L95.1,633.3L96.5,633.1L97.9,633.0L99.4,632.9L100.8,632.8L102.3,632.7L103.7,632.6L105.2,632.5L106.6,632.4L108.0,632.4L109.5,632.3L110.9,632.3L112.4,632.2L113.8,632.2L115.2,632.2L116.7,632.1L118.1,632.1L119.6,632.1L121.0,632.0L122.4,632.0L123.9,631.9L125.3,631.9L126.8,631.9L128.2,631.8M128.2,631.8L129.7,632.7L131.1,633.6L132.6,634.6L134.1,635.6L135.5,636.6L137.0,637.6L138.5,638.6L139.9,639.6L141.4,640.7L142.9,641.7L144.3,642.6L145.8,643.6L147.3,644.5L148.7,645.4L150.2,646.2L151.7,647.0L153.1,647.7L154.6,648.4L156.0,649.0L157.5,649.6L159.0,650.1L160.4,650.6L161.9,651.1L163.4,651.5L164.8,651.9L166.3,652.3L167.8,652.7L169.2,653.0L170.7,653.3L172.2,653.6L173.6,653.9M173.6,653.9L175.1,653.1L176.5,652.3L177.9,651.5L179.4,650.8L180.8,650.0L182.3,649.3L183.7,648.5L185.2,647.8L186.6,647.1L188.0,646.4L189.5,645.7L190.9,645.0L192.4,644.4L193.8,643.7L195.2,643.1L196.7,642.5L198.1,641.9L199.6,641.3L201.0,640.7L202.5,640.2L203.9,639.6L205.3,639.1L206.8,638.6L208.2,638.1L209.7,637.7L211.1,637.2L212.5,636.8L214.0,636.4L215.4,636.0L216.9,635.7L218.3,635.4L219.8,635.0L221.2,634.8L222.6,634.5L224.1,634.2L225.5,634.0L227.0,633.8L228.4,633.6L229.8,633.4L231.3,633.3L232.7,633.1L234.2,633.0L235.6,632.9L237.1,632.8L238.5,632.7L239.9,632.6L241.4,632.5L242.8,632.4L244.3,632.4L245.7,632.3L247.1,632.3L248.6,632.2L250.0,632.2L251.5,632.2L252.9,632.1L254.3,632.1L255.8,632.1L257.2,632.0L258.7,632.0L260.1,631.9L261.6,631.9L263.0,631.9L264.4,631.8M264.4,631.8L265.9,632.7L267.4,633.6L268.8,634.6L270.3,635.6L271.8,636.6L273.2,637.6L274.7,638.6L276.2,639.6L277.6,640.7L279.1,641.7L280.6,642.6L282.0,643.6L283.5,644.5L284.9,645.4L286.4,646.2L287.9,647.0L289.3,647.7L290.8,648.4L292.3,649.0L293.7,649.6L295.2,650.1L296.7,650.6L298.1,651.1L299.6,651.5L301.1,651.9L302.5,652.3L304.0,652.7L305.5,653.0L306.9,653.3L308.4,653.6L309.8,653.9" fill="none" stroke="#2f7a2f" stroke-width="1.35" stroke-dasharray="4.8,3"/>
<path d="M37.4,639.0L38.8,638.8L40.3,638.6L41.7,638.4L43.2,638.2L44.6,638.0L46.0,637.8L47.5,637.7L48.9,637.5L50.4,637.3L51.8,637.1L53.3,637.0L54.7,636.8L56.1,636.6L57.6,636.5L59.0,636.3L60.5,636.1L61.9,636.0L63.3,635.8L64.8,635.7L66.2,635.5L67.7,635.4L69.1,635.2L70.6,635.1L72.0,635.0L73.4,634.8L74.9,634.7L76.3,634.6L77.8,634.4L79.2,634.3L80.6,634.2L82.1,634.1L83.5,633.9L85.0,633.8L86.4,633.7L87.9,633.6L89.3,633.5L90.7,633.4L92.2,633.3L93.6,633.2L95.1,633.1L96.5,633.0L97.9,632.9L99.4,632.9L100.8,632.8L102.3,632.7L103.7,632.6L105.2,632.5L106.6,632.5L108.0,632.4L109.5,632.3L110.9,632.3L112.4,632.2L113.8,632.2L115.2,632.1L116.7,632.1L118.1,632.0L119.6,632.0L121.0,631.9L122.4,631.9L123.9,631.9L125.3,631.8L126.8,631.8L128.2,631.8M128.2,631.8L129.7,632.1L131.1,632.4L132.6,632.8L134.1,633.1L135.5,633.4L137.0,633.7L138.5,634.0L139.9,634.3L141.4,634.6L142.9,634.9L144.3,635.2L145.8,635.4L147.3,635.7L148.7,635.9L150.2,636.2L151.7,636.4L153.1,636.6L154.6,636.8L156.0,637.0L157.5,637.2L159.0,637.4L160.4,637.6L161.9,637.8L163.4,637.9L164.8,638.1L166.3,638.3L167.8,638.4L169.2,638.6L170.7,638.7L172.2,638.9L173.6,639.0M173.6,639.0L175.1,638.8L176.5,638.6L177.9,638.4L179.4,638.2L180.8,638.0L182.3,637.8L183.7,637.7L185.2,637.5L186.6,637.3L188.0,637.1L189.5,637.0L190.9,636.8L192.4,636.6L193.8,636.5L195.2,636.3L196.7,636.1L198.1,636.0L199.6,635.8L201.0,635.7L202.5,635.5L203.9,635.4L205.3,635.2L206.8,635.1L208.2,635.0L209.7,634.8L211.1,634.7L212.5,634.6L214.0,634.4L215.4,634.3L216.9,634.2L218.3,634.1L219.8,633.9L221.2,633.8L222.6,633.7L224.1,633.6L225.5,633.5L227.0,633.4L228.4,633.3L229.8,633.2L231.3,633.1L232.7,633.0L234.2,632.9L235.6,632.9L237.1,632.8L238.5,632.7L239.9,632.6L241.4,632.5L242.8,632.5L244.3,632.4L245.7,632.3L247.1,632.3L248.6,632.2L250.0,632.2L251.5,632.1L252.9,632.1L254.3,632.0L255.8,632.0L257.2,631.9L258.7,631.9L260.1,631.9L261.6,631.8L263.0,631.8L264.4,631.8M264.4,631.8L265.9,632.1L267.4,632.4L268.8,632.8L270.3,633.1L271.8,633.4L273.2,633.7L274.7,634.0L276.2,634.3L277.6,634.6L279.1,634.9L280.6,635.2L282.0,635.4L283.5,635.7L284.9,635.9L286.4,636.2L287.9,636.4L289.3,636.6L290.8,636.8L292.3,637.0L293.7,637.2L295.2,637.4L296.7,637.6L298.1,637.8L299.6,637.9L301.1,638.1L302.5,638.3L304.0,638.4L305.5,638.6L306.9,638.7L308.4,638.9L309.8,639.0" fill="none" stroke="#2f7a2f" stroke-width="1.35" stroke-dasharray="0.1,4.4" stroke-linecap="round"/>
</g>
<path d="M33.60,591.60H44.90" stroke="#2f7a2f" stroke-width="1.9"/>
<text x="50.30" y="593.50" font-size="5.5" fill="#000">ISF</text>
<path d="M33.60,598.20H44.90" stroke="#c14fc1" stroke-width="1.9"/>
<text x="50.30" y="600.10" font-size="5.5" fill="#000">Cell</text>
<rect x="26.30" y="584.60" width="294.70" height="72.70" fill="none" stroke="#333" stroke-width="1.1"/>
<path d="M37.40,657.30v2.8M82.81,657.30v2.8M128.22,657.30v2.8M173.62,657.30v2.8M219.03,657.30v2.8M264.44,657.30v2.8M309.85,657.30v2.8M26.30,587.10h-2.8M26.30,600.80h-2.8M26.30,614.50h-2.8M26.30,628.30h-2.8M26.30,642.00h-2.8M26.30,655.70h-2.8" stroke="#333" stroke-width="0.8" fill="none"/>
<text x="37.40" y="667.90" font-size="5.4" text-anchor="middle" fill="#000">0</text>
<text x="82.81" y="667.90" font-size="5.4" text-anchor="middle" fill="#000">8</text>
<text x="128.22" y="667.90" font-size="5.4" text-anchor="middle" fill="#000">16</text>
<text x="173.62" y="667.90" font-size="5.4" text-anchor="middle" fill="#000">24</text>
<text x="219.03" y="667.90" font-size="5.4" text-anchor="middle" fill="#000">32</text>
<text x="264.44" y="667.90" font-size="5.4" text-anchor="middle" fill="#000">40</text>
<text x="309.85" y="667.90" font-size="5.4" text-anchor="middle" fill="#000">48</text>
<text transform="translate(19.20,587.10) rotate(-90)" font-size="5.4" text-anchor="middle" fill="#000">220</text>
<text transform="translate(19.20,600.80) rotate(-90)" font-size="5.4" text-anchor="middle" fill="#000">200</text>
<text transform="translate(19.20,614.50) rotate(-90)" font-size="5.4" text-anchor="middle" fill="#000">180</text>
<text transform="translate(19.20,628.30) rotate(-90)" font-size="5.4" text-anchor="middle" fill="#000">160</text>
<text transform="translate(19.20,642.00) rotate(-90)" font-size="5.4" text-anchor="middle" fill="#000">140</text>
<text transform="translate(19.20,655.70) rotate(-90)" font-size="5.4" text-anchor="middle" fill="#000">120</text>
<text transform="translate(7.30,620.95) rotate(-90)" font-size="5.6" text-anchor="middle" fill="#000">Other [a.u.]</text>
<rect x="470.32" y="378.60" width="45.41" height="71.80" fill="#e7e8e8"/>
<rect x="606.54" y="378.60" width="56.56" height="71.80" fill="#e7e8e8"/>
<path d="M379.50,378.60V450.40M424.91,378.60V450.40M470.32,378.60V450.40M515.72,378.60V450.40M561.13,378.60V450.40M606.54,378.60V450.40M651.95,378.60V450.40M368.90,387.30H663.10M368.90,407.50H663.10M368.90,427.70H663.10M368.90,447.90H663.10" stroke="#b4b4b4" stroke-width="0.7" stroke-dasharray="0.7,1.3" fill="none"/>
<clipPath id="c368_378"><rect x="368.90" y="378.60" width="294.20" height="71.80"/></clipPath>
<g clip-path="url(#c368_378)">
<path d="M379.5,402.5L380.9,403.0L382.4,403.5L383.8,404.0L385.3,404.3L386.7,404.7L388.1,404.9L389.6,405.0L391.0,405.1L392.5,405.0L393.9,404.9L395.4,404.7L396.8,404.4L398.2,404.1L399.7,403.8L401.1,403.4L402.6,402.9L404.0,402.4L405.4,401.9L406.9,401.4L408.3,400.9L409.8,400.3L411.2,399.8L412.7,399.2L414.1,398.6L415.5,398.0L417.0,397.4L418.4,396.8L419.9,396.2L421.3,395.6L422.7,395.0L424.2,394.4L425.6,393.8L427.1,393.3L428.5,392.7L430.0,392.2L431.4,391.6L432.8,391.1L434.3,390.6L435.7,390.1L437.2,389.6L438.6,389.1L440.0,388.7L441.5,388.2L442.9,387.8L444.4,387.3L445.8,386.9L447.3,386.4L448.7,386.0L450.1,385.5L451.6,385.1L453.0,384.7L454.5,384.3L455.9,383.9L457.3,383.6L458.8,383.2L460.2,382.9L461.7,382.6L463.1,382.3L464.5,382.1L466.0,381.9L467.4,381.7L468.9,381.6L470.3,381.5L471.8,381.5L473.2,381.5L474.6,381.6L476.1,381.8L477.5,382.2L479.0,382.6L480.4,383.2L481.8,383.9L483.3,384.6L484.7,385.5L486.2,386.3L487.6,387.3L489.1,388.2L490.5,389.1L491.9,390.1L493.4,391.0L494.8,391.9L496.3,392.8L497.7,393.7L499.1,394.6L500.6,395.4L502.0,396.2L503.5,396.9L504.9,397.7L506.4,398.4L507.8,399.1L509.2,399.8L510.7,400.4L512.1,401.1L513.6,401.7L515.0,402.2L516.4,402.8L517.9,403.3L519.3,403.7L520.8,404.2L522.2,404.5L523.7,404.8L525.1,405.0L526.5,405.1L528.0,405.1L529.4,405.0L530.9,404.8L532.3,404.6L533.7,404.3L535.2,404.0L536.6,403.6L538.1,403.1L539.5,402.7L541.0,402.2L542.4,401.7L543.8,401.2L545.3,400.6L546.7,400.0L548.2,399.5L549.6,398.9L551.0,398.3L552.5,397.7L553.9,397.1L555.4,396.5L556.8,395.9L558.2,395.3L559.7,394.7L561.1,394.1L562.6,393.5L564.0,393.0L565.5,392.4L566.9,391.9L568.3,391.4L569.8,390.9L571.2,390.4L572.7,389.9L574.1,389.4L575.5,388.9L577.0,388.4L578.4,388.0L579.9,387.5L581.3,387.1L582.8,386.6L584.2,386.2L585.6,385.8L587.1,385.3L588.5,384.9L590.0,384.5L591.4,384.1L592.8,383.7L594.3,383.4L595.7,383.0L597.2,382.7L598.6,382.5L600.1,382.2L601.5,382.0L602.9,381.8L604.4,381.6L605.8,381.5L607.3,381.5L608.7,381.5L610.1,381.5L611.6,381.7L613.0,382.0L614.5,382.4L615.9,382.9L617.4,383.5L618.8,384.3L620.2,385.0L621.7,385.9L623.1,386.8L624.6,387.7L626.0,388.7L627.4,389.6L628.9,390.6L630.3,391.5L631.8,392.4L633.2,393.3L634.6,394.1L636.1,395.0L637.5,395.8L639.0,396.6L640.4,397.3L641.9,398.1L643.3,398.8L644.7,399.5L646.2,400.1L647.6,400.8L649.1,401.4L650.5,401.9L651.9,402.5" fill="none" stroke="#e3262b" stroke-width="1.35" stroke-linejoin="round"/>
<path d="M379.5,446.6L380.9,447.9L382.4,448.2L383.8,447.7L385.3,446.6L386.7,445.1L388.1,443.2L389.6,441.3L391.0,439.3L392.5,437.5L393.9,435.7L395.4,434.0L396.8,432.3L398.2,430.7L399.7,429.0L401.1,427.4L402.6,425.7L404.0,424.0L405.4,422.2L406.9,420.5L408.3,418.7L409.8,417.0L411.2,415.3L412.7,413.7L414.1,412.1L415.5,410.6L417.0,409.1L418.4,407.7L419.9,406.4L421.3,405.1L422.7,403.8L424.2,402.6L425.6,401.4L427.1,400.3L428.5,399.2L430.0,398.1L431.4,397.1L432.8,396.1L434.3,395.2L435.7,394.3L437.2,393.4L438.6,392.5L440.0,391.7L441.5,390.9L442.9,390.2L444.4,389.5L445.8,388.8L447.3,388.2L448.7,387.5L450.1,387.0L451.6,386.4L453.0,385.9L454.5,385.4L455.9,384.9L457.3,384.5L458.8,384.1L460.2,383.7L461.7,383.3L463.1,383.0L464.5,382.7L466.0,382.5L467.4,382.2L468.9,382.0L470.3,381.8M470.3,381.8L471.8,383.5L473.2,385.3L474.7,387.2L476.2,389.2L477.6,391.2L479.1,393.2L480.6,395.4L482.0,397.5L483.5,399.7L485.0,401.9L486.4,404.1L487.9,406.3L489.4,408.5L490.8,410.6L492.3,412.8L493.8,414.9L495.2,417.0L496.7,419.1L498.1,421.1L499.6,423.1L501.1,425.1L502.5,427.1L504.0,429.1L505.5,431.2L506.9,433.2L508.4,435.3L509.9,437.4L511.3,439.6L512.8,441.9L514.3,444.2L515.7,446.6M515.7,446.6L517.2,447.9L518.6,448.2L520.0,447.7L521.5,446.6L522.9,445.1L524.4,443.2L525.8,441.3L527.3,439.3L528.7,437.5L530.1,435.7L531.6,434.0L533.0,432.3L534.5,430.7L535.9,429.0L537.3,427.4L538.8,425.7L540.2,424.0L541.7,422.2L543.1,420.5L544.6,418.7L546.0,417.0L547.4,415.3L548.9,413.7L550.3,412.1L551.8,410.6L553.2,409.1L554.6,407.7L556.1,406.4L557.5,405.1L559.0,403.8L560.4,402.6L561.9,401.4L563.3,400.3L564.7,399.2L566.2,398.1L567.6,397.1L569.1,396.1L570.5,395.2L571.9,394.3L573.4,393.4L574.8,392.5L576.3,391.7L577.7,390.9L579.2,390.2L580.6,389.5L582.0,388.8L583.5,388.2L584.9,387.5L586.4,387.0L587.8,386.4L589.2,385.9L590.7,385.4L592.1,384.9L593.6,384.5L595.0,384.1L596.4,383.7L597.9,383.3L599.3,383.0L600.8,382.7L602.2,382.5L603.7,382.2L605.1,382.0L606.5,381.8M606.5,381.8L608.0,383.5L609.5,385.3L610.9,387.2L612.4,389.2L613.9,391.2L615.3,393.2L616.8,395.4L618.3,397.5L619.7,399.7L621.2,401.9L622.7,404.1L624.1,406.3L625.6,408.5L627.0,410.6L628.5,412.8L630.0,414.9L631.4,417.0L632.9,419.1L634.4,421.1L635.8,423.1L637.3,425.1L638.8,427.1L640.2,429.1L641.7,431.2L643.2,433.2L644.6,435.3L646.1,437.4L647.6,439.6L649.0,441.9L650.5,444.2L651.9,446.6" fill="none" stroke="#e3262b" stroke-width="1.35" stroke-dasharray="4.8,3"/>
<path d="M379.5,430.2L380.9,431.9L382.4,433.2L383.8,434.2L385.3,434.9L386.7,435.3L388.1,435.5L389.6,435.5L391.0,435.3L392.5,435.0L393.9,434.5L395.4,434.0L396.8,433.3L398.2,432.5L399.7,431.6L401.1,430.6L402.6,429.5L404.0,428.3L405.4,427.1L406.9,425.8L408.3,424.5L409.8,423.1L411.2,421.7L412.7,420.3L414.1,418.9L415.5,417.5L417.0,416.1L418.4,414.8L419.9,413.4L421.3,412.1L422.7,410.7L424.2,409.4L425.6,408.2L427.1,406.9L428.5,405.7L430.0,404.5L431.4,403.4L432.8,402.3L434.3,401.2L435.7,400.1L437.2,399.1L438.6,398.1L440.0,397.1L441.5,396.1L442.9,395.2L444.4,394.3L445.8,393.4L447.3,392.5L448.7,391.7L450.1,390.9L451.6,390.1L453.0,389.3L454.5,388.6L455.9,387.9L457.3,387.2L458.8,386.5L460.2,385.8L461.7,385.2L463.1,384.6L464.5,384.0L466.0,383.4L467.4,382.9L468.9,382.3L470.3,381.8M470.3,381.8L471.8,381.9L473.2,382.2L474.7,382.8L476.2,383.5L477.6,384.3L479.1,385.4L480.6,386.5L482.0,387.8L483.5,389.2L485.0,390.7L486.4,392.2L487.9,393.9L489.4,395.6L490.8,397.3L492.3,399.0L493.8,400.8L495.2,402.5L496.7,404.2L498.1,405.9L499.6,407.5L501.1,409.1L502.5,410.7L504.0,412.3L505.5,414.0L506.9,415.8L508.4,417.7L509.9,419.7L511.3,422.0L512.8,424.5L514.3,427.2L515.7,430.2M515.7,430.2L517.2,431.9L518.6,433.2L520.0,434.2L521.5,434.9L522.9,435.3L524.4,435.5L525.8,435.5L527.3,435.3L528.7,435.0L530.1,434.5L531.6,434.0L533.0,433.3L534.5,432.5L535.9,431.6L537.3,430.6L538.8,429.5L540.2,428.3L541.7,427.1L543.1,425.8L544.6,424.5L546.0,423.1L547.4,421.7L548.9,420.3L550.3,418.9L551.8,417.5L553.2,416.1L554.6,414.8L556.1,413.4L557.5,412.1L559.0,410.7L560.4,409.4L561.9,408.2L563.3,406.9L564.7,405.7L566.2,404.5L567.6,403.4L569.1,402.3L570.5,401.2L571.9,400.1L573.4,399.1L574.8,398.1L576.3,397.1L577.7,396.1L579.2,395.2L580.6,394.3L582.0,393.4L583.5,392.5L584.9,391.7L586.4,390.9L587.8,390.1L589.2,389.3L590.7,388.6L592.1,387.9L593.6,387.2L595.0,386.5L596.4,385.8L597.9,385.2L599.3,384.6L600.8,384.0L602.2,383.4L603.7,382.9L605.1,382.3L606.5,381.8M606.5,381.8L608.0,381.9L609.5,382.2L610.9,382.8L612.4,383.5L613.9,384.3L615.3,385.4L616.8,386.5L618.3,387.8L619.7,389.2L621.2,390.7L622.7,392.2L624.1,393.9L625.6,395.6L627.0,397.3L628.5,399.0L630.0,400.8L631.4,402.5L632.9,404.2L634.4,405.9L635.8,407.5L637.3,409.1L638.8,410.7L640.2,412.3L641.7,414.0L643.2,415.8L644.6,417.7L646.1,419.7L647.6,422.0L649.0,424.5L650.5,427.2L651.9,430.2" fill="none" stroke="#e3262b" stroke-width="1.35" stroke-dasharray="0.1,4.4" stroke-linecap="round"/>
</g>
<path d="M376.20,385.90H387.50" stroke="#e3262b" stroke-width="1.9"/>
<text x="392.90" y="387.80" font-size="5.5" fill="#000">Plasma</text>
<rect x="368.90" y="378.60" width="294.20" height="71.80" fill="none" stroke="#333" stroke-width="1.1"/>
<path d="M379.50,450.40v2.8M424.91,450.40v2.8M470.32,450.40v2.8M515.72,450.40v2.8M561.13,450.40v2.8M606.54,450.40v2.8M651.95,450.40v2.8M368.90,387.30h-2.8M368.90,407.50h-2.8M368.90,427.70h-2.8M368.90,447.90h-2.8" stroke="#333" stroke-width="0.8" fill="none"/>
<text x="379.50" y="461.00" font-size="5.4" text-anchor="middle" fill="#000">0</text>
<text x="424.91" y="461.00" font-size="5.4" text-anchor="middle" fill="#000">8</text>
<text x="470.32" y="461.00" font-size="5.4" text-anchor="middle" fill="#000">16</text>
<text x="515.72" y="461.00" font-size="5.4" text-anchor="middle" fill="#000">24</text>
<text x="561.13" y="461.00" font-size="5.4" text-anchor="middle" fill="#000">32</text>
<text x="606.54" y="461.00" font-size="5.4" text-anchor="middle" fill="#000">40</text>
<text x="651.95" y="461.00" font-size="5.4" text-anchor="middle" fill="#000">48</text>
<text transform="translate(361.80,387.30) rotate(-90)" font-size="5.4" text-anchor="middle" fill="#000">6.0</text>
<text transform="translate(361.80,407.50) rotate(-90)" font-size="5.4" text-anchor="middle" fill="#000">5.5</text>
<text transform="translate(361.80,427.70) rotate(-90)" font-size="5.4" text-anchor="middle" fill="#000">5.0</text>
<text transform="translate(361.80,447.90) rotate(-90)" font-size="5.4" text-anchor="middle" fill="#000">4.5</text>
<text transform="translate(349.90,414.50) rotate(-90)" font-size="5.6" text-anchor="middle" fill="#000">Plasma [a.u.]</text>
<rect x="470.32" y="481.20" width="45.41" height="73.00" fill="#e7e8e8"/>
<rect x="606.54" y="481.20" width="56.56" height="73.00" fill="#e7e8e8"/>
<path d="M379.50,481.20V554.20M424.91,481.20V554.20M470.32,481.20V554.20M515.72,481.20V554.20M561.13,481.20V554.20M606.54,481.20V554.20M651.95,481.20V554.20M368.90,488.00H663.10M368.90,500.30H663.10M368.90,512.50H663.10M368.90,524.80H663.10M368.90,537.00H663.10M368.90,549.30H663.10" stroke="#b4b4b4" stroke-width="0.7" stroke-dasharray="0.7,1.3" fill="none"/>
<clipPath id="c368_481"><rect x="368.90" y="481.20" width="294.20" height="73.00"/></clipPath>
<g clip-path="url(#c368_481)">
<path d="M379.5,498.9L380.9,499.3L382.4,499.6L383.8,499.9L385.3,500.2L386.7,500.5L388.1,500.7L389.6,500.9L391.0,501.1L392.5,501.1L393.9,501.2L395.4,501.2L396.8,501.1L398.2,501.0L399.7,500.8L401.1,500.6L402.6,500.4L404.0,500.1L405.4,499.8L406.9,499.5L408.3,499.2L409.8,498.8L411.2,498.4L412.7,498.0L414.1,497.5L415.5,497.1L417.0,496.6L418.4,496.2L419.9,495.7L421.3,495.3L422.7,494.8L424.2,494.4L425.6,494.0L427.1,493.6L428.5,493.2L430.0,492.8L431.4,492.4L432.8,492.1L434.3,491.7L435.7,491.4L437.2,491.0L438.6,490.7L440.0,490.3L441.5,490.0L442.9,489.7L444.4,489.3L445.8,489.0L447.3,488.7L448.7,488.3L450.1,488.0L451.6,487.7L453.0,487.3L454.5,487.0L455.9,486.7L457.3,486.4L458.8,486.1L460.2,485.8L461.7,485.5L463.1,485.2L464.5,485.0L466.0,484.8L467.4,484.6L468.9,484.4L470.3,484.3L471.8,484.2L473.2,484.2L474.6,484.2L476.1,484.4L477.5,484.7L479.0,485.1L480.4,485.6L481.8,486.1L483.3,486.7L484.7,487.4L486.2,488.1L487.6,488.8L489.1,489.5L490.5,490.3L491.9,491.0L493.4,491.7L494.8,492.3L496.3,492.9L497.7,493.5L499.1,494.1L500.6,494.6L502.0,495.1L503.5,495.5L504.9,496.0L506.4,496.4L507.8,496.8L509.2,497.2L510.7,497.6L512.1,498.0L513.6,498.4L515.0,498.7L516.4,499.1L517.9,499.4L519.3,499.8L520.8,500.1L522.2,500.4L523.7,500.6L525.1,500.8L526.5,501.0L528.0,501.1L529.4,501.2L530.9,501.2L532.3,501.1L533.7,501.0L535.2,500.9L536.6,500.7L538.1,500.5L539.5,500.3L541.0,500.0L542.4,499.7L543.8,499.3L545.3,499.0L546.7,498.6L548.2,498.2L549.6,497.7L551.0,497.3L552.5,496.9L553.9,496.4L555.4,496.0L556.8,495.5L558.2,495.1L559.7,494.6L561.1,494.2L562.6,493.8L564.0,493.4L565.5,493.0L566.9,492.6L568.3,492.2L569.8,491.9L571.2,491.5L572.7,491.2L574.1,490.8L575.5,490.5L577.0,490.2L578.4,489.8L579.9,489.5L581.3,489.2L582.8,488.9L584.2,488.5L585.6,488.2L587.1,487.8L588.5,487.5L590.0,487.2L591.4,486.8L592.8,486.5L594.3,486.2L595.7,485.9L597.2,485.6L598.6,485.4L600.1,485.1L601.5,484.9L602.9,484.7L604.4,484.5L605.8,484.4L607.3,484.2L608.7,484.2L610.1,484.2L611.6,484.3L613.0,484.5L614.5,484.9L615.9,485.3L617.4,485.8L618.8,486.4L620.2,487.1L621.7,487.8L623.1,488.5L624.6,489.2L626.0,489.9L627.4,490.6L628.9,491.3L630.3,492.0L631.8,492.6L633.2,493.2L634.6,493.8L636.1,494.3L637.5,494.8L639.0,495.3L640.4,495.8L641.9,496.2L643.3,496.6L644.7,497.0L646.2,497.4L647.6,497.8L649.1,498.2L650.5,498.5L651.9,498.9" fill="none" stroke="#3b4fa6" stroke-width="1.35" stroke-linejoin="round"/>
<path d="M379.5,551.2L380.9,549.5L382.4,547.7L383.8,545.8L385.3,543.8L386.7,541.8L388.1,539.7L389.6,537.6L391.0,535.5L392.5,533.4L393.9,531.3L395.4,529.2L396.8,527.2L398.2,525.2L399.7,523.3L401.1,521.4L402.6,519.7L404.0,518.1L405.4,516.5L406.9,515.1L408.3,513.7L409.8,512.3L411.2,511.0L412.7,509.8L414.1,508.6L415.5,507.4L417.0,506.2L418.4,505.1L419.9,504.0L421.3,502.9L422.7,501.9L424.2,501.0L425.6,500.0L427.1,499.2L428.5,498.3L430.0,497.5L431.4,496.8L432.8,496.1L434.3,495.4L435.7,494.7L437.2,494.1L438.6,493.5L440.0,493.0L441.5,492.4L442.9,491.9L444.4,491.4L445.8,491.0L447.3,490.5L448.7,490.1L450.1,489.7L451.6,489.2L453.0,488.8L454.5,488.4L455.9,488.1L457.3,487.7L458.8,487.3L460.2,486.9L461.7,486.5L463.1,486.2L464.5,485.8L466.0,485.4L467.4,485.0L468.9,484.5L470.3,484.1M470.3,484.1L471.8,486.4L473.2,488.7L474.7,491.1L476.2,493.5L477.6,495.9L479.1,498.3L480.6,500.7L482.0,503.2L483.5,505.6L485.0,508.0L486.4,510.4L487.9,512.7L489.4,515.0L490.8,517.3L492.3,519.5L493.8,521.7L495.2,523.9L496.7,526.0L498.1,528.1L499.6,530.1L501.1,532.1L502.5,534.1L504.0,536.1L505.5,538.1L506.9,540.0L508.4,541.9L509.9,543.8L511.3,545.6L512.8,547.5L514.3,549.4L515.7,551.2M515.7,551.2L517.2,549.5L518.6,547.7L520.0,545.8L521.5,543.8L522.9,541.8L524.4,539.7L525.8,537.6L527.3,535.5L528.7,533.4L530.1,531.3L531.6,529.2L533.0,527.2L534.5,525.2L535.9,523.3L537.3,521.4L538.8,519.7L540.2,518.1L541.7,516.5L543.1,515.1L544.6,513.7L546.0,512.3L547.4,511.0L548.9,509.8L550.3,508.6L551.8,507.4L553.2,506.2L554.6,505.1L556.1,504.0L557.5,502.9L559.0,501.9L560.4,501.0L561.9,500.0L563.3,499.2L564.7,498.3L566.2,497.5L567.6,496.8L569.1,496.1L570.5,495.4L571.9,494.7L573.4,494.1L574.8,493.5L576.3,493.0L577.7,492.4L579.2,491.9L580.6,491.4L582.0,491.0L583.5,490.5L584.9,490.1L586.4,489.7L587.8,489.2L589.2,488.8L590.7,488.4L592.1,488.1L593.6,487.7L595.0,487.3L596.4,486.9L597.9,486.5L599.3,486.2L600.8,485.8L602.2,485.4L603.7,485.0L605.1,484.5L606.5,484.1M606.5,484.1L608.0,486.4L609.5,488.7L610.9,491.1L612.4,493.5L613.9,495.9L615.3,498.3L616.8,500.7L618.3,503.2L619.7,505.6L621.2,508.0L622.7,510.4L624.1,512.7L625.6,515.0L627.0,517.3L628.5,519.5L630.0,521.7L631.4,523.9L632.9,526.0L634.4,528.1L635.8,530.1L637.3,532.1L638.8,534.1L640.2,536.1L641.7,538.1L643.2,540.0L644.6,541.9L646.1,543.8L647.6,545.6L649.0,547.5L650.5,549.4L651.9,551.2" fill="none" stroke="#3b4fa6" stroke-width="1.35" stroke-dasharray="4.8,3"/>
<path d="M379.5,519.7L380.9,521.1L382.4,522.3L383.8,523.2L385.3,523.9L386.7,524.3L388.1,524.5L389.6,524.6L391.0,524.5L392.5,524.3L393.9,524.0L395.4,523.6L396.8,523.1L398.2,522.5L399.7,521.8L401.1,521.1L402.6,520.3L404.0,519.5L405.4,518.7L406.9,517.8L408.3,516.9L409.8,516.0L411.2,515.1L412.7,514.2L414.1,513.3L415.5,512.3L417.0,511.4L418.4,510.5L419.9,509.5L421.3,508.6L422.7,507.6L424.2,506.7L425.6,505.7L427.1,504.8L428.5,503.9L430.0,502.9L431.4,502.0L432.8,501.1L434.3,500.2L435.7,499.3L437.2,498.5L438.6,497.6L440.0,496.8L441.5,495.9L442.9,495.1L444.4,494.3L445.8,493.5L447.3,492.8L448.7,492.0L450.1,491.3L451.6,490.6L453.0,490.0L454.5,489.3L455.9,488.7L457.3,488.1L458.8,487.5L460.2,487.0L461.7,486.5L463.1,486.0L464.5,485.6L466.0,485.1L467.4,484.8L468.9,484.4L470.3,484.1M470.3,484.1L471.8,484.4L473.2,484.7L474.7,485.0L476.2,485.4L477.6,485.9L479.1,486.4L480.6,487.0L482.0,487.7L483.5,488.4L485.0,489.2L486.4,490.1L487.9,491.1L489.4,492.1L490.8,493.2L492.3,494.3L493.8,495.6L495.2,497.0L496.7,498.4L498.1,499.9L499.6,501.5L501.1,503.2L502.5,505.0L504.0,506.7L505.5,508.5L506.9,510.3L508.4,512.1L509.9,513.8L511.3,515.4L512.8,517.0L514.3,518.4L515.7,519.7M515.7,519.7L517.2,521.1L518.6,522.3L520.0,523.2L521.5,523.9L522.9,524.3L524.4,524.5L525.8,524.6L527.3,524.5L528.7,524.3L530.1,524.0L531.6,523.6L533.0,523.1L534.5,522.5L535.9,521.8L537.3,521.1L538.8,520.3L540.2,519.5L541.7,518.7L543.1,517.8L544.6,516.9L546.0,516.0L547.4,515.1L548.9,514.2L550.3,513.3L551.8,512.3L553.2,511.4L554.6,510.5L556.1,509.5L557.5,508.6L559.0,507.6L560.4,506.7L561.9,505.7L563.3,504.8L564.7,503.9L566.2,502.9L567.6,502.0L569.1,501.1L570.5,500.2L571.9,499.3L573.4,498.5L574.8,497.6L576.3,496.8L577.7,495.9L579.2,495.1L580.6,494.3L582.0,493.5L583.5,492.8L584.9,492.0L586.4,491.3L587.8,490.6L589.2,490.0L590.7,489.3L592.1,488.7L593.6,488.1L595.0,487.5L596.4,487.0L597.9,486.5L599.3,486.0L600.8,485.6L602.2,485.1L603.7,484.8L605.1,484.4L606.5,484.1M606.5,484.1L608.0,484.4L609.5,484.7L610.9,485.0L612.4,485.4L613.9,485.9L615.3,486.4L616.8,487.0L618.3,487.7L619.7,488.4L621.2,489.2L622.7,490.1L624.1,491.1L625.6,492.1L627.0,493.2L628.5,494.3L630.0,495.6L631.4,497.0L632.9,498.4L634.4,499.9L635.8,501.5L637.3,503.2L638.8,505.0L640.2,506.7L641.7,508.5L643.2,510.3L644.6,512.1L646.1,513.8L647.6,515.4L649.0,517.0L650.5,518.4L651.9,519.7" fill="none" stroke="#3b4fa6" stroke-width="1.35" stroke-dasharray="0.1,4.4" stroke-linecap="round"/>
</g>
<path d="M376.20,488.60H387.50" stroke="#3b4fa6" stroke-width="1.9"/>
<text x="392.90" y="490.50" font-size="5.5" fill="#000">CSF</text>
<rect x="368.90" y="481.20" width="294.20" height="73.00" fill="none" stroke="#333" stroke-width="1.1"/>
<path d="M379.50,554.20v2.8M424.91,554.20v2.8M470.32,554.20v2.8M515.72,554.20v2.8M561.13,554.20v2.8M606.54,554.20v2.8M651.95,554.20v2.8M368.90,488.00h-2.8M368.90,500.30h-2.8M368.90,512.50h-2.8M368.90,524.80h-2.8M368.90,537.00h-2.8M368.90,549.30h-2.8" stroke="#333" stroke-width="0.8" fill="none"/>
<text x="379.50" y="564.80" font-size="5.4" text-anchor="middle" fill="#000">0</text>
<text x="424.91" y="564.80" font-size="5.4" text-anchor="middle" fill="#000">8</text>
<text x="470.32" y="564.80" font-size="5.4" text-anchor="middle" fill="#000">16</text>
<text x="515.72" y="564.80" font-size="5.4" text-anchor="middle" fill="#000">24</text>
<text x="561.13" y="564.80" font-size="5.4" text-anchor="middle" fill="#000">32</text>
<text x="606.54" y="564.80" font-size="5.4" text-anchor="middle" fill="#000">40</text>
<text x="651.95" y="564.80" font-size="5.4" text-anchor="middle" fill="#000">48</text>
<text transform="translate(361.80,488.00) rotate(-90)" font-size="5.4" text-anchor="middle" fill="#000">30</text>
<text transform="translate(361.80,500.30) rotate(-90)" font-size="5.4" text-anchor="middle" fill="#000">28</text>
<text transform="translate(361.80,512.50) rotate(-90)" font-size="5.4" text-anchor="middle" fill="#000">26</text>
<text transform="translate(361.80,524.80) rotate(-90)" font-size="5.4" text-anchor="middle" fill="#000">24</text>
<text transform="translate(361.80,537.00) rotate(-90)" font-size="5.4" text-anchor="middle" fill="#000">22</text>
<text transform="translate(361.80,549.30) rotate(-90)" font-size="5.4" text-anchor="middle" fill="#000">20</text>
<text transform="translate(349.90,517.70) rotate(-90)" font-size="5.6" text-anchor="middle" fill="#000">CSF [a.u.]</text>
<rect x="470.32" y="584.40" width="45.41" height="72.90" fill="#e7e8e8"/>
<rect x="606.54" y="584.40" width="56.56" height="72.90" fill="#e7e8e8"/>
<path d="M379.50,584.40V657.30M424.91,584.40V657.30M470.32,584.40V657.30M515.72,584.40V657.30M561.13,584.40V657.30M606.54,584.40V657.30M651.95,584.40V657.30M368.90,588.60H663.10M368.90,610.30H663.10M368.90,632.00H663.10M368.90,653.70H663.10" stroke="#b4b4b4" stroke-width="0.7" stroke-dasharray="0.7,1.3" fill="none"/>
<clipPath id="c368_584"><rect x="368.90" y="584.40" width="294.20" height="72.90"/></clipPath>
<g clip-path="url(#c368_584)">
<path d="M379.5,601.4L380.9,601.6L382.4,601.8L383.8,602.0L385.3,602.1L386.7,602.3L388.1,602.5L389.6,602.7L391.0,602.9L392.5,603.0L393.9,603.2L395.4,603.4L396.8,603.6L398.2,603.7L399.7,603.9L401.1,604.1L402.6,604.2L404.0,604.4L405.4,604.6L406.9,604.7L408.3,604.9L409.8,605.0L411.2,605.2L412.7,605.3L414.1,605.5L415.5,605.6L417.0,605.7L418.4,605.9L419.9,606.0L421.3,606.1L422.7,606.2L424.2,606.3L425.6,606.5L427.1,606.6L428.5,606.7L430.0,606.7L431.4,606.8L432.8,606.9L434.3,607.0L435.7,607.1L437.2,607.2L438.6,607.2L440.0,607.3L441.5,607.4L442.9,607.4L444.4,607.5L445.8,607.5L447.3,607.6L448.7,607.6L450.1,607.7L451.6,607.7L453.0,607.8L454.5,607.8L455.9,607.9L457.3,607.9L458.8,607.9L460.2,608.0L461.7,608.0L463.1,608.0L464.5,608.1L466.0,608.1L467.4,608.1L468.9,608.2L470.3,608.2M470.3,608.2L471.8,608.0L473.2,607.8L474.7,607.5L476.2,607.3L477.6,607.1L479.1,606.9L480.6,606.7L482.0,606.4L483.5,606.2L485.0,606.0L486.4,605.8L487.9,605.6L489.4,605.3L490.8,605.1L492.3,604.9L493.8,604.7L495.2,604.5L496.7,604.3L498.1,604.0L499.6,603.8L501.1,603.6L502.5,603.4L504.0,603.2L505.5,602.9L506.9,602.7L508.4,602.5L509.9,602.3L511.3,602.1L512.8,601.8L514.3,601.6L515.7,601.4M515.7,601.4L517.2,601.6L518.6,601.8L520.0,602.0L521.5,602.1L522.9,602.3L524.4,602.5L525.8,602.7L527.3,602.9L528.7,603.0L530.1,603.2L531.6,603.4L533.0,603.6L534.5,603.7L535.9,603.9L537.3,604.1L538.8,604.2L540.2,604.4L541.7,604.6L543.1,604.7L544.6,604.9L546.0,605.0L547.4,605.2L548.9,605.3L550.3,605.5L551.8,605.6L553.2,605.7L554.6,605.9L556.1,606.0L557.5,606.1L559.0,606.2L560.4,606.3L561.9,606.5L563.3,606.6L564.7,606.7L566.2,606.7L567.6,606.8L569.1,606.9L570.5,607.0L571.9,607.1L573.4,607.2L574.8,607.2L576.3,607.3L577.7,607.4L579.2,607.4L580.6,607.5L582.0,607.5L583.5,607.6L584.9,607.6L586.4,607.7L587.8,607.7L589.2,607.8L590.7,607.8L592.1,607.9L593.6,607.9L595.0,607.9L596.4,608.0L597.9,608.0L599.3,608.0L600.8,608.1L602.2,608.1L603.7,608.1L605.1,608.2L606.5,608.2M606.5,608.2L608.0,608.0L609.5,607.8L610.9,607.5L612.4,607.3L613.9,607.1L615.3,606.9L616.8,606.7L618.3,606.4L619.7,606.2L621.2,606.0L622.7,605.8L624.1,605.6L625.6,605.3L627.0,605.1L628.5,604.9L630.0,604.7L631.4,604.5L632.9,604.3L634.4,604.0L635.8,603.8L637.3,603.6L638.8,603.4L640.2,603.2L641.7,602.9L643.2,602.7L644.6,602.5L646.1,602.3L647.6,602.1L649.0,601.8L650.5,601.6L651.9,601.4" fill="none" stroke="#c14fc1" stroke-width="1.35" stroke-linejoin="round"/>
<path d="M379.5,586.8L380.9,587.4L382.4,588.0L383.8,588.6L385.3,589.2L386.7,589.7L388.1,590.3L389.6,590.8L391.0,591.3L392.5,591.8L393.9,592.3L395.4,592.7L396.8,593.2L398.2,593.6L399.7,594.0L401.1,594.5L402.6,594.9L404.0,595.2L405.4,595.6L406.9,596.0L408.3,596.3L409.8,596.7L411.2,597.0L412.7,597.4L414.1,597.7L415.5,598.0L417.0,598.3L418.4,598.6L419.9,598.9L421.3,599.1L422.7,599.4L424.2,599.7L425.6,599.9L427.1,600.2L428.5,600.4L430.0,600.7L431.4,600.9L432.8,601.1L434.3,601.3L435.7,601.6L437.2,601.8L438.6,602.0L440.0,602.2L441.5,602.4L442.9,602.6L444.4,602.8L445.8,603.0L447.3,603.2L448.7,603.3L450.1,603.5L451.6,603.7L453.0,603.9L454.5,604.0L455.9,604.2L457.3,604.4L458.8,604.6L460.2,604.7L461.7,604.9L463.1,605.1L464.5,605.2L466.0,605.4L467.4,605.6L468.9,605.7L470.3,605.9M470.3,605.9L471.8,605.2L473.2,604.6L474.7,603.9L476.2,603.2L477.6,602.6L479.1,601.9L480.6,601.2L482.0,600.6L483.5,599.9L485.0,599.3L486.4,598.6L487.9,598.0L489.4,597.4L490.8,596.7L492.3,596.1L493.8,595.5L495.2,594.9L496.7,594.3L498.1,593.7L499.6,593.1L501.1,592.5L502.5,591.9L504.0,591.3L505.5,590.8L506.9,590.2L508.4,589.6L509.9,589.1L511.3,588.5L512.8,587.9L514.3,587.4L515.7,586.8M515.7,586.8L517.2,587.4L518.6,588.0L520.0,588.6L521.5,589.2L522.9,589.7L524.4,590.3L525.8,590.8L527.3,591.3L528.7,591.8L530.1,592.3L531.6,592.7L533.0,593.2L534.5,593.6L535.9,594.0L537.3,594.5L538.8,594.9L540.2,595.2L541.7,595.6L543.1,596.0L544.6,596.3L546.0,596.7L547.4,597.0L548.9,597.4L550.3,597.7L551.8,598.0L553.2,598.3L554.6,598.6L556.1,598.9L557.5,599.1L559.0,599.4L560.4,599.7L561.9,599.9L563.3,600.2L564.7,600.4L566.2,600.7L567.6,600.9L569.1,601.1L570.5,601.3L571.9,601.6L573.4,601.8L574.8,602.0L576.3,602.2L577.7,602.4L579.2,602.6L580.6,602.8L582.0,603.0L583.5,603.2L584.9,603.3L586.4,603.5L587.8,603.7L589.2,603.9L590.7,604.0L592.1,604.2L593.6,604.4L595.0,604.6L596.4,604.7L597.9,604.9L599.3,605.1L600.8,605.2L602.2,605.4L603.7,605.6L605.1,605.7L606.5,605.9M606.5,605.9L608.0,605.2L609.5,604.6L610.9,603.9L612.4,603.2L613.9,602.6L615.3,601.9L616.8,601.2L618.3,600.6L619.7,599.9L621.2,599.3L622.7,598.6L624.1,598.0L625.6,597.4L627.0,596.7L628.5,596.1L630.0,595.5L631.4,594.9L632.9,594.3L634.4,593.7L635.8,593.1L637.3,592.5L638.8,591.9L640.2,591.3L641.7,590.8L643.2,590.2L644.6,589.6L646.1,589.1L647.6,588.5L649.0,587.9L650.5,587.4L651.9,586.8" fill="none" stroke="#c14fc1" stroke-width="1.35" stroke-dasharray="0.1,4.4" stroke-linecap="round"/>
<path d="M379.5,640.4L380.9,639.9L382.4,639.5L383.8,639.0L385.3,638.6L386.7,638.2L388.1,637.8L389.6,637.4L391.0,637.0L392.5,636.7L393.9,636.3L395.4,636.0L396.8,635.7L398.2,635.4L399.7,635.1L401.1,634.8L402.6,634.5L404.0,634.3L405.4,634.0L406.9,633.8L408.3,633.5L409.8,633.3L411.2,633.1L412.7,632.9L414.1,632.7L415.5,632.5L417.0,632.3L418.4,632.1L419.9,632.0L421.3,631.8L422.7,631.6L424.2,631.5L425.6,631.3L427.1,631.2L428.5,631.0L430.0,630.9L431.4,630.7L432.8,630.6L434.3,630.5L435.7,630.3L437.2,630.2L438.6,630.1L440.0,630.0L441.5,629.9L442.9,629.8L444.4,629.7L445.8,629.6L447.3,629.5L448.7,629.4L450.1,629.4L451.6,629.3L453.0,629.2L454.5,629.2L455.9,629.1L457.3,629.1L458.8,629.1L460.2,629.1L461.7,629.0L463.1,629.0L464.5,629.0L466.0,629.0L467.4,629.0L468.9,629.1L470.3,629.1M470.3,629.1L471.8,629.8L473.2,630.4L474.7,631.1L476.2,631.7L477.6,632.4L479.1,633.0L480.6,633.6L482.0,634.2L483.5,634.8L485.0,635.4L486.4,635.9L487.9,636.4L489.4,636.9L490.8,637.4L492.3,637.9L493.8,638.3L495.2,638.7L496.7,639.1L498.1,639.4L499.6,639.7L501.1,640.0L502.5,640.2L504.0,640.4L505.5,640.6L506.9,640.7L508.4,640.8L509.9,640.8L511.3,640.8L512.8,640.7L514.3,640.6L515.7,640.4M515.7,640.4L517.2,639.9L518.6,639.5L520.0,639.0L521.5,638.6L522.9,638.2L524.4,637.8L525.8,637.4L527.3,637.0L528.7,636.7L530.1,636.3L531.6,636.0L533.0,635.7L534.5,635.4L535.9,635.1L537.3,634.8L538.8,634.5L540.2,634.3L541.7,634.0L543.1,633.8L544.6,633.5L546.0,633.3L547.4,633.1L548.9,632.9L550.3,632.7L551.8,632.5L553.2,632.3L554.6,632.1L556.1,632.0L557.5,631.8L559.0,631.6L560.4,631.5L561.9,631.3L563.3,631.2L564.7,631.0L566.2,630.9L567.6,630.7L569.1,630.6L570.5,630.5L571.9,630.3L573.4,630.2L574.8,630.1L576.3,630.0L577.7,629.9L579.2,629.8L580.6,629.7L582.0,629.6L583.5,629.5L584.9,629.4L586.4,629.4L587.8,629.3L589.2,629.2L590.7,629.2L592.1,629.1L593.6,629.1L595.0,629.1L596.4,629.1L597.9,629.0L599.3,629.0L600.8,629.0L602.2,629.0L603.7,629.0L605.1,629.1L606.5,629.1M606.5,629.1L608.0,629.8L609.5,630.4L610.9,631.1L612.4,631.7L613.9,632.4L615.3,633.0L616.8,633.6L618.3,634.2L619.7,634.8L621.2,635.4L622.7,635.9L624.1,636.4L625.6,636.9L627.0,637.4L628.5,637.9L630.0,638.3L631.4,638.7L632.9,639.1L634.4,639.4L635.8,639.7L637.3,640.0L638.8,640.2L640.2,640.4L641.7,640.6L643.2,640.7L644.6,640.8L646.1,640.8L647.6,640.8L649.0,640.7L650.5,640.6L651.9,640.4" fill="none" stroke="#2f7a2f" stroke-width="1.35" stroke-linejoin="round"/>
<path d="M379.5,635.6L380.9,635.3L382.4,635.1L383.8,634.8L385.3,634.6L386.7,634.4L388.1,634.1L389.6,633.9L391.0,633.7L392.5,633.5L393.9,633.3L395.4,633.1L396.8,632.9L398.2,632.7L399.7,632.5L401.1,632.4L402.6,632.2L404.0,632.0L405.4,631.9L406.9,631.7L408.3,631.6L409.8,631.4L411.2,631.3L412.7,631.2L414.1,631.0L415.5,630.9L417.0,630.8L418.4,630.7L419.9,630.6L421.3,630.5L422.7,630.3L424.2,630.2L425.6,630.2L427.1,630.1L428.5,630.0L430.0,629.9L431.4,629.8L432.8,629.7L434.3,629.6L435.7,629.6L437.2,629.5L438.6,629.4L440.0,629.4L441.5,629.3L442.9,629.2L444.4,629.2L445.8,629.1L447.3,629.1L448.7,629.0L450.1,629.0L451.6,628.9L453.0,628.9L454.5,628.8L455.9,628.8L457.3,628.7L458.8,628.7L460.2,628.7L461.7,628.6L463.1,628.6L464.5,628.5L466.0,628.5L467.4,628.5L468.9,628.4L470.3,628.4M470.3,628.4L471.8,628.9L473.2,629.5L474.7,630.0L476.2,630.5L477.6,630.9L479.1,631.4L480.6,631.8L482.0,632.2L483.5,632.6L485.0,633.0L486.4,633.4L487.9,633.7L489.4,634.0L490.8,634.3L492.3,634.6L493.8,634.8L495.2,635.0L496.7,635.3L498.1,635.4L499.6,635.6L501.1,635.7L502.5,635.8L504.0,635.9L505.5,636.0L506.9,636.0L508.4,636.0L509.9,636.0L511.3,635.9L512.8,635.8L514.3,635.7L515.7,635.6M515.7,635.6L517.2,635.3L518.6,635.1L520.0,634.8L521.5,634.6L522.9,634.4L524.4,634.1L525.8,633.9L527.3,633.7L528.7,633.5L530.1,633.3L531.6,633.1L533.0,632.9L534.5,632.7L535.9,632.5L537.3,632.4L538.8,632.2L540.2,632.0L541.7,631.9L543.1,631.7L544.6,631.6L546.0,631.4L547.4,631.3L548.9,631.2L550.3,631.0L551.8,630.9L553.2,630.8L554.6,630.7L556.1,630.6L557.5,630.5L559.0,630.3L560.4,630.2L561.9,630.2L563.3,630.1L564.7,630.0L566.2,629.9L567.6,629.8L569.1,629.7L570.5,629.6L571.9,629.6L573.4,629.5L574.8,629.4L576.3,629.4L577.7,629.3L579.2,629.2L580.6,629.2L582.0,629.1L583.5,629.1L584.9,629.0L586.4,629.0L587.8,628.9L589.2,628.9L590.7,628.8L592.1,628.8L593.6,628.7L595.0,628.7L596.4,628.7L597.9,628.6L599.3,628.6L600.8,628.5L602.2,628.5L603.7,628.5L605.1,628.4L606.5,628.4M606.5,628.4L608.0,628.9L609.5,629.5L610.9,630.0L612.4,630.5L613.9,630.9L615.3,631.4L616.8,631.8L618.3,632.2L619.7,632.6L621.2,633.0L622.7,633.4L624.1,633.7L625.6,634.0L627.0,634.3L628.5,634.6L630.0,634.8L631.4,635.0L632.9,635.3L634.4,635.4L635.8,635.6L637.3,635.7L638.8,635.8L640.2,635.9L641.7,636.0L643.2,636.0L644.6,636.0L646.1,636.0L647.6,635.9L649.0,635.8L650.5,635.7L651.9,635.6" fill="none" stroke="#2f7a2f" stroke-width="1.35" stroke-dasharray="4.8,3"/>
<path d="M379.5,653.2L380.9,652.6L382.4,651.9L383.8,651.2L385.3,650.4L386.7,649.6L388.1,648.8L389.6,648.0L391.0,647.2L392.5,646.3L393.9,645.4L395.4,644.6L396.8,643.7L398.2,642.8L399.7,641.9L401.1,641.1L402.6,640.3L404.0,639.5L405.4,638.7L406.9,637.9L408.3,637.2L409.8,636.4L411.2,635.8L412.7,635.1L414.1,634.4L415.5,633.8L417.0,633.3L418.4,632.7L419.9,632.2L421.3,631.7L422.7,631.3L424.2,630.9L425.6,630.5L427.1,630.2L428.5,629.9L430.0,629.6L431.4,629.4L432.8,629.2L434.3,629.0L435.7,628.9L437.2,628.8L438.6,628.7L440.0,628.6L441.5,628.5L442.9,628.5L444.4,628.4L445.8,628.4L447.3,628.4L448.7,628.4L450.1,628.4L451.6,628.4L453.0,628.4L454.5,628.4L455.9,628.4L457.3,628.4L458.8,628.4L460.2,628.4L461.7,628.4L463.1,628.4L464.5,628.3L466.0,628.3L467.4,628.2L468.9,628.1L470.3,628.0M470.3,628.0L471.8,629.0L473.2,630.1L474.7,631.1L476.2,632.1L477.6,633.1L479.1,634.2L480.6,635.2L482.0,636.2L483.5,637.2L485.0,638.1L486.4,639.1L487.9,640.1L489.4,641.0L490.8,641.9L492.3,642.8L493.8,643.7L495.2,644.5L496.7,645.3L498.1,646.1L499.6,646.9L501.1,647.7L502.5,648.4L504.0,649.1L505.5,649.7L506.9,650.3L508.4,650.9L509.9,651.4L511.3,651.9L512.8,652.4L514.3,652.8L515.7,653.2M515.7,653.2L517.2,652.6L518.6,651.9L520.0,651.2L521.5,650.4L522.9,649.6L524.4,648.8L525.8,648.0L527.3,647.2L528.7,646.3L530.1,645.4L531.6,644.6L533.0,643.7L534.5,642.8L535.9,641.9L537.3,641.1L538.8,640.3L540.2,639.5L541.7,638.7L543.1,637.9L544.6,637.2L546.0,636.4L547.4,635.8L548.9,635.1L550.3,634.4L551.8,633.8L553.2,633.3L554.6,632.7L556.1,632.2L557.5,631.7L559.0,631.3L560.4,630.9L561.9,630.5L563.3,630.2L564.7,629.9L566.2,629.6L567.6,629.4L569.1,629.2L570.5,629.0L571.9,628.9L573.4,628.8L574.8,628.7L576.3,628.6L577.7,628.5L579.2,628.5L580.6,628.4L582.0,628.4L583.5,628.4L584.9,628.4L586.4,628.4L587.8,628.4L589.2,628.4L590.7,628.4L592.1,628.4L593.6,628.4L595.0,628.4L596.4,628.4L597.9,628.4L599.3,628.4L600.8,628.3L602.2,628.3L603.7,628.2L605.1,628.1L606.5,628.0M606.5,628.0L608.0,629.0L609.5,630.1L610.9,631.1L612.4,632.1L613.9,633.1L615.3,634.2L616.8,635.2L618.3,636.2L619.7,637.2L621.2,638.1L622.7,639.1L624.1,640.1L625.6,641.0L627.0,641.9L628.5,642.8L630.0,643.7L631.4,644.5L632.9,645.3L634.4,646.1L635.8,646.9L637.3,647.7L638.8,648.4L640.2,649.1L641.7,649.7L643.2,650.3L644.6,650.9L646.1,651.4L647.6,651.9L649.0,652.4L650.5,652.8L651.9,653.2" fill="none" stroke="#2f7a2f" stroke-width="1.35" stroke-dasharray="0.1,4.4" stroke-linecap="round"/>
</g>
<path d="M376.20,591.60H387.50" stroke="#2f7a2f" stroke-width="1.9"/>
<text x="392.90" y="593.50" font-size="5.5" fill="#000">ISF</text>
<path d="M376.20,598.20H387.50" stroke="#c14fc1" stroke-width="1.9"/>
<text x="392.90" y="600.10" font-size="5.5" fill="#000">Cell</text>
<rect x="368.90" y="584.40" width="294.20" height="72.90" fill="none" stroke="#333" stroke-width="1.1"/>
<path d="M379.50,657.30v2.8M424.91,657.30v2.8M470.32,657.30v2.8M515.72,657.30v2.8M561.13,657.30v2.8M606.54,657.30v2.8M651.95,657.30v2.8M368.90,588.60h-2.8M368.90,610.30h-2.8M368.90,632.00h-2.8M368.90,653.70h-2.8" stroke="#333" stroke-width="0.8" fill="none"/>
<text x="379.50" y="667.90" font-size="5.4" text-anchor="middle" fill="#000">0</text>
<text x="424.91" y="667.90" font-size="5.4" text-anchor="middle" fill="#000">8</text>
<text x="470.32" y="667.90" font-size="5.4" text-anchor="middle" fill="#000">16</text>
<text x="515.72" y="667.90" font-size="5.4" text-anchor="middle" fill="#000">24</text>
<text x="561.13" y="667.90" font-size="5.4" text-anchor="middle" fill="#000">32</text>
<text x="606.54" y="667.90" font-size="5.4" text-anchor="middle" fill="#000">40</text>
<text x="651.95" y="667.90" font-size="5.4" text-anchor="middle" fill="#000">48</text>
<text transform="translate(361.80,588.60) rotate(-90)" font-size="5.4" text-anchor="middle" fill="#000">250</text>
<text transform="translate(361.80,610.30) rotate(-90)" font-size="5.4" text-anchor="middle" fill="#000">200</text>
<text transform="translate(361.80,632.00) rotate(-90)" font-size="5.4" text-anchor="middle" fill="#000">150</text>
<text transform="translate(361.80,653.70) rotate(-90)" font-size="5.4" text-anchor="middle" fill="#000">100</text>
<text transform="translate(349.90,620.85) rotate(-90)" font-size="5.6" text-anchor="middle" fill="#000">Other [a.u.]</text>
<text x="3.2" y="348.7" font-size="15.6" font-weight="bold" fill="#111">B</text>
<text x="26.8" y="349.8" font-size="14.2" font-weight="bold" fill="#111" textLength="290.6" lengthAdjust="spacingAndGlyphs">Increasing Solute Production and Clearance</text>
<text x="345.4" y="349.6" font-size="15.6" font-weight="bold" fill="#111">C</text>
<text x="368.9" y="350.0" font-size="14.2" font-weight="bold" fill="#111" textLength="294.6" lengthAdjust="spacingAndGlyphs">Decreasing Solute Production and Clearance</text>
<path d="M42.90,364.6h12.8" stroke="#999" stroke-width="1.3"/>
<text x="61.50" y="366.9" font-size="6.9" fill="#222">Null (solid)</text>
<path d="M132.70,364.6h13.4" stroke="#999" stroke-width="1.3" stroke-dasharray="4,4.5"/>
<text x="151.60" y="366.9" font-size="6.9" fill="#222">Increased Clearance</text>
<path d="M222.80,364.6h15.2" stroke="#999" stroke-width="1.1" stroke-dasharray="0.8,4.6" stroke-linecap="round"/>
<text x="241.70" y="366.9" font-size="6.9" fill="#222">Increased Production</text>
<path d="M380.90,364.6h12.8" stroke="#999" stroke-width="1.3"/>
<text x="399.80" y="366.9" font-size="6.9" fill="#222">Null (solid)</text>
<path d="M474.10,364.6h13.4" stroke="#999" stroke-width="1.3" stroke-dasharray="4,4.5"/>
<text x="493.00" y="366.9" font-size="6.9" fill="#222">Decreased Clearance</text>
<path d="M566.40,364.6h15.2" stroke="#999" stroke-width="1.1" stroke-dasharray="0.8,4.6" stroke-linecap="round"/>
<text x="585.80" y="366.9" font-size="6.9" fill="#222">Decreased Production</text>
<text x="173.6" y="680.3" font-size="9.6" text-anchor="middle" fill="#111">Time [hr]</text>
<text x="515.8" y="680.3" font-size="9.6" text-anchor="middle" fill="#111">Time [hr]</text>
</svg>
</body></html>
